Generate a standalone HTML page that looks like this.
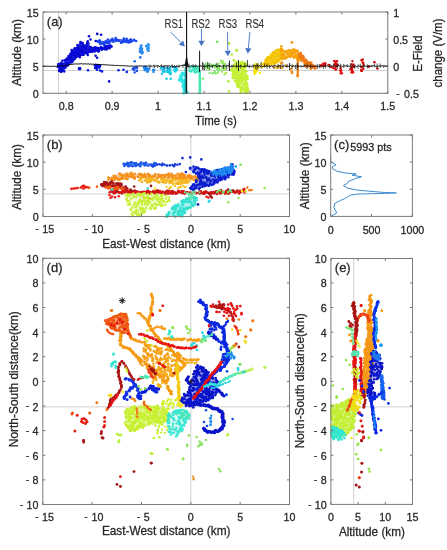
<!DOCTYPE html>
<html><head><meta charset="utf-8"><title>Figure</title>
<style>html,body{margin:0;padding:0;background:#fff;overflow:hidden}svg{display:block}text{stroke:#2a2a2a;stroke-width:0.28px}</style>
</head><body>
<svg width="447" height="550" viewBox="0 0 447 550" font-family="Liberation Sans, Arial, sans-serif">
<rect width="447" height="550" fill="#ffffff"/>
<line x1="58.50" y1="12.00" x2="58.50" y2="93.30" stroke="#d0d0d0" stroke-width="1"/>
<line x1="43.00" y1="70.50" x2="387.80" y2="70.50" stroke="#d0d0d0" stroke-width="1"/>
<line x1="190.90" y1="135.00" x2="190.90" y2="216.50" stroke="#d0d0d0" stroke-width="1"/>
<line x1="43.00" y1="193.90" x2="289.50" y2="193.90" stroke="#d0d0d0" stroke-width="1"/>
<line x1="190.82" y1="258.30" x2="190.82" y2="504.50" stroke="#d0d0d0" stroke-width="1"/>
<line x1="42.80" y1="406.90" x2="289.50" y2="406.90" stroke="#d0d0d0" stroke-width="1"/>
<line x1="353.75" y1="258.50" x2="353.75" y2="504.40" stroke="#d0d0d0" stroke-width="1"/>
<line x1="330.90" y1="406.90" x2="412.50" y2="406.90" stroke="#d0d0d0" stroke-width="1"/>
<polygon points="58.4,71.3 58.4,63.5 60.6,63.3 63.4,62.4 66.8,59.0 69.6,53.4 71.8,50.6 75.7,47.8 78.5,44.5 80.2,42.2 82.4,42.8 84.7,44.5 87.0,43.6 89.0,44.7 91.7,47.4 98.4,48.1 105.1,46.1 110.5,45.4 111.5,47.0 108.5,49.4 105.1,49.4 98.4,50.8 93.7,52.1 88.0,52.9 83.6,54.5 79.6,56.8 76.8,57.9 73.5,59.6 68.5,65.7 65.1,68.0 64.5,71.3" fill="#0a0ad7" fill-opacity="0.92"/>
<g fill="#0a0ad7"><circle cx="86.9" cy="52.8" r="1.25"/><circle cx="68.0" cy="59.1" r="1.25"/><circle cx="87.5" cy="44.0" r="1.25"/><circle cx="82.5" cy="50.9" r="1.25"/><circle cx="71.4" cy="58.9" r="1.25"/><circle cx="97.1" cy="50.6" r="1.25"/><circle cx="110.4" cy="45.6" r="1.25"/><circle cx="61.5" cy="64.6" r="1.25"/><circle cx="73.2" cy="54.3" r="1.25"/><circle cx="109.3" cy="46.6" r="1.25"/><circle cx="70.8" cy="56.3" r="1.25"/><circle cx="89.7" cy="49.8" r="1.25"/><circle cx="79.2" cy="53.8" r="1.25"/><circle cx="59.8" cy="67.6" r="1.25"/><circle cx="71.8" cy="52.3" r="1.25"/><circle cx="77.7" cy="45.8" r="1.25"/><circle cx="76.6" cy="49.9" r="1.25"/><circle cx="59.6" cy="69.9" r="1.25"/><circle cx="86.5" cy="46.5" r="1.25"/><circle cx="72.3" cy="52.9" r="1.25"/><circle cx="67.3" cy="64.7" r="1.25"/><circle cx="75.9" cy="48.7" r="1.25"/><circle cx="70.4" cy="57.3" r="1.25"/><circle cx="67.9" cy="65.2" r="1.25"/><circle cx="66.2" cy="66.3" r="1.25"/><circle cx="102.3" cy="48.3" r="1.25"/><circle cx="71.8" cy="50.7" r="1.25"/><circle cx="71.2" cy="59.3" r="1.25"/><circle cx="72.2" cy="54.4" r="1.25"/><circle cx="77.2" cy="55.5" r="1.25"/><circle cx="81.8" cy="47.5" r="1.25"/><circle cx="58.6" cy="65.5" r="1.25"/><circle cx="75.7" cy="57.3" r="1.25"/><circle cx="66.6" cy="63.0" r="1.25"/><circle cx="79.5" cy="56.4" r="1.25"/><circle cx="85.8" cy="52.1" r="1.25"/><circle cx="61.8" cy="70.9" r="1.25"/><circle cx="60.5" cy="64.9" r="1.25"/><circle cx="101.9" cy="49.7" r="1.25"/><circle cx="62.2" cy="69.5" r="1.25"/><circle cx="62.8" cy="67.1" r="1.25"/><circle cx="61.9" cy="67.3" r="1.25"/><circle cx="82.5" cy="52.1" r="1.25"/><circle cx="86.4" cy="49.1" r="1.25"/><circle cx="75.0" cy="51.1" r="1.25"/><circle cx="98.7" cy="50.6" r="1.25"/><circle cx="85.0" cy="47.4" r="1.25"/><circle cx="68.5" cy="56.0" r="1.25"/><circle cx="79.9" cy="52.3" r="1.25"/><circle cx="62.2" cy="63.8" r="1.25"/><circle cx="62.9" cy="66.7" r="1.25"/><circle cx="74.0" cy="55.6" r="1.25"/><circle cx="74.8" cy="52.6" r="1.25"/><circle cx="69.1" cy="56.9" r="1.25"/><circle cx="74.6" cy="49.0" r="1.25"/><circle cx="79.1" cy="51.7" r="1.25"/><circle cx="110.7" cy="46.5" r="1.25"/><circle cx="60.7" cy="66.5" r="1.25"/><circle cx="64.0" cy="66.5" r="1.25"/><circle cx="97.5" cy="49.5" r="1.25"/><circle cx="97.1" cy="48.2" r="1.25"/><circle cx="84.6" cy="53.3" r="1.25"/><circle cx="94.3" cy="50.7" r="1.25"/><circle cx="83.2" cy="45.6" r="1.25"/><circle cx="105.9" cy="48.0" r="1.25"/><circle cx="82.3" cy="50.0" r="1.25"/><circle cx="69.6" cy="59.1" r="1.25"/><circle cx="109.0" cy="46.1" r="1.25"/><circle cx="82.3" cy="51.0" r="1.25"/><circle cx="58.5" cy="64.0" r="1.25"/><circle cx="78.2" cy="53.6" r="1.25"/><circle cx="77.6" cy="54.7" r="1.25"/><circle cx="63.8" cy="66.5" r="1.25"/><circle cx="85.5" cy="47.7" r="1.25"/><circle cx="107.6" cy="45.9" r="1.25"/><circle cx="83.5" cy="52.2" r="1.25"/><circle cx="93.2" cy="51.0" r="1.25"/><circle cx="84.8" cy="48.6" r="1.25"/><circle cx="82.3" cy="46.3" r="1.25"/><circle cx="78.4" cy="52.0" r="1.25"/><circle cx="109.8" cy="45.9" r="1.25"/><circle cx="104.2" cy="48.5" r="1.25"/><circle cx="79.6" cy="55.2" r="1.25"/><circle cx="60.5" cy="65.0" r="1.25"/><circle cx="92.7" cy="51.0" r="1.25"/><circle cx="79.0" cy="48.7" r="1.25"/><circle cx="74.4" cy="55.6" r="1.25"/><circle cx="80.7" cy="49.7" r="1.25"/><circle cx="76.4" cy="54.4" r="1.25"/><circle cx="94.6" cy="48.0" r="1.25"/><circle cx="85.2" cy="48.2" r="1.25"/><circle cx="101.9" cy="48.9" r="1.25"/><circle cx="84.7" cy="47.7" r="1.25"/><circle cx="70.3" cy="54.3" r="1.25"/><circle cx="78.3" cy="51.9" r="1.25"/><circle cx="73.3" cy="52.4" r="1.25"/><circle cx="109.1" cy="45.8" r="1.25"/><circle cx="109.6" cy="48.2" r="1.25"/><circle cx="76.4" cy="50.1" r="1.25"/><circle cx="75.2" cy="50.2" r="1.25"/><circle cx="58.6" cy="64.2" r="1.25"/><circle cx="70.8" cy="56.0" r="1.25"/><circle cx="78.9" cy="49.5" r="1.25"/><circle cx="107.7" cy="47.5" r="1.25"/><circle cx="90.6" cy="51.7" r="1.25"/><circle cx="75.4" cy="52.7" r="1.25"/><circle cx="68.9" cy="64.1" r="1.25"/><circle cx="70.8" cy="54.3" r="1.25"/><circle cx="89.1" cy="51.7" r="1.25"/><circle cx="85.3" cy="48.9" r="1.25"/><circle cx="71.9" cy="59.6" r="1.25"/><circle cx="93.0" cy="48.1" r="1.25"/><circle cx="67.1" cy="62.4" r="1.25"/><circle cx="80.2" cy="50.4" r="1.25"/><circle cx="75.0" cy="58.7" r="1.25"/><circle cx="77.4" cy="54.3" r="1.25"/><circle cx="77.7" cy="47.9" r="1.25"/><circle cx="97.1" cy="48.1" r="1.25"/><circle cx="59.0" cy="71.1" r="1.25"/><circle cx="58.2" cy="65.5" r="1.25"/><circle cx="57.9" cy="66.9" r="1.25"/><circle cx="59.8" cy="64.0" r="1.25"/><circle cx="61.0" cy="63.0" r="1.25"/><circle cx="64.5" cy="60.3" r="1.25"/><circle cx="65.9" cy="60.0" r="1.25"/><circle cx="68.7" cy="57.0" r="1.25"/><circle cx="66.8" cy="58.6" r="1.25"/><circle cx="71.7" cy="50.0" r="1.25"/><circle cx="75.2" cy="48.7" r="1.25"/><circle cx="74.7" cy="48.3" r="1.25"/><circle cx="77.5" cy="45.1" r="1.25"/><circle cx="80.5" cy="42.0" r="1.25"/><circle cx="80.5" cy="42.4" r="1.25"/><circle cx="82.7" cy="43.0" r="1.25"/><circle cx="87.0" cy="43.1" r="1.25"/><circle cx="88.5" cy="43.5" r="1.25"/><circle cx="90.7" cy="47.1" r="1.25"/><circle cx="95.6" cy="47.5" r="1.25"/><circle cx="94.6" cy="47.6" r="1.25"/><circle cx="96.0" cy="47.8" r="1.25"/><circle cx="98.7" cy="48.0" r="1.25"/><circle cx="100.4" cy="48.1" r="1.25"/><circle cx="101.0" cy="47.1" r="1.25"/><circle cx="105.1" cy="45.9" r="1.25"/><circle cx="105.5" cy="46.1" r="1.25"/><circle cx="111.6" cy="46.4" r="1.25"/><circle cx="106.5" cy="49.4" r="1.25"/><circle cx="104.7" cy="49.3" r="1.25"/><circle cx="98.1" cy="51.3" r="1.25"/><circle cx="98.8" cy="51.3" r="1.25"/><circle cx="98.3" cy="51.0" r="1.25"/><circle cx="94.6" cy="51.5" r="1.25"/><circle cx="89.9" cy="52.0" r="1.25"/><circle cx="92.1" cy="51.8" r="1.25"/><circle cx="83.7" cy="54.8" r="1.25"/><circle cx="87.4" cy="53.8" r="1.25"/><circle cx="82.4" cy="55.0" r="1.25"/><circle cx="81.6" cy="54.7" r="1.25"/><circle cx="79.8" cy="57.3" r="1.25"/><circle cx="73.3" cy="59.9" r="1.25"/><circle cx="73.0" cy="60.5" r="1.25"/><circle cx="72.3" cy="61.9" r="1.25"/><circle cx="71.2" cy="62.5" r="1.25"/><circle cx="65.3" cy="67.8" r="1.25"/><circle cx="64.2" cy="71.4" r="1.25"/><circle cx="60.8" cy="71.7" r="1.25"/><circle cx="61.3" cy="71.7" r="1.25"/></g>
<defs><linearGradient id="gA1" gradientUnits="userSpaceOnUse" x1="98" y1="0" x2="137" y2="0"><stop offset="0" stop-color="#1028e8"/><stop offset="1" stop-color="#2a64f0"/></linearGradient></defs>
<polygon points="98.4,40.7 105.1,41.0 115.0,38.7 125.0,39.2 133.0,39.8 136.8,40.8 133.0,42.0 122.0,42.2 115.0,41.6 108.5,43.0 101.8,44.7 98.4,43.5" fill="url(#gA1)" fill-opacity="0.8"/>
<g fill="#1a44ec"><circle cx="100.3" cy="43.6" r="1.25"/><circle cx="108.1" cy="42.5" r="1.25"/><circle cx="123.9" cy="40.6" r="1.25"/><circle cx="104.1" cy="42.4" r="1.25"/><circle cx="107.1" cy="42.6" r="1.25"/><circle cx="112.1" cy="40.0" r="1.25"/><circle cx="106.2" cy="42.4" r="1.25"/><circle cx="116.6" cy="39.5" r="1.25"/><circle cx="134.4" cy="40.2" r="1.25"/><circle cx="128.4" cy="41.1" r="1.25"/><circle cx="123.2" cy="42.1" r="1.25"/><circle cx="126.6" cy="40.2" r="1.25"/><circle cx="118.8" cy="41.1" r="1.25"/><circle cx="121.8" cy="41.7" r="1.25"/><circle cx="115.8" cy="40.1" r="1.25"/><circle cx="108.6" cy="42.0" r="1.25"/><circle cx="118.5" cy="40.3" r="1.25"/><circle cx="107.5" cy="43.2" r="1.25"/><circle cx="111.0" cy="40.1" r="1.25"/><circle cx="131.3" cy="41.3" r="1.25"/><circle cx="126.2" cy="42.1" r="1.25"/><circle cx="100.0" cy="41.0" r="1.25"/><circle cx="99.6" cy="40.2" r="1.25"/><circle cx="98.0" cy="41.4" r="1.25"/><circle cx="107.9" cy="39.5" r="1.25"/><circle cx="105.8" cy="41.1" r="1.25"/><circle cx="112.4" cy="38.7" r="1.25"/><circle cx="110.7" cy="40.2" r="1.25"/><circle cx="123.8" cy="38.4" r="1.25"/><circle cx="124.3" cy="39.8" r="1.25"/><circle cx="115.6" cy="38.1" r="1.25"/><circle cx="115.9" cy="39.2" r="1.25"/><circle cx="130.6" cy="39.8" r="1.25"/><circle cx="126.7" cy="38.7" r="1.25"/><circle cx="130.6" cy="39.4" r="1.25"/><circle cx="133.8" cy="39.8" r="1.25"/><circle cx="136.1" cy="40.9" r="1.25"/><circle cx="130.2" cy="42.1" r="1.25"/><circle cx="123.8" cy="41.4" r="1.25"/><circle cx="128.4" cy="42.5" r="1.25"/><circle cx="129.5" cy="42.1" r="1.25"/><circle cx="131.2" cy="41.4" r="1.25"/><circle cx="115.7" cy="40.9" r="1.25"/><circle cx="121.0" cy="42.8" r="1.25"/><circle cx="122.0" cy="42.2" r="1.25"/><circle cx="109.3" cy="42.7" r="1.25"/><circle cx="113.3" cy="41.7" r="1.25"/><circle cx="108.5" cy="42.5" r="1.25"/><circle cx="103.8" cy="43.6" r="1.25"/><circle cx="103.6" cy="44.5" r="1.25"/><circle cx="104.3" cy="44.4" r="1.25"/><circle cx="100.4" cy="44.1" r="1.25"/><circle cx="97.7" cy="41.6" r="1.25"/></g>
<g fill="#0a0ad7"><circle cx="89.0" cy="36.3" r="1.3"/><circle cx="97.2" cy="33.9" r="1.3"/><circle cx="101.1" cy="34.7" r="1.3"/><circle cx="95.7" cy="41.0" r="1.3"/><circle cx="87.7" cy="41.4" r="1.3"/><circle cx="95.6" cy="55.8" r="1.3"/><circle cx="87.8" cy="55.0" r="1.3"/><circle cx="97.1" cy="57.8" r="1.3"/><circle cx="62.3" cy="60.8" r="1.3"/><circle cx="109.1" cy="81.4" r="1.3"/><circle cx="90.5" cy="39.5" r="1.3"/></g>
<g fill="#0a0ad7"><circle cx="79.6" cy="68.6" r="1.9"/></g>
<g fill="#0a14dc"><circle cx="95.1" cy="68.1" r="1.3"/><circle cx="97.0" cy="66.0" r="1.3"/><circle cx="100.1" cy="65.4" r="1.3"/><circle cx="96.7" cy="66.6" r="1.3"/><circle cx="99.0" cy="67.5" r="1.3"/><circle cx="98.2" cy="65.9" r="1.3"/><circle cx="95.6" cy="65.1" r="1.3"/><circle cx="99.7" cy="67.1" r="1.3"/><circle cx="98.9" cy="65.2" r="1.3"/><circle cx="96.5" cy="67.6" r="1.3"/><circle cx="97.6" cy="65.0" r="1.3"/><circle cx="96.7" cy="68.0" r="1.3"/><circle cx="94.9" cy="65.3" r="1.3"/><circle cx="95.4" cy="67.3" r="1.3"/></g>
<g fill="#0a1ee0"><circle cx="97.0" cy="69.7" r="1.3"/><circle cx="88.0" cy="70.3" r="1.3"/><circle cx="102.0" cy="71.4" r="1.3"/><circle cx="118.5" cy="70.3" r="1.3"/><circle cx="123.5" cy="69.7" r="1.3"/><circle cx="126.8" cy="71.9" r="1.3"/><circle cx="100.0" cy="70.5" r="1.3"/></g>
<g fill="#1e50f0"><circle cx="137.1" cy="67.8" r="1.2"/><circle cx="133.3" cy="68.3" r="1.2"/><circle cx="134.2" cy="69.8" r="1.2"/><circle cx="133.3" cy="68.7" r="1.2"/><circle cx="136.5" cy="67.5" r="1.2"/><circle cx="134.6" cy="72.4" r="1.2"/><circle cx="136.9" cy="71.0" r="1.2"/><circle cx="134.8" cy="68.0" r="1.2"/><circle cx="136.0" cy="67.5" r="1.2"/><circle cx="133.6" cy="69.1" r="1.2"/><circle cx="132.6" cy="69.1" r="1.2"/><circle cx="136.8" cy="70.8" r="1.2"/></g>
<g fill="#1e64f0"><circle cx="134.7" cy="61.3" r="1.3"/><circle cx="140.3" cy="57.4" r="1.3"/></g>
<g fill="#2a8cf0"><circle cx="141.0" cy="50.8" r="1.2"/><circle cx="140.8" cy="45.9" r="1.2"/><circle cx="141.5" cy="48.5" r="1.2"/><circle cx="142.1" cy="53.6" r="1.2"/><circle cx="140.7" cy="50.2" r="1.2"/><circle cx="142.1" cy="48.7" r="1.2"/><circle cx="139.8" cy="51.7" r="1.2"/><circle cx="142.7" cy="52.2" r="1.2"/><circle cx="141.9" cy="53.0" r="1.2"/><circle cx="141.8" cy="50.9" r="1.2"/><circle cx="140.8" cy="47.6" r="1.2"/><circle cx="141.6" cy="45.5" r="1.2"/><circle cx="140.6" cy="52.3" r="1.2"/><circle cx="141.9" cy="50.8" r="1.2"/><circle cx="139.9" cy="48.7" r="1.2"/><circle cx="140.8" cy="50.7" r="1.2"/></g>
<g fill="#2a96f0"><circle cx="147.4" cy="49.5" r="1.2"/><circle cx="148.4" cy="50.4" r="1.2"/><circle cx="147.4" cy="47.9" r="1.2"/><circle cx="148.0" cy="45.0" r="1.2"/><circle cx="147.9" cy="44.5" r="1.2"/><circle cx="148.1" cy="48.4" r="1.2"/><circle cx="148.7" cy="48.1" r="1.2"/><circle cx="148.4" cy="50.9" r="1.2"/><circle cx="147.9" cy="47.2" r="1.2"/><circle cx="148.5" cy="47.1" r="1.2"/><circle cx="148.9" cy="44.7" r="1.2"/><circle cx="146.0" cy="46.0" r="1.2"/></g>
<g fill="#1e82f0"><circle cx="145.3" cy="66.8" r="1.2"/><circle cx="145.4" cy="69.2" r="1.2"/><circle cx="147.3" cy="68.8" r="1.2"/><circle cx="144.4" cy="68.0" r="1.2"/><circle cx="146.2" cy="68.0" r="1.2"/><circle cx="148.1" cy="69.1" r="1.2"/><circle cx="144.0" cy="67.5" r="1.2"/><circle cx="147.9" cy="71.6" r="1.2"/><circle cx="146.9" cy="69.5" r="1.2"/><circle cx="146.4" cy="68.1" r="1.2"/><circle cx="149.2" cy="68.8" r="1.2"/><circle cx="146.9" cy="71.6" r="1.2"/><circle cx="148.2" cy="69.5" r="1.2"/><circle cx="144.6" cy="70.0" r="1.2"/></g>
<g fill="#1e8cf0"><circle cx="153.5" cy="72.1" r="1.2"/><circle cx="153.3" cy="70.2" r="1.2"/><circle cx="153.3" cy="70.4" r="1.2"/><circle cx="154.2" cy="69.8" r="1.2"/><circle cx="153.3" cy="69.9" r="1.2"/></g>
<g fill="#1ebee6"><circle cx="162.5" cy="69.7" r="1.2"/><circle cx="163.2" cy="71.6" r="1.2"/><circle cx="162.0" cy="73.7" r="1.2"/><circle cx="163.8" cy="67.4" r="1.2"/><circle cx="164.1" cy="71.4" r="1.2"/><circle cx="164.6" cy="71.5" r="1.2"/><circle cx="161.5" cy="67.1" r="1.2"/><circle cx="161.0" cy="68.2" r="1.2"/><circle cx="163.8" cy="69.1" r="1.2"/><circle cx="163.9" cy="67.6" r="1.2"/></g>
<g fill="#14cce6"><circle cx="170.5" cy="72.9" r="1.2"/><circle cx="170.0" cy="73.3" r="1.2"/><circle cx="170.5" cy="74.3" r="1.2"/><circle cx="170.3" cy="69.6" r="1.2"/><circle cx="169.6" cy="72.2" r="1.2"/><circle cx="169.9" cy="71.5" r="1.2"/><circle cx="170.5" cy="72.4" r="1.2"/><circle cx="167.8" cy="69.9" r="1.2"/><circle cx="167.2" cy="71.9" r="1.2"/><circle cx="166.9" cy="71.7" r="1.2"/><circle cx="167.2" cy="71.9" r="1.2"/><circle cx="168.8" cy="72.3" r="1.2"/></g>
<g fill="#14d2e6"><circle cx="176.8" cy="69.7" r="1.2"/><circle cx="175.8" cy="70.4" r="1.2"/><circle cx="176.8" cy="69.3" r="1.2"/><circle cx="175.3" cy="71.5" r="1.2"/><circle cx="174.1" cy="70.3" r="1.2"/><circle cx="176.1" cy="68.1" r="1.2"/></g>
<g fill="#10b4dc"><circle cx="169.8" cy="68.5" r="1.0"/><circle cx="174.9" cy="67.5" r="1.0"/><circle cx="175.7" cy="68.0" r="1.0"/><circle cx="167.8" cy="69.2" r="1.0"/><circle cx="170.0" cy="67.5" r="1.0"/><circle cx="173.8" cy="67.6" r="1.0"/><circle cx="167.6" cy="68.1" r="1.0"/><circle cx="172.3" cy="67.1" r="1.0"/><circle cx="167.0" cy="67.8" r="1.0"/><circle cx="168.9" cy="69.0" r="1.0"/><circle cx="164.7" cy="69.0" r="1.0"/><circle cx="166.5" cy="68.0" r="1.0"/><circle cx="164.3" cy="68.0" r="1.0"/><circle cx="175.6" cy="68.5" r="1.0"/></g>
<g fill="#14d2e6"><circle cx="166.6" cy="78.8" r="1.3"/><circle cx="170.7" cy="78.8" r="1.3"/></g>
<polygon points="181.9,72.5 183.6,72.5 184.1,75.2 181.9,77.0 182.8,79.2 185.0,82.4 185.9,86.9 186.8,93.1 183.2,93.1 183.6,88.6 181.9,84.2 179.6,80.6 178.3,77.9 180.1,75.7" fill="#28e6e6" fill-opacity="0.85"/>
<g fill="#28e6e6"><circle cx="181.0" cy="78.7" r="1.25"/><circle cx="183.3" cy="85.6" r="1.25"/><circle cx="184.4" cy="90.7" r="1.25"/><circle cx="182.9" cy="73.5" r="1.25"/><circle cx="183.5" cy="86.1" r="1.25"/><circle cx="185.0" cy="91.2" r="1.25"/><circle cx="183.5" cy="85.2" r="1.25"/><circle cx="183.6" cy="86.8" r="1.25"/><circle cx="183.4" cy="86.5" r="1.25"/><circle cx="185.0" cy="84.1" r="1.25"/><circle cx="180.5" cy="78.7" r="1.25"/><circle cx="181.9" cy="79.1" r="1.25"/><circle cx="183.1" cy="73.3" r="1.25"/><circle cx="182.1" cy="72.8" r="1.25"/><circle cx="186.3" cy="92.7" r="1.25"/><circle cx="182.3" cy="81.0" r="1.25"/><circle cx="184.9" cy="87.2" r="1.25"/><circle cx="185.6" cy="87.5" r="1.25"/><circle cx="184.3" cy="82.0" r="1.25"/><circle cx="183.8" cy="89.3" r="1.25"/><circle cx="183.3" cy="73.1" r="1.25"/><circle cx="184.3" cy="75.5" r="1.25"/><circle cx="181.7" cy="77.3" r="1.25"/><circle cx="184.0" cy="80.0" r="1.25"/><circle cx="185.5" cy="86.2" r="1.25"/><circle cx="185.4" cy="85.1" r="1.25"/><circle cx="187.3" cy="92.2" r="1.25"/><circle cx="186.1" cy="89.7" r="1.25"/><circle cx="183.6" cy="93.6" r="1.25"/><circle cx="183.5" cy="92.4" r="1.25"/><circle cx="183.7" cy="89.1" r="1.25"/><circle cx="183.5" cy="86.5" r="1.25"/><circle cx="182.6" cy="86.2" r="1.25"/><circle cx="179.7" cy="80.5" r="1.25"/><circle cx="179.1" cy="80.0" r="1.25"/><circle cx="180.4" cy="75.4" r="1.25"/><circle cx="182.1" cy="73.6" r="1.25"/></g>
<polyline points="185.8,68.0 185.8,93.0" fill="none" stroke="#1e9c9c" stroke-width="2.4" stroke-linecap="round" stroke-linejoin="round"/>
<g fill="#3ce6c0"><circle cx="194.8" cy="68.0" r="1.2"/><circle cx="198.1" cy="71.6" r="1.2"/><circle cx="196.1" cy="72.3" r="1.2"/><circle cx="192.2" cy="66.7" r="1.2"/><circle cx="194.6" cy="71.5" r="1.2"/><circle cx="190.5" cy="71.2" r="1.2"/><circle cx="195.2" cy="70.7" r="1.2"/><circle cx="193.6" cy="67.5" r="1.2"/><circle cx="191.2" cy="71.2" r="1.2"/><circle cx="197.4" cy="69.2" r="1.2"/><circle cx="197.2" cy="67.7" r="1.2"/><circle cx="194.9" cy="72.2" r="1.2"/><circle cx="198.5" cy="69.6" r="1.2"/><circle cx="193.7" cy="70.1" r="1.2"/><circle cx="190.4" cy="67.4" r="1.2"/><circle cx="190.3" cy="70.9" r="1.2"/><circle cx="192.4" cy="69.9" r="1.2"/><circle cx="192.9" cy="69.6" r="1.2"/><circle cx="189.4" cy="70.4" r="1.2"/><circle cx="197.3" cy="67.2" r="1.2"/><circle cx="195.1" cy="68.4" r="1.2"/><circle cx="194.2" cy="66.2" r="1.2"/><circle cx="198.2" cy="69.4" r="1.2"/><circle cx="194.8" cy="67.9" r="1.2"/></g>
<polyline points="199.8,72.0 199.8,93.0" fill="none" stroke="#46e6b4" stroke-width="2.6" stroke-linecap="round" stroke-linejoin="round"/>
<g fill="#7ae664"><circle cx="218.3" cy="67.7" r="1.15"/><circle cx="207.3" cy="65.0" r="1.15"/><circle cx="214.1" cy="72.6" r="1.15"/><circle cx="212.2" cy="73.4" r="1.15"/><circle cx="214.9" cy="67.4" r="1.15"/><circle cx="208.4" cy="69.2" r="1.15"/><circle cx="215.7" cy="73.5" r="1.15"/><circle cx="216.2" cy="67.3" r="1.15"/><circle cx="212.0" cy="64.8" r="1.15"/><circle cx="208.4" cy="66.9" r="1.15"/><circle cx="218.4" cy="70.8" r="1.15"/><circle cx="216.4" cy="66.3" r="1.15"/><circle cx="214.7" cy="71.3" r="1.15"/><circle cx="205.5" cy="66.6" r="1.15"/><circle cx="208.4" cy="64.4" r="1.15"/><circle cx="212.6" cy="64.9" r="1.15"/><circle cx="208.0" cy="64.6" r="1.15"/><circle cx="217.1" cy="65.1" r="1.15"/><circle cx="206.2" cy="67.9" r="1.15"/><circle cx="219.5" cy="69.9" r="1.15"/><circle cx="212.1" cy="66.7" r="1.15"/><circle cx="219.1" cy="68.3" r="1.15"/><circle cx="215.4" cy="64.6" r="1.15"/><circle cx="217.1" cy="69.1" r="1.15"/><circle cx="208.6" cy="67.5" r="1.15"/><circle cx="206.5" cy="66.0" r="1.15"/><circle cx="219.5" cy="66.7" r="1.15"/><circle cx="206.7" cy="68.4" r="1.15"/><circle cx="209.5" cy="72.9" r="1.15"/><circle cx="216.2" cy="65.3" r="1.15"/><circle cx="212.6" cy="66.1" r="1.15"/><circle cx="208.4" cy="65.2" r="1.15"/><circle cx="205.4" cy="66.2" r="1.15"/><circle cx="217.3" cy="66.2" r="1.15"/></g>
<g fill="#78e664"><circle cx="203.0" cy="78.6" r="1.2"/><circle cx="206.0" cy="64.0" r="1.2"/></g>
<g fill="#8ce650"><circle cx="224.1" cy="66.0" r="1.15"/><circle cx="224.3" cy="68.9" r="1.15"/><circle cx="217.9" cy="67.5" r="1.15"/><circle cx="225.1" cy="64.0" r="1.15"/><circle cx="221.7" cy="62.7" r="1.15"/><circle cx="217.8" cy="72.8" r="1.15"/><circle cx="223.1" cy="63.6" r="1.15"/><circle cx="222.1" cy="68.4" r="1.15"/><circle cx="218.7" cy="63.8" r="1.15"/><circle cx="222.1" cy="71.8" r="1.15"/><circle cx="224.1" cy="69.8" r="1.15"/><circle cx="223.3" cy="67.0" r="1.15"/><circle cx="223.2" cy="61.4" r="1.15"/><circle cx="224.1" cy="65.9" r="1.15"/><circle cx="224.4" cy="74.3" r="1.15"/><circle cx="220.9" cy="60.7" r="1.15"/><circle cx="225.1" cy="68.1" r="1.15"/><circle cx="224.7" cy="64.8" r="1.15"/></g>
<polygon points="231.8,70.2 235.1,62.4 240.7,61.8 245.2,63.5 246.3,71.3 247.4,87.0 248.6,92.6 240.7,92.6 237.4,84.7 232.9,76.9" fill="#c3f032" fill-opacity="0.7"/>
<g fill="#c3f032"><circle cx="238.0" cy="66.8" r="1.25"/><circle cx="238.0" cy="80.1" r="1.25"/><circle cx="239.3" cy="77.7" r="1.25"/><circle cx="245.5" cy="88.5" r="1.25"/><circle cx="237.2" cy="83.7" r="1.25"/><circle cx="238.2" cy="84.9" r="1.25"/><circle cx="240.4" cy="78.1" r="1.25"/><circle cx="240.8" cy="62.4" r="1.25"/><circle cx="234.9" cy="65.0" r="1.25"/><circle cx="243.5" cy="67.8" r="1.25"/><circle cx="241.5" cy="77.9" r="1.25"/><circle cx="243.6" cy="65.0" r="1.25"/><circle cx="246.4" cy="83.9" r="1.25"/><circle cx="240.1" cy="77.2" r="1.25"/><circle cx="236.5" cy="65.6" r="1.25"/><circle cx="238.6" cy="66.0" r="1.25"/><circle cx="241.7" cy="88.3" r="1.25"/><circle cx="244.3" cy="66.9" r="1.25"/><circle cx="245.7" cy="90.7" r="1.25"/><circle cx="238.3" cy="74.8" r="1.25"/><circle cx="245.9" cy="78.0" r="1.25"/><circle cx="244.9" cy="72.2" r="1.25"/><circle cx="235.8" cy="72.1" r="1.25"/><circle cx="245.3" cy="89.9" r="1.25"/><circle cx="245.5" cy="87.9" r="1.25"/><circle cx="247.9" cy="90.6" r="1.25"/><circle cx="236.0" cy="74.8" r="1.25"/><circle cx="242.4" cy="73.0" r="1.25"/><circle cx="240.7" cy="63.9" r="1.25"/><circle cx="239.1" cy="77.3" r="1.25"/><circle cx="245.4" cy="89.0" r="1.25"/><circle cx="242.6" cy="70.0" r="1.25"/><circle cx="243.2" cy="70.2" r="1.25"/><circle cx="240.9" cy="90.3" r="1.25"/><circle cx="242.2" cy="69.5" r="1.25"/><circle cx="240.5" cy="75.2" r="1.25"/><circle cx="236.9" cy="81.7" r="1.25"/><circle cx="236.3" cy="76.2" r="1.25"/><circle cx="240.8" cy="66.4" r="1.25"/><circle cx="233.9" cy="65.8" r="1.25"/><circle cx="236.7" cy="74.3" r="1.25"/><circle cx="236.6" cy="69.3" r="1.25"/><circle cx="245.9" cy="80.6" r="1.25"/><circle cx="241.4" cy="81.8" r="1.25"/><circle cx="239.5" cy="78.7" r="1.25"/><circle cx="242.1" cy="76.2" r="1.25"/><circle cx="237.0" cy="69.3" r="1.25"/><circle cx="235.5" cy="77.6" r="1.25"/><circle cx="238.2" cy="79.8" r="1.25"/><circle cx="241.2" cy="76.9" r="1.25"/><circle cx="246.4" cy="75.4" r="1.25"/><circle cx="232.8" cy="73.7" r="1.25"/><circle cx="239.2" cy="84.5" r="1.25"/><circle cx="233.6" cy="68.7" r="1.25"/><circle cx="234.4" cy="72.2" r="1.25"/><circle cx="237.7" cy="82.6" r="1.25"/><circle cx="242.2" cy="88.0" r="1.25"/><circle cx="245.6" cy="77.7" r="1.25"/><circle cx="244.2" cy="84.7" r="1.25"/><circle cx="244.6" cy="76.4" r="1.25"/><circle cx="245.0" cy="83.6" r="1.25"/><circle cx="244.7" cy="79.8" r="1.25"/><circle cx="241.4" cy="74.7" r="1.25"/><circle cx="245.0" cy="88.7" r="1.25"/><circle cx="242.0" cy="73.5" r="1.25"/><circle cx="239.4" cy="75.9" r="1.25"/><circle cx="243.9" cy="70.8" r="1.25"/><circle cx="238.4" cy="78.9" r="1.25"/><circle cx="238.3" cy="71.7" r="1.25"/><circle cx="245.0" cy="88.0" r="1.25"/><circle cx="240.2" cy="75.5" r="1.25"/><circle cx="234.9" cy="71.2" r="1.25"/><circle cx="241.6" cy="64.5" r="1.25"/><circle cx="246.0" cy="87.6" r="1.25"/><circle cx="241.3" cy="77.1" r="1.25"/><circle cx="247.3" cy="85.6" r="1.25"/><circle cx="240.8" cy="92.5" r="1.25"/><circle cx="240.5" cy="77.7" r="1.25"/><circle cx="243.3" cy="73.8" r="1.25"/><circle cx="237.8" cy="80.1" r="1.25"/><circle cx="243.2" cy="78.0" r="1.25"/><circle cx="233.5" cy="73.3" r="1.25"/><circle cx="238.5" cy="79.1" r="1.25"/><circle cx="241.4" cy="88.9" r="1.25"/><circle cx="239.2" cy="81.0" r="1.25"/><circle cx="240.7" cy="86.9" r="1.25"/><circle cx="234.7" cy="71.6" r="1.25"/><circle cx="240.4" cy="65.2" r="1.25"/><circle cx="246.8" cy="83.0" r="1.25"/><circle cx="245.6" cy="92.3" r="1.25"/><circle cx="234.4" cy="70.7" r="1.25"/><circle cx="240.4" cy="77.4" r="1.25"/><circle cx="235.0" cy="67.4" r="1.25"/><circle cx="242.4" cy="80.4" r="1.25"/><circle cx="242.5" cy="63.1" r="1.25"/><circle cx="238.7" cy="86.1" r="1.25"/><circle cx="237.0" cy="83.1" r="1.25"/><circle cx="245.9" cy="79.9" r="1.25"/><circle cx="243.0" cy="67.9" r="1.25"/><circle cx="240.2" cy="78.8" r="1.25"/><circle cx="236.3" cy="81.7" r="1.25"/><circle cx="240.7" cy="92.5" r="1.25"/><circle cx="241.5" cy="74.5" r="1.25"/><circle cx="233.8" cy="66.6" r="1.25"/><circle cx="244.6" cy="65.1" r="1.25"/><circle cx="231.6" cy="69.5" r="1.25"/><circle cx="234.7" cy="64.3" r="1.25"/><circle cx="231.2" cy="70.1" r="1.25"/><circle cx="237.3" cy="62.0" r="1.25"/><circle cx="235.7" cy="61.7" r="1.25"/><circle cx="244.9" cy="63.1" r="1.25"/><circle cx="242.5" cy="61.9" r="1.25"/><circle cx="246.3" cy="71.2" r="1.25"/><circle cx="245.9" cy="66.5" r="1.25"/><circle cx="245.9" cy="64.4" r="1.25"/><circle cx="247.3" cy="76.7" r="1.25"/><circle cx="246.8" cy="76.8" r="1.25"/><circle cx="247.6" cy="78.7" r="1.25"/><circle cx="247.1" cy="77.0" r="1.25"/><circle cx="247.2" cy="76.1" r="1.25"/><circle cx="246.8" cy="83.2" r="1.25"/><circle cx="246.2" cy="77.7" r="1.25"/><circle cx="247.8" cy="88.0" r="1.25"/><circle cx="247.9" cy="89.8" r="1.25"/><circle cx="247.5" cy="93.1" r="1.25"/><circle cx="245.4" cy="92.1" r="1.25"/><circle cx="245.9" cy="91.9" r="1.25"/><circle cx="238.3" cy="86.8" r="1.25"/><circle cx="237.7" cy="86.7" r="1.25"/><circle cx="237.3" cy="85.9" r="1.25"/><circle cx="234.1" cy="77.6" r="1.25"/><circle cx="236.2" cy="81.8" r="1.25"/><circle cx="232.6" cy="77.9" r="1.25"/><circle cx="234.7" cy="80.7" r="1.25"/><circle cx="233.1" cy="75.6" r="1.25"/><circle cx="232.1" cy="70.7" r="1.25"/><circle cx="232.8" cy="74.8" r="1.25"/></g>
<g fill="#6ee650"><circle cx="217.2" cy="41.7" r="1.3"/></g>
<g fill="#b0eb32"><circle cx="229.0" cy="43.4" r="1.3"/><circle cx="236.8" cy="50.6" r="1.3"/><circle cx="231.8" cy="54.5" r="1.3"/><circle cx="228.4" cy="81.4" r="1.3"/><circle cx="229.0" cy="91.5" r="1.3"/><circle cx="233.7" cy="60.1" r="1.3"/><circle cx="236.4" cy="50.0" r="1.3"/><circle cx="226.0" cy="73.0" r="1.3"/></g>
<g fill="#f5e600"><circle cx="257.1" cy="70.0" r="1.2"/><circle cx="255.4" cy="72.8" r="1.2"/><circle cx="256.2" cy="71.4" r="1.2"/><circle cx="257.5" cy="67.2" r="1.2"/><circle cx="256.2" cy="64.5" r="1.2"/><circle cx="254.7" cy="73.7" r="1.2"/><circle cx="255.7" cy="71.5" r="1.2"/><circle cx="254.3" cy="70.2" r="1.2"/><circle cx="256.0" cy="69.5" r="1.2"/><circle cx="255.6" cy="64.3" r="1.2"/><circle cx="255.7" cy="66.2" r="1.2"/><circle cx="254.4" cy="72.1" r="1.2"/><circle cx="255.5" cy="68.3" r="1.2"/><circle cx="259.9" cy="72.8" r="1.2"/><circle cx="254.4" cy="66.8" r="1.2"/><circle cx="258.1" cy="67.7" r="1.2"/></g>
<g fill="#f5dc00"><circle cx="259.1" cy="67.0" r="1.1"/><circle cx="262.0" cy="64.5" r="1.1"/><circle cx="263.5" cy="65.1" r="1.1"/><circle cx="261.3" cy="64.1" r="1.1"/><circle cx="262.3" cy="67.3" r="1.1"/><circle cx="256.6" cy="64.2" r="1.1"/><circle cx="258.0" cy="65.3" r="1.1"/><circle cx="255.4" cy="64.9" r="1.1"/></g>
<defs><linearGradient id="gA2" gradientUnits="userSpaceOnUse" x1="262" y1="0" x2="317" y2="0"><stop offset="0" stop-color="#f5d200"/><stop offset="0.35" stop-color="#f5b400"/><stop offset="0.65" stop-color="#f59614"/><stop offset="1" stop-color="#f06414"/></linearGradient></defs>
<polygon points="262.8,65.2 266.2,59.6 270.7,54.6 274.6,50.7 278.5,49.5 279.6,48.4 281.0,48.8 284.1,51.2 288.6,50.7 293.0,49.5 297.5,50.7 299.5,52.3 302.3,54.5 304.5,59.0 309.0,62.4 313.5,64.0 316.8,66.8 312.4,69.1 306.8,66.8 302.3,62.4 300.0,60.1 296.7,59.0 294.5,57.5 290.0,57.2 286.3,57.6 281.8,59.0 277.4,61.8 272.9,64.1 268.4,65.2 262.8,66.0" fill="url(#gA2)" fill-opacity="0.7"/>
<g fill="#f5c300"><circle cx="274.4" cy="52.1" r="1.25"/><circle cx="278.1" cy="58.7" r="1.25"/><circle cx="275.8" cy="53.3" r="1.25"/><circle cx="270.7" cy="60.6" r="1.25"/><circle cx="278.3" cy="59.3" r="1.25"/><circle cx="264.8" cy="62.5" r="1.25"/><circle cx="266.6" cy="64.5" r="1.25"/><circle cx="276.4" cy="50.5" r="1.25"/><circle cx="275.4" cy="55.7" r="1.25"/><circle cx="280.0" cy="56.2" r="1.25"/><circle cx="274.2" cy="56.7" r="1.25"/><circle cx="270.6" cy="57.7" r="1.25"/><circle cx="279.7" cy="51.2" r="1.25"/><circle cx="275.6" cy="62.7" r="1.25"/><circle cx="267.6" cy="58.3" r="1.25"/><circle cx="272.7" cy="53.2" r="1.25"/><circle cx="275.7" cy="60.4" r="1.25"/><circle cx="272.2" cy="56.6" r="1.25"/><circle cx="279.8" cy="55.0" r="1.25"/><circle cx="268.2" cy="64.0" r="1.25"/><circle cx="268.9" cy="62.9" r="1.25"/><circle cx="272.8" cy="61.9" r="1.25"/><circle cx="265.9" cy="60.3" r="1.25"/><circle cx="273.7" cy="56.8" r="1.25"/><circle cx="266.4" cy="60.9" r="1.25"/><circle cx="268.7" cy="57.0" r="1.25"/><circle cx="280.6" cy="58.6" r="1.25"/><circle cx="279.5" cy="60.0" r="1.25"/><circle cx="274.7" cy="53.3" r="1.25"/><circle cx="278.1" cy="54.0" r="1.25"/><circle cx="266.2" cy="59.8" r="1.25"/><circle cx="265.9" cy="62.3" r="1.25"/><circle cx="277.8" cy="54.4" r="1.25"/><circle cx="269.5" cy="58.4" r="1.25"/><circle cx="269.5" cy="63.1" r="1.25"/><circle cx="273.1" cy="59.7" r="1.25"/><circle cx="277.7" cy="61.0" r="1.25"/><circle cx="271.8" cy="57.5" r="1.25"/><circle cx="275.3" cy="51.8" r="1.25"/><circle cx="277.1" cy="56.2" r="1.25"/><circle cx="268.0" cy="60.2" r="1.25"/><circle cx="272.2" cy="56.2" r="1.25"/><circle cx="274.9" cy="63.0" r="1.25"/><circle cx="279.3" cy="51.8" r="1.25"/><circle cx="273.1" cy="54.9" r="1.25"/><circle cx="280.3" cy="59.5" r="1.25"/><circle cx="277.6" cy="50.0" r="1.25"/><circle cx="275.1" cy="59.4" r="1.25"/><circle cx="268.2" cy="58.7" r="1.25"/><circle cx="266.0" cy="60.1" r="1.25"/><circle cx="263.6" cy="64.1" r="1.25"/><circle cx="265.8" cy="59.7" r="1.25"/><circle cx="267.5" cy="57.6" r="1.25"/><circle cx="268.0" cy="57.6" r="1.25"/><circle cx="272.9" cy="52.4" r="1.25"/><circle cx="270.6" cy="54.8" r="1.25"/><circle cx="276.1" cy="50.6" r="1.25"/><circle cx="278.5" cy="49.4" r="1.25"/><circle cx="281.0" cy="51.6" r="1.25"/><circle cx="281.1" cy="50.6" r="1.25"/><circle cx="281.1" cy="53.5" r="1.25"/><circle cx="280.3" cy="53.0" r="1.25"/><circle cx="278.0" cy="61.8" r="1.25"/><circle cx="277.7" cy="61.9" r="1.25"/><circle cx="273.5" cy="64.0" r="1.25"/><circle cx="275.1" cy="63.4" r="1.25"/><circle cx="270.8" cy="64.1" r="1.25"/><circle cx="268.7" cy="64.5" r="1.25"/><circle cx="265.5" cy="65.6" r="1.25"/><circle cx="266.9" cy="65.7" r="1.25"/></g>
<g fill="#f5a30a"><circle cx="297.1" cy="50.6" r="1.25"/><circle cx="294.8" cy="52.5" r="1.25"/><circle cx="295.1" cy="56.1" r="1.25"/><circle cx="287.9" cy="56.7" r="1.25"/><circle cx="298.5" cy="56.5" r="1.25"/><circle cx="281.8" cy="55.3" r="1.25"/><circle cx="282.8" cy="54.7" r="1.25"/><circle cx="298.1" cy="56.0" r="1.25"/><circle cx="291.8" cy="50.0" r="1.25"/><circle cx="281.4" cy="50.0" r="1.25"/><circle cx="295.8" cy="50.8" r="1.25"/><circle cx="291.3" cy="51.9" r="1.25"/><circle cx="293.7" cy="52.9" r="1.25"/><circle cx="283.7" cy="58.2" r="1.25"/><circle cx="291.0" cy="56.2" r="1.25"/><circle cx="283.8" cy="54.2" r="1.25"/><circle cx="297.2" cy="57.4" r="1.25"/><circle cx="281.7" cy="50.8" r="1.25"/><circle cx="296.1" cy="56.1" r="1.25"/><circle cx="288.3" cy="53.9" r="1.25"/><circle cx="283.9" cy="57.8" r="1.25"/><circle cx="287.1" cy="51.1" r="1.25"/><circle cx="297.5" cy="55.1" r="1.25"/><circle cx="281.8" cy="50.6" r="1.25"/><circle cx="287.7" cy="53.8" r="1.25"/><circle cx="291.7" cy="53.0" r="1.25"/><circle cx="291.7" cy="52.4" r="1.25"/><circle cx="283.7" cy="56.0" r="1.25"/><circle cx="286.0" cy="51.7" r="1.25"/><circle cx="290.3" cy="51.6" r="1.25"/><circle cx="291.5" cy="54.5" r="1.25"/><circle cx="298.7" cy="59.4" r="1.25"/><circle cx="281.6" cy="54.8" r="1.25"/><circle cx="295.3" cy="55.6" r="1.25"/><circle cx="292.7" cy="52.7" r="1.25"/><circle cx="286.2" cy="57.3" r="1.25"/><circle cx="297.1" cy="58.8" r="1.25"/><circle cx="293.6" cy="52.1" r="1.25"/><circle cx="295.1" cy="56.7" r="1.25"/><circle cx="290.4" cy="55.6" r="1.25"/><circle cx="282.2" cy="49.5" r="1.25"/><circle cx="284.1" cy="50.9" r="1.25"/><circle cx="288.5" cy="50.5" r="1.25"/><circle cx="289.2" cy="50.2" r="1.25"/><circle cx="288.4" cy="51.1" r="1.25"/><circle cx="295.0" cy="50.2" r="1.25"/><circle cx="293.8" cy="49.2" r="1.25"/><circle cx="297.8" cy="51.5" r="1.25"/><circle cx="299.9" cy="56.0" r="1.25"/><circle cx="299.2" cy="58.3" r="1.25"/><circle cx="299.5" cy="54.4" r="1.25"/><circle cx="298.6" cy="59.2" r="1.25"/><circle cx="294.1" cy="57.7" r="1.25"/><circle cx="290.1" cy="56.8" r="1.25"/><circle cx="293.9" cy="57.1" r="1.25"/><circle cx="286.9" cy="57.3" r="1.25"/><circle cx="285.6" cy="58.5" r="1.25"/><circle cx="282.9" cy="58.9" r="1.25"/><circle cx="281.2" cy="48.5" r="1.25"/><circle cx="281.8" cy="50.5" r="1.25"/><circle cx="281.2" cy="57.7" r="1.25"/><circle cx="281.3" cy="50.7" r="1.25"/></g>
<g fill="#f07814"><circle cx="303.2" cy="57.8" r="1.25"/><circle cx="306.5" cy="63.7" r="1.25"/><circle cx="308.1" cy="62.3" r="1.25"/><circle cx="303.9" cy="60.1" r="1.25"/><circle cx="301.1" cy="54.9" r="1.25"/><circle cx="306.8" cy="61.3" r="1.25"/><circle cx="305.2" cy="64.8" r="1.25"/><circle cx="312.7" cy="65.3" r="1.25"/><circle cx="304.3" cy="61.1" r="1.25"/><circle cx="310.8" cy="65.3" r="1.25"/><circle cx="308.1" cy="63.0" r="1.25"/><circle cx="314.4" cy="66.9" r="1.25"/><circle cx="305.2" cy="60.5" r="1.25"/><circle cx="307.3" cy="62.0" r="1.25"/><circle cx="313.0" cy="66.8" r="1.25"/><circle cx="299.9" cy="54.2" r="1.25"/><circle cx="301.1" cy="58.0" r="1.25"/><circle cx="300.1" cy="56.2" r="1.25"/><circle cx="303.5" cy="59.5" r="1.25"/><circle cx="301.4" cy="58.2" r="1.25"/><circle cx="302.6" cy="56.7" r="1.25"/><circle cx="309.0" cy="63.9" r="1.25"/><circle cx="313.1" cy="67.6" r="1.25"/><circle cx="305.1" cy="63.2" r="1.25"/><circle cx="312.4" cy="66.6" r="1.25"/><circle cx="308.3" cy="62.3" r="1.25"/><circle cx="310.4" cy="64.8" r="1.25"/><circle cx="300.9" cy="53.0" r="1.25"/><circle cx="303.6" cy="57.2" r="1.25"/><circle cx="303.2" cy="56.0" r="1.25"/><circle cx="305.7" cy="59.4" r="1.25"/><circle cx="308.5" cy="62.4" r="1.25"/><circle cx="311.3" cy="62.8" r="1.25"/><circle cx="310.3" cy="62.7" r="1.25"/><circle cx="315.3" cy="66.0" r="1.25"/><circle cx="315.2" cy="67.9" r="1.25"/><circle cx="315.0" cy="68.4" r="1.25"/><circle cx="308.0" cy="66.3" r="1.25"/><circle cx="310.8" cy="68.7" r="1.25"/><circle cx="305.7" cy="65.9" r="1.25"/><circle cx="306.1" cy="66.8" r="1.25"/><circle cx="301.0" cy="60.5" r="1.25"/><circle cx="300.6" cy="57.3" r="1.25"/><circle cx="299.7" cy="57.1" r="1.25"/><circle cx="299.1" cy="54.5" r="1.25"/></g>
<g fill="#f5aa0a"><circle cx="281.3" cy="46.2" r="1.3"/></g>
<g fill="#f59614"><circle cx="291.9" cy="42.3" r="1.4"/></g>
<g fill="#f08c14"><circle cx="291.8" cy="71.5" r="1.3"/><circle cx="297.4" cy="75.6" r="1.3"/><circle cx="291.0" cy="69.0" r="1.3"/><circle cx="292.0" cy="73.0" r="1.3"/><circle cx="282.0" cy="62.5" r="1.3"/><circle cx="281.0" cy="63.5" r="1.3"/></g>
<polyline points="297.8,60.0 297.8,76.5" fill="none" stroke="#f08214" stroke-width="2.2" stroke-linecap="round" stroke-linejoin="round"/>
<g fill="#f0a014"><circle cx="280.8" cy="67.1" r="1.0"/><circle cx="277.7" cy="66.5" r="1.0"/><circle cx="280.2" cy="66.5" r="1.0"/><circle cx="285.7" cy="65.2" r="1.0"/><circle cx="276.3" cy="67.9" r="1.0"/><circle cx="278.6" cy="66.3" r="1.0"/><circle cx="277.8" cy="68.3" r="1.0"/><circle cx="274.2" cy="67.5" r="1.0"/><circle cx="292.6" cy="65.8" r="1.0"/><circle cx="282.2" cy="68.2" r="1.0"/><circle cx="286.8" cy="66.5" r="1.0"/><circle cx="273.1" cy="66.8" r="1.0"/><circle cx="280.8" cy="67.9" r="1.0"/><circle cx="279.1" cy="66.6" r="1.0"/></g>
<g fill="#e61414"><circle cx="324.9" cy="65.1" r="1.2"/><circle cx="323.1" cy="63.6" r="1.2"/><circle cx="324.5" cy="65.5" r="1.2"/><circle cx="325.3" cy="63.5" r="1.2"/><circle cx="325.0" cy="63.4" r="1.2"/><circle cx="321.4" cy="64.9" r="1.2"/><circle cx="323.3" cy="64.1" r="1.2"/><circle cx="324.0" cy="65.4" r="1.2"/><circle cx="324.6" cy="63.9" r="1.2"/><circle cx="323.8" cy="65.2" r="1.2"/></g>
<g fill="#e61414"><circle cx="328.3" cy="64.8" r="1.1"/><circle cx="337.8" cy="64.5" r="1.1"/><circle cx="329.8" cy="65.1" r="1.1"/><circle cx="336.5" cy="66.4" r="1.1"/><circle cx="334.8" cy="64.2" r="1.1"/><circle cx="320.8" cy="66.4" r="1.1"/><circle cx="331.1" cy="67.2" r="1.1"/><circle cx="335.4" cy="61.9" r="1.1"/></g>
<g fill="#e61414"><circle cx="333.0" cy="68.0" r="1.2"/><circle cx="334.5" cy="61.1" r="1.2"/><circle cx="334.9" cy="67.6" r="1.2"/><circle cx="334.2" cy="61.0" r="1.2"/><circle cx="334.9" cy="64.7" r="1.2"/><circle cx="335.3" cy="69.2" r="1.2"/></g>
<g fill="#d20a0a"><circle cx="335.7" cy="64.3" r="1.2"/><circle cx="337.1" cy="61.1" r="1.2"/><circle cx="336.1" cy="64.1" r="1.2"/><circle cx="336.1" cy="69.6" r="1.2"/><circle cx="337.2" cy="66.1" r="1.2"/><circle cx="336.7" cy="61.5" r="1.2"/></g>
<g fill="#e61414"><circle cx="340.7" cy="73.2" r="1.2"/><circle cx="341.9" cy="73.2" r="1.2"/><circle cx="340.6" cy="67.9" r="1.2"/><circle cx="340.1" cy="70.6" r="1.2"/><circle cx="340.9" cy="70.0" r="1.2"/><circle cx="341.2" cy="71.0" r="1.2"/></g>
<g fill="#dc0a0a"><circle cx="351.6" cy="72.3" r="1.2"/><circle cx="352.4" cy="61.1" r="1.2"/><circle cx="351.4" cy="68.3" r="1.2"/><circle cx="351.8" cy="68.8" r="1.2"/><circle cx="351.4" cy="64.4" r="1.2"/><circle cx="353.5" cy="64.7" r="1.2"/><circle cx="353.1" cy="72.3" r="1.2"/><circle cx="352.6" cy="67.1" r="1.2"/><circle cx="354.1" cy="67.0" r="1.2"/><circle cx="351.9" cy="69.9" r="1.2"/><circle cx="350.3" cy="69.2" r="1.2"/><circle cx="352.5" cy="72.3" r="1.2"/><circle cx="352.2" cy="70.4" r="1.2"/><circle cx="353.0" cy="64.7" r="1.2"/></g>
<g fill="#d20a0a"><circle cx="361.5" cy="70.9" r="1.2"/><circle cx="361.5" cy="60.3" r="1.2"/><circle cx="361.2" cy="70.1" r="1.2"/><circle cx="363.6" cy="64.8" r="1.2"/><circle cx="362.7" cy="62.5" r="1.2"/><circle cx="363.4" cy="68.7" r="1.2"/><circle cx="362.8" cy="59.4" r="1.2"/><circle cx="363.2" cy="63.0" r="1.2"/><circle cx="361.6" cy="67.2" r="1.2"/><circle cx="361.8" cy="66.9" r="1.2"/><circle cx="361.8" cy="70.9" r="1.2"/><circle cx="361.3" cy="70.3" r="1.2"/></g>
<g fill="#c80a0a"><circle cx="368.8" cy="66.6" r="1.3"/><circle cx="374.4" cy="62.3" r="1.3"/><circle cx="377.4" cy="68.5" r="1.3"/></g>
<defs><linearGradient id="gB1" gradientUnits="userSpaceOnUse" x1="124" y1="0" x2="181" y2="0"><stop offset="0" stop-color="#2a82f0"/><stop offset="0.4" stop-color="#1e5aea"/><stop offset="1" stop-color="#1438e0"/></linearGradient></defs>
<polygon points="124.2,163.6 130.0,162.8 140.0,163.0 150.0,163.3 155.0,163.6 155.0,165.8 150.0,165.9 140.0,165.6 130.0,165.9 124.2,165.8" fill="url(#gB1)" fill-opacity="0.7"/>
<g fill="#1e5ae8"><circle cx="154.4" cy="164.0" r="1.25"/><circle cx="125.2" cy="164.0" r="1.25"/><circle cx="143.9" cy="163.5" r="1.25"/><circle cx="141.0" cy="163.1" r="1.25"/><circle cx="138.5" cy="165.1" r="1.25"/><circle cx="137.4" cy="164.9" r="1.25"/><circle cx="127.7" cy="165.4" r="1.25"/><circle cx="128.0" cy="165.7" r="1.25"/><circle cx="154.9" cy="165.7" r="1.25"/><circle cx="140.4" cy="163.7" r="1.25"/><circle cx="134.9" cy="165.1" r="1.25"/><circle cx="127.1" cy="164.3" r="1.25"/><circle cx="150.8" cy="164.7" r="1.25"/><circle cx="140.9" cy="163.1" r="1.25"/><circle cx="128.5" cy="163.6" r="1.25"/><circle cx="151.7" cy="165.4" r="1.25"/><circle cx="131.2" cy="165.7" r="1.25"/><circle cx="125.2" cy="164.7" r="1.25"/><circle cx="129.6" cy="163.5" r="1.25"/><circle cx="127.3" cy="162.8" r="1.25"/><circle cx="134.1" cy="163.3" r="1.25"/><circle cx="132.2" cy="162.5" r="1.25"/><circle cx="130.8" cy="162.2" r="1.25"/><circle cx="136.0" cy="163.1" r="1.25"/><circle cx="143.9" cy="163.2" r="1.25"/><circle cx="141.2" cy="162.4" r="1.25"/><circle cx="145.5" cy="163.0" r="1.25"/><circle cx="146.1" cy="162.7" r="1.25"/><circle cx="154.4" cy="164.1" r="1.25"/><circle cx="154.3" cy="163.0" r="1.25"/><circle cx="155.6" cy="163.2" r="1.25"/><circle cx="152.6" cy="165.2" r="1.25"/><circle cx="152.1" cy="165.9" r="1.25"/><circle cx="144.7" cy="165.3" r="1.25"/><circle cx="145.5" cy="165.2" r="1.25"/><circle cx="148.2" cy="165.8" r="1.25"/><circle cx="140.3" cy="166.3" r="1.25"/><circle cx="135.6" cy="165.9" r="1.25"/><circle cx="132.7" cy="166.2" r="1.25"/><circle cx="138.1" cy="164.9" r="1.25"/><circle cx="136.1" cy="165.4" r="1.25"/><circle cx="124.2" cy="165.9" r="1.25"/><circle cx="128.8" cy="166.3" r="1.25"/><circle cx="123.5" cy="163.8" r="1.25"/></g>
<g fill="#1438dc"><circle cx="157.0" cy="164.6" r="1.3"/><circle cx="159.5" cy="164.2" r="1.3"/><circle cx="161.8" cy="165.2" r="1.3"/><circle cx="164.5" cy="164.8" r="1.3"/><circle cx="167.0" cy="165.6" r="1.3"/><circle cx="169.8" cy="165.4" r="1.3"/><circle cx="172.4" cy="165.0" r="1.3"/><circle cx="175.0" cy="164.4" r="1.3"/><circle cx="177.4" cy="164.8" r="1.3"/><circle cx="179.8" cy="164.1" r="1.3"/><circle cx="162.5" cy="163.8" r="1.3"/><circle cx="174.0" cy="166.2" r="1.3"/><circle cx="153.0" cy="166.5" r="1.3"/></g>
<g fill="#1428d2"><circle cx="182.5" cy="158.1" r="1.3"/><circle cx="190.2" cy="157.4" r="1.3"/><circle cx="201.3" cy="159.4" r="1.3"/><circle cx="185.9" cy="172.1" r="1.3"/><circle cx="231.2" cy="164.5" r="1.3"/></g>
<g fill="#1ea0f0"><circle cx="235.8" cy="166.4" r="1.3"/></g>
<g fill="#78e650"><circle cx="240.6" cy="164.8" r="1.3"/><circle cx="218.8" cy="178.3" r="1.3"/></g>
<g fill="#32d2e6"><circle cx="208.6" cy="179.0" r="1.3"/></g>
<defs><linearGradient id="gB2" gradientUnits="userSpaceOnUse" x1="105" y1="0" x2="200" y2="0"><stop offset="0" stop-color="#f57814"/><stop offset="0.3" stop-color="#f58c14"/><stop offset="1" stop-color="#f59b1e"/></linearGradient></defs>
<polygon points="108.0,178.5 113.0,176.5 118.0,174.5 122.8,173.2 133.6,173.6 144.3,174.6 153.7,174.3 160.0,174.8 168.4,174.4 181.8,174.0 189.9,175.0 199.3,178.2 198.0,180.0 189.9,179.2 179.2,178.6 168.4,178.2 160.0,178.0 150.0,177.6 140.3,177.6 133.6,177.8 125.0,178.6 118.0,179.6 110.0,180.5" fill="url(#gB2)" fill-opacity="0.5"/>
<g fill="#f5911c"><circle cx="111.8" cy="177.7" r="1.25"/><circle cx="145.6" cy="176.2" r="1.25"/><circle cx="175.0" cy="178.2" r="1.25"/><circle cx="121.8" cy="175.7" r="1.25"/><circle cx="120.8" cy="174.6" r="1.25"/><circle cx="128.1" cy="175.6" r="1.25"/><circle cx="180.3" cy="176.7" r="1.25"/><circle cx="190.9" cy="178.7" r="1.25"/><circle cx="166.1" cy="174.7" r="1.25"/><circle cx="173.5" cy="175.7" r="1.25"/><circle cx="120.3" cy="179.2" r="1.25"/><circle cx="181.2" cy="177.5" r="1.25"/><circle cx="179.9" cy="175.0" r="1.25"/><circle cx="184.5" cy="174.9" r="1.25"/><circle cx="126.1" cy="176.5" r="1.25"/><circle cx="129.6" cy="176.8" r="1.25"/><circle cx="190.9" cy="178.2" r="1.25"/><circle cx="172.9" cy="176.1" r="1.25"/><circle cx="183.4" cy="176.2" r="1.25"/><circle cx="116.0" cy="178.0" r="1.25"/><circle cx="184.4" cy="175.7" r="1.25"/><circle cx="118.1" cy="179.1" r="1.25"/><circle cx="149.8" cy="175.6" r="1.25"/><circle cx="127.5" cy="175.8" r="1.25"/><circle cx="185.1" cy="177.7" r="1.25"/><circle cx="134.7" cy="173.8" r="1.25"/><circle cx="181.7" cy="174.1" r="1.25"/><circle cx="183.1" cy="174.5" r="1.25"/><circle cx="141.1" cy="174.8" r="1.25"/><circle cx="189.2" cy="177.7" r="1.25"/><circle cx="189.6" cy="176.1" r="1.25"/><circle cx="122.8" cy="177.0" r="1.25"/><circle cx="194.3" cy="176.5" r="1.25"/><circle cx="181.9" cy="175.0" r="1.25"/><circle cx="154.9" cy="175.9" r="1.25"/><circle cx="165.0" cy="176.4" r="1.25"/><circle cx="168.4" cy="177.8" r="1.25"/><circle cx="142.3" cy="177.0" r="1.25"/><circle cx="153.5" cy="175.9" r="1.25"/><circle cx="184.2" cy="178.2" r="1.25"/><circle cx="158.9" cy="176.5" r="1.25"/><circle cx="161.6" cy="177.4" r="1.25"/><circle cx="176.2" cy="177.9" r="1.25"/><circle cx="134.6" cy="177.2" r="1.25"/><circle cx="169.8" cy="176.0" r="1.25"/><circle cx="195.9" cy="178.4" r="1.25"/><circle cx="171.1" cy="175.2" r="1.25"/><circle cx="122.8" cy="177.4" r="1.25"/><circle cx="139.7" cy="174.2" r="1.25"/><circle cx="122.8" cy="178.6" r="1.25"/><circle cx="123.6" cy="175.5" r="1.25"/><circle cx="126.0" cy="175.5" r="1.25"/><circle cx="131.8" cy="176.1" r="1.25"/><circle cx="132.4" cy="174.7" r="1.25"/><circle cx="191.0" cy="176.5" r="1.25"/><circle cx="184.4" cy="177.9" r="1.25"/><circle cx="179.1" cy="175.5" r="1.25"/><circle cx="121.9" cy="178.7" r="1.25"/><circle cx="150.9" cy="177.3" r="1.25"/><circle cx="133.1" cy="175.8" r="1.25"/><circle cx="191.8" cy="177.1" r="1.25"/><circle cx="111.8" cy="179.2" r="1.25"/><circle cx="159.7" cy="175.8" r="1.25"/><circle cx="130.2" cy="173.7" r="1.25"/><circle cx="169.9" cy="176.2" r="1.25"/><circle cx="181.7" cy="174.0" r="1.25"/><circle cx="196.3" cy="177.8" r="1.25"/><circle cx="175.8" cy="175.7" r="1.25"/><circle cx="139.9" cy="174.6" r="1.25"/><circle cx="187.6" cy="177.1" r="1.25"/><circle cx="145.7" cy="176.9" r="1.25"/><circle cx="185.8" cy="178.1" r="1.25"/><circle cx="160.8" cy="176.1" r="1.25"/><circle cx="160.4" cy="175.2" r="1.25"/><circle cx="190.1" cy="178.6" r="1.25"/><circle cx="183.0" cy="177.9" r="1.25"/><circle cx="172.3" cy="178.3" r="1.25"/><circle cx="163.9" cy="175.2" r="1.25"/><circle cx="114.1" cy="177.6" r="1.25"/><circle cx="183.3" cy="175.2" r="1.25"/><circle cx="127.5" cy="174.8" r="1.25"/><circle cx="116.6" cy="178.1" r="1.25"/><circle cx="197.0" cy="179.1" r="1.25"/><circle cx="114.6" cy="179.3" r="1.25"/><circle cx="108.8" cy="178.1" r="1.25"/><circle cx="108.3" cy="177.5" r="1.25"/><circle cx="115.3" cy="176.1" r="1.25"/><circle cx="113.7" cy="175.8" r="1.25"/><circle cx="119.3" cy="174.0" r="1.25"/><circle cx="119.7" cy="173.6" r="1.25"/><circle cx="130.9" cy="174.1" r="1.25"/><circle cx="131.6" cy="172.8" r="1.25"/><circle cx="130.4" cy="173.5" r="1.25"/><circle cx="126.7" cy="173.6" r="1.25"/><circle cx="141.5" cy="174.2" r="1.25"/><circle cx="139.2" cy="173.7" r="1.25"/><circle cx="143.7" cy="175.0" r="1.25"/><circle cx="143.6" cy="175.3" r="1.25"/><circle cx="144.9" cy="174.0" r="1.25"/><circle cx="148.9" cy="174.8" r="1.25"/><circle cx="148.3" cy="174.0" r="1.25"/><circle cx="147.7" cy="174.0" r="1.25"/><circle cx="158.4" cy="174.6" r="1.25"/><circle cx="155.3" cy="173.9" r="1.25"/><circle cx="162.3" cy="175.0" r="1.25"/><circle cx="168.6" cy="175.1" r="1.25"/><circle cx="168.1" cy="174.8" r="1.25"/><circle cx="168.8" cy="173.6" r="1.25"/><circle cx="180.3" cy="174.3" r="1.25"/><circle cx="171.7" cy="173.8" r="1.25"/><circle cx="177.7" cy="173.8" r="1.25"/><circle cx="168.5" cy="174.2" r="1.25"/><circle cx="180.9" cy="174.0" r="1.25"/><circle cx="182.0" cy="173.5" r="1.25"/><circle cx="188.1" cy="175.6" r="1.25"/><circle cx="189.7" cy="174.9" r="1.25"/><circle cx="197.0" cy="177.0" r="1.25"/><circle cx="195.2" cy="176.3" r="1.25"/><circle cx="191.5" cy="176.5" r="1.25"/><circle cx="197.3" cy="178.0" r="1.25"/><circle cx="199.1" cy="178.8" r="1.25"/><circle cx="192.0" cy="178.8" r="1.25"/><circle cx="197.4" cy="180.1" r="1.25"/><circle cx="194.1" cy="180.2" r="1.25"/><circle cx="181.4" cy="178.0" r="1.25"/><circle cx="180.4" cy="178.0" r="1.25"/><circle cx="186.6" cy="179.6" r="1.25"/><circle cx="184.9" cy="178.4" r="1.25"/><circle cx="177.2" cy="178.3" r="1.25"/><circle cx="178.2" cy="178.0" r="1.25"/><circle cx="177.0" cy="178.7" r="1.25"/><circle cx="172.7" cy="178.2" r="1.25"/><circle cx="168.2" cy="177.5" r="1.25"/><circle cx="164.3" cy="178.4" r="1.25"/><circle cx="162.0" cy="178.3" r="1.25"/><circle cx="153.0" cy="177.2" r="1.25"/><circle cx="151.1" cy="176.9" r="1.25"/><circle cx="158.4" cy="177.5" r="1.25"/><circle cx="156.5" cy="178.4" r="1.25"/><circle cx="144.2" cy="176.9" r="1.25"/><circle cx="149.9" cy="178.1" r="1.25"/><circle cx="148.9" cy="177.2" r="1.25"/><circle cx="140.5" cy="177.9" r="1.25"/><circle cx="134.3" cy="178.5" r="1.25"/><circle cx="138.0" cy="176.9" r="1.25"/><circle cx="134.6" cy="178.5" r="1.25"/><circle cx="127.0" cy="178.9" r="1.25"/><circle cx="132.2" cy="177.3" r="1.25"/><circle cx="127.5" cy="179.1" r="1.25"/><circle cx="125.5" cy="178.7" r="1.25"/><circle cx="119.3" cy="179.6" r="1.25"/><circle cx="121.3" cy="178.5" r="1.25"/><circle cx="117.6" cy="179.3" r="1.25"/><circle cx="114.0" cy="180.3" r="1.25"/><circle cx="118.3" cy="180.1" r="1.25"/><circle cx="108.5" cy="179.8" r="1.25"/></g>
<polygon points="140.0,178.8 150.0,178.9 160.0,179.4 170.0,179.6 182.0,179.8 190.0,180.4 188.0,182.6 180.0,183.2 170.0,183.6 160.0,182.6 150.0,182.0 140.0,181.4" fill="#f5b41e" fill-opacity="0.3"/>
<g fill="#f5b41e"><circle cx="150.4" cy="180.9" r="1.25"/><circle cx="167.3" cy="180.5" r="1.25"/><circle cx="182.5" cy="182.9" r="1.25"/><circle cx="145.1" cy="180.6" r="1.25"/><circle cx="147.4" cy="181.7" r="1.25"/><circle cx="140.3" cy="179.2" r="1.25"/><circle cx="169.9" cy="181.3" r="1.25"/><circle cx="162.8" cy="180.8" r="1.25"/><circle cx="170.6" cy="181.9" r="1.25"/><circle cx="185.8" cy="182.3" r="1.25"/><circle cx="179.8" cy="183.2" r="1.25"/><circle cx="181.9" cy="182.2" r="1.25"/><circle cx="182.5" cy="180.9" r="1.25"/><circle cx="187.1" cy="180.9" r="1.25"/><circle cx="175.3" cy="180.0" r="1.25"/><circle cx="155.0" cy="180.5" r="1.25"/><circle cx="156.2" cy="179.3" r="1.25"/><circle cx="172.7" cy="183.3" r="1.25"/><circle cx="178.1" cy="182.8" r="1.25"/><circle cx="153.7" cy="180.0" r="1.25"/><circle cx="186.0" cy="180.4" r="1.25"/><circle cx="178.5" cy="182.5" r="1.25"/><circle cx="184.5" cy="182.6" r="1.25"/><circle cx="181.3" cy="180.3" r="1.25"/><circle cx="171.3" cy="180.6" r="1.25"/><circle cx="148.1" cy="181.3" r="1.25"/><circle cx="172.5" cy="181.4" r="1.25"/><circle cx="186.9" cy="180.8" r="1.25"/><circle cx="185.7" cy="182.1" r="1.25"/><circle cx="150.6" cy="180.2" r="1.25"/><circle cx="161.9" cy="182.1" r="1.25"/><circle cx="147.3" cy="179.3" r="1.25"/><circle cx="142.1" cy="178.1" r="1.25"/><circle cx="146.4" cy="178.5" r="1.25"/><circle cx="149.9" cy="179.0" r="1.25"/><circle cx="156.7" cy="179.5" r="1.25"/><circle cx="152.3" cy="178.4" r="1.25"/><circle cx="149.9" cy="178.3" r="1.25"/><circle cx="151.1" cy="179.7" r="1.25"/><circle cx="166.5" cy="180.0" r="1.25"/><circle cx="161.1" cy="179.1" r="1.25"/><circle cx="164.4" cy="179.4" r="1.25"/><circle cx="166.6" cy="180.2" r="1.25"/><circle cx="174.6" cy="178.9" r="1.25"/><circle cx="179.5" cy="180.3" r="1.25"/><circle cx="179.9" cy="179.4" r="1.25"/><circle cx="169.6" cy="180.2" r="1.25"/><circle cx="172.2" cy="179.8" r="1.25"/><circle cx="186.8" cy="179.6" r="1.25"/><circle cx="183.5" cy="179.7" r="1.25"/><circle cx="187.3" cy="179.7" r="1.25"/><circle cx="189.1" cy="181.1" r="1.25"/><circle cx="187.7" cy="182.5" r="1.25"/><circle cx="181.6" cy="183.5" r="1.25"/><circle cx="185.8" cy="182.8" r="1.25"/><circle cx="178.5" cy="183.7" r="1.25"/><circle cx="177.0" cy="183.7" r="1.25"/><circle cx="177.3" cy="182.8" r="1.25"/><circle cx="175.9" cy="183.6" r="1.25"/><circle cx="165.9" cy="182.4" r="1.25"/><circle cx="163.9" cy="182.5" r="1.25"/><circle cx="169.6" cy="183.0" r="1.25"/><circle cx="165.7" cy="182.5" r="1.25"/><circle cx="158.8" cy="182.0" r="1.25"/><circle cx="157.6" cy="181.9" r="1.25"/><circle cx="159.1" cy="182.5" r="1.25"/><circle cx="150.7" cy="181.4" r="1.25"/><circle cx="148.2" cy="182.0" r="1.25"/><circle cx="142.0" cy="182.1" r="1.25"/><circle cx="149.6" cy="182.0" r="1.25"/><circle cx="147.1" cy="182.4" r="1.25"/><circle cx="139.3" cy="180.5" r="1.25"/></g>
<g fill="#f5c81e"><circle cx="184.5" cy="186.8" r="1.15"/><circle cx="180.6" cy="184.4" r="1.15"/><circle cx="175.1" cy="185.9" r="1.15"/><circle cx="170.1" cy="188.0" r="1.15"/><circle cx="173.2" cy="184.7" r="1.15"/><circle cx="185.7" cy="186.9" r="1.15"/><circle cx="179.1" cy="187.1" r="1.15"/><circle cx="166.5" cy="186.8" r="1.15"/><circle cx="180.8" cy="187.2" r="1.15"/><circle cx="170.7" cy="187.0" r="1.15"/><circle cx="178.1" cy="187.9" r="1.15"/><circle cx="168.9" cy="188.8" r="1.15"/><circle cx="183.1" cy="186.2" r="1.15"/><circle cx="170.5" cy="187.6" r="1.15"/></g>
<polygon points="100.7,183.5 106.7,182.2 113.4,182.0 120.1,184.0 128.2,187.8 127.0,189.6 120.1,187.6 110.0,185.8 101.0,185.6" fill="#a81414" fill-opacity="0.7"/>
<g fill="#a81414"><circle cx="106.7" cy="182.3" r="1.25"/><circle cx="112.8" cy="183.1" r="1.25"/><circle cx="107.1" cy="185.6" r="1.25"/><circle cx="117.8" cy="183.6" r="1.25"/><circle cx="109.5" cy="185.1" r="1.25"/><circle cx="101.3" cy="184.8" r="1.25"/><circle cx="107.8" cy="185.5" r="1.25"/><circle cx="104.5" cy="183.8" r="1.25"/><circle cx="104.8" cy="183.0" r="1.25"/><circle cx="115.1" cy="186.4" r="1.25"/><circle cx="107.1" cy="183.3" r="1.25"/><circle cx="116.8" cy="185.4" r="1.25"/><circle cx="108.7" cy="184.2" r="1.25"/><circle cx="127.3" cy="188.6" r="1.25"/><circle cx="112.3" cy="186.0" r="1.25"/><circle cx="124.0" cy="188.1" r="1.25"/><circle cx="118.7" cy="185.9" r="1.25"/><circle cx="103.9" cy="183.9" r="1.25"/><circle cx="118.8" cy="186.5" r="1.25"/><circle cx="116.4" cy="183.4" r="1.25"/><circle cx="119.7" cy="183.9" r="1.25"/><circle cx="107.2" cy="184.8" r="1.25"/><circle cx="104.1" cy="182.1" r="1.25"/><circle cx="105.3" cy="182.5" r="1.25"/><circle cx="111.7" cy="181.3" r="1.25"/><circle cx="110.2" cy="182.4" r="1.25"/><circle cx="110.5" cy="182.8" r="1.25"/><circle cx="118.2" cy="183.5" r="1.25"/><circle cx="119.3" cy="183.8" r="1.25"/><circle cx="120.5" cy="183.5" r="1.25"/><circle cx="125.8" cy="187.1" r="1.25"/><circle cx="125.7" cy="186.5" r="1.25"/><circle cx="121.5" cy="184.1" r="1.25"/><circle cx="121.1" cy="184.4" r="1.25"/><circle cx="126.6" cy="190.2" r="1.25"/><circle cx="122.8" cy="188.8" r="1.25"/><circle cx="123.5" cy="188.7" r="1.25"/><circle cx="120.2" cy="187.0" r="1.25"/><circle cx="117.1" cy="187.4" r="1.25"/><circle cx="111.9" cy="186.3" r="1.25"/><circle cx="113.7" cy="185.8" r="1.25"/><circle cx="102.8" cy="185.3" r="1.25"/><circle cx="102.8" cy="186.2" r="1.25"/><circle cx="102.3" cy="185.1" r="1.25"/><circle cx="109.9" cy="186.2" r="1.25"/></g>
<polygon points="105.4,186.8 115.0,186.8 124.0,188.6 124.0,189.8 115.0,189.4 105.4,188.8" fill="#f05a14" fill-opacity="0.4"/>
<g fill="#f05a14"><circle cx="110.5" cy="187.0" r="1.25"/><circle cx="105.5" cy="187.3" r="1.25"/><circle cx="109.7" cy="187.6" r="1.25"/><circle cx="105.8" cy="187.1" r="1.25"/><circle cx="122.8" cy="189.7" r="1.25"/><circle cx="108.2" cy="187.8" r="1.25"/><circle cx="115.1" cy="187.8" r="1.25"/><circle cx="109.4" cy="186.4" r="1.25"/><circle cx="105.3" cy="186.3" r="1.25"/><circle cx="106.5" cy="187.1" r="1.25"/><circle cx="108.4" cy="187.2" r="1.25"/><circle cx="118.1" cy="186.9" r="1.25"/><circle cx="123.5" cy="187.8" r="1.25"/><circle cx="116.7" cy="186.9" r="1.25"/><circle cx="121.0" cy="188.6" r="1.25"/><circle cx="116.1" cy="189.6" r="1.25"/><circle cx="122.6" cy="190.2" r="1.25"/><circle cx="116.4" cy="188.8" r="1.25"/><circle cx="118.1" cy="189.0" r="1.25"/><circle cx="113.3" cy="188.7" r="1.25"/><circle cx="108.5" cy="188.6" r="1.25"/><circle cx="111.0" cy="189.5" r="1.25"/><circle cx="115.1" cy="188.9" r="1.25"/></g>
<g fill="#e61e14"><circle cx="71.5" cy="188.8" r="1.35"/><circle cx="73.5" cy="188.5" r="1.35"/><circle cx="75.5" cy="188.3" r="1.35"/><circle cx="77.6" cy="188.0" r="1.35"/><circle cx="80.8" cy="187.5" r="1.35"/><circle cx="82.6" cy="186.2" r="1.35"/><circle cx="84.0" cy="185.8" r="1.35"/><circle cx="85.2" cy="187.5" r="1.35"/><circle cx="83.4" cy="188.6" r="1.35"/><circle cx="86.6" cy="187.0" r="1.35"/><circle cx="88.4" cy="187.6" r="1.35"/></g>
<g fill="#f06414"><circle cx="89.4" cy="187.7" r="1.3"/><circle cx="97.0" cy="186.6" r="1.3"/></g>
<g fill="#aa1414"><circle cx="101.5" cy="184.4" r="1.4"/><circle cx="103.5" cy="183.8" r="1.4"/><circle cx="104.8" cy="185.0" r="1.4"/></g>
<polygon points="110.0,191.6 122.8,191.0 140.0,191.2 160.0,191.0 180.0,191.6 200.0,191.9 215.0,192.0 225.0,191.2 238.4,190.4 245.7,189.6 246.0,191.6 238.0,192.8 225.0,193.0 215.0,193.6 200.0,193.4 180.0,193.2 160.0,193.0 140.0,193.2 122.8,193.1 110.0,193.0" fill="#c01010" fill-opacity="0.75"/>
<g fill="#d21414"><circle cx="149.5" cy="192.2" r="1.25"/><circle cx="204.0" cy="192.1" r="1.25"/><circle cx="152.3" cy="192.3" r="1.25"/><circle cx="140.8" cy="192.7" r="1.25"/><circle cx="222.5" cy="192.5" r="1.25"/><circle cx="116.7" cy="191.7" r="1.25"/><circle cx="229.3" cy="191.4" r="1.25"/><circle cx="178.9" cy="191.7" r="1.25"/><circle cx="159.3" cy="192.5" r="1.25"/><circle cx="182.0" cy="192.7" r="1.25"/><circle cx="162.6" cy="191.5" r="1.25"/><circle cx="144.4" cy="192.3" r="1.25"/><circle cx="174.9" cy="192.4" r="1.25"/><circle cx="237.0" cy="192.1" r="1.25"/><circle cx="124.3" cy="191.4" r="1.25"/><circle cx="173.4" cy="192.1" r="1.25"/><circle cx="212.1" cy="192.7" r="1.25"/><circle cx="149.2" cy="192.7" r="1.25"/><circle cx="182.3" cy="192.9" r="1.25"/><circle cx="210.7" cy="193.2" r="1.25"/><circle cx="233.0" cy="191.5" r="1.25"/><circle cx="240.1" cy="192.0" r="1.25"/><circle cx="149.3" cy="191.5" r="1.25"/><circle cx="207.4" cy="192.5" r="1.25"/><circle cx="130.2" cy="193.0" r="1.25"/><circle cx="135.5" cy="191.3" r="1.25"/><circle cx="221.7" cy="193.1" r="1.25"/><circle cx="213.8" cy="192.0" r="1.25"/><circle cx="154.5" cy="193.0" r="1.25"/><circle cx="159.8" cy="191.1" r="1.25"/><circle cx="158.0" cy="191.1" r="1.25"/><circle cx="233.7" cy="191.2" r="1.25"/><circle cx="196.5" cy="193.1" r="1.25"/><circle cx="235.1" cy="192.8" r="1.25"/><circle cx="212.7" cy="192.9" r="1.25"/><circle cx="144.4" cy="192.2" r="1.25"/><circle cx="161.8" cy="193.0" r="1.25"/><circle cx="128.2" cy="191.8" r="1.25"/><circle cx="155.8" cy="192.9" r="1.25"/><circle cx="157.0" cy="193.0" r="1.25"/><circle cx="211.2" cy="192.3" r="1.25"/><circle cx="228.3" cy="191.8" r="1.25"/><circle cx="216.5" cy="192.7" r="1.25"/><circle cx="113.5" cy="192.8" r="1.25"/><circle cx="119.2" cy="192.6" r="1.25"/><circle cx="137.0" cy="191.4" r="1.25"/><circle cx="164.7" cy="192.8" r="1.25"/><circle cx="239.8" cy="190.8" r="1.25"/><circle cx="196.0" cy="193.2" r="1.25"/><circle cx="228.9" cy="191.9" r="1.25"/><circle cx="124.4" cy="191.9" r="1.25"/><circle cx="222.8" cy="191.7" r="1.25"/><circle cx="229.7" cy="192.3" r="1.25"/><circle cx="122.6" cy="191.7" r="1.25"/><circle cx="221.6" cy="192.8" r="1.25"/><circle cx="211.3" cy="192.8" r="1.25"/><circle cx="139.8" cy="193.1" r="1.25"/><circle cx="245.0" cy="191.3" r="1.25"/><circle cx="161.8" cy="192.4" r="1.25"/><circle cx="186.3" cy="192.8" r="1.25"/><circle cx="185.0" cy="192.6" r="1.25"/><circle cx="228.1" cy="191.0" r="1.25"/><circle cx="113.2" cy="191.6" r="1.25"/><circle cx="239.9" cy="191.6" r="1.25"/><circle cx="236.8" cy="191.8" r="1.25"/><circle cx="129.5" cy="192.1" r="1.25"/><circle cx="147.5" cy="191.3" r="1.25"/><circle cx="156.3" cy="192.5" r="1.25"/><circle cx="144.8" cy="191.7" r="1.25"/><circle cx="133.9" cy="192.0" r="1.25"/><circle cx="189.6" cy="192.5" r="1.25"/><circle cx="211.9" cy="192.4" r="1.25"/><circle cx="119.5" cy="192.8" r="1.25"/><circle cx="172.6" cy="192.2" r="1.25"/><circle cx="122.5" cy="191.4" r="1.25"/><circle cx="112.7" cy="190.9" r="1.25"/><circle cx="115.4" cy="191.0" r="1.25"/><circle cx="111.6" cy="190.8" r="1.25"/><circle cx="112.2" cy="191.5" r="1.25"/><circle cx="125.9" cy="190.9" r="1.25"/><circle cx="139.5" cy="191.9" r="1.25"/><circle cx="130.4" cy="191.2" r="1.25"/><circle cx="124.8" cy="190.3" r="1.25"/><circle cx="135.6" cy="191.0" r="1.25"/><circle cx="128.8" cy="190.8" r="1.25"/><circle cx="134.5" cy="190.6" r="1.25"/><circle cx="157.4" cy="190.2" r="1.25"/><circle cx="157.4" cy="190.8" r="1.25"/><circle cx="153.3" cy="190.9" r="1.25"/><circle cx="148.3" cy="191.2" r="1.25"/><circle cx="153.6" cy="191.8" r="1.25"/><circle cx="142.7" cy="191.7" r="1.25"/><circle cx="156.0" cy="191.3" r="1.25"/><circle cx="147.5" cy="191.2" r="1.25"/><circle cx="147.5" cy="190.5" r="1.25"/><circle cx="178.4" cy="190.8" r="1.25"/><circle cx="166.4" cy="191.2" r="1.25"/><circle cx="167.9" cy="191.0" r="1.25"/><circle cx="171.3" cy="191.5" r="1.25"/><circle cx="169.3" cy="191.1" r="1.25"/><circle cx="172.6" cy="191.0" r="1.25"/><circle cx="167.2" cy="191.0" r="1.25"/><circle cx="178.3" cy="191.2" r="1.25"/><circle cx="167.2" cy="190.7" r="1.25"/><circle cx="193.0" cy="191.3" r="1.25"/><circle cx="181.7" cy="191.1" r="1.25"/><circle cx="183.9" cy="191.3" r="1.25"/><circle cx="195.0" cy="192.5" r="1.25"/><circle cx="199.0" cy="192.6" r="1.25"/><circle cx="182.5" cy="191.5" r="1.25"/><circle cx="184.3" cy="192.2" r="1.25"/><circle cx="187.1" cy="192.3" r="1.25"/><circle cx="195.2" cy="192.6" r="1.25"/><circle cx="199.9" cy="191.3" r="1.25"/><circle cx="200.7" cy="192.1" r="1.25"/><circle cx="201.1" cy="191.4" r="1.25"/><circle cx="209.4" cy="192.7" r="1.25"/><circle cx="206.2" cy="191.8" r="1.25"/><circle cx="205.5" cy="191.5" r="1.25"/><circle cx="225.5" cy="191.5" r="1.25"/><circle cx="216.2" cy="191.3" r="1.25"/><circle cx="218.9" cy="191.0" r="1.25"/><circle cx="220.6" cy="190.8" r="1.25"/><circle cx="231.4" cy="191.0" r="1.25"/><circle cx="231.7" cy="191.0" r="1.25"/><circle cx="229.3" cy="191.6" r="1.25"/><circle cx="237.2" cy="190.6" r="1.25"/><circle cx="226.4" cy="190.9" r="1.25"/><circle cx="233.5" cy="191.1" r="1.25"/><circle cx="244.2" cy="189.0" r="1.25"/><circle cx="244.1" cy="190.0" r="1.25"/><circle cx="242.9" cy="189.8" r="1.25"/><circle cx="239.0" cy="193.4" r="1.25"/><circle cx="240.8" cy="192.1" r="1.25"/><circle cx="244.5" cy="192.4" r="1.25"/><circle cx="228.3" cy="193.7" r="1.25"/><circle cx="228.8" cy="193.3" r="1.25"/><circle cx="234.8" cy="192.3" r="1.25"/><circle cx="226.8" cy="192.6" r="1.25"/><circle cx="225.3" cy="193.7" r="1.25"/><circle cx="216.9" cy="193.9" r="1.25"/><circle cx="219.9" cy="193.5" r="1.25"/><circle cx="221.4" cy="192.6" r="1.25"/><circle cx="216.6" cy="193.1" r="1.25"/><circle cx="213.9" cy="193.5" r="1.25"/><circle cx="203.7" cy="193.8" r="1.25"/><circle cx="204.6" cy="193.5" r="1.25"/><circle cx="203.7" cy="193.7" r="1.25"/><circle cx="210.6" cy="194.2" r="1.25"/><circle cx="201.7" cy="193.3" r="1.25"/><circle cx="189.1" cy="193.7" r="1.25"/><circle cx="191.5" cy="193.2" r="1.25"/><circle cx="181.0" cy="192.6" r="1.25"/><circle cx="184.4" cy="193.5" r="1.25"/><circle cx="199.7" cy="193.5" r="1.25"/><circle cx="184.6" cy="193.5" r="1.25"/><circle cx="192.1" cy="193.8" r="1.25"/><circle cx="199.3" cy="192.7" r="1.25"/><circle cx="183.6" cy="192.5" r="1.25"/><circle cx="170.7" cy="193.5" r="1.25"/><circle cx="165.2" cy="193.7" r="1.25"/><circle cx="175.7" cy="193.7" r="1.25"/><circle cx="177.1" cy="193.2" r="1.25"/><circle cx="172.7" cy="193.8" r="1.25"/><circle cx="171.0" cy="192.7" r="1.25"/><circle cx="161.3" cy="193.7" r="1.25"/><circle cx="168.5" cy="193.5" r="1.25"/><circle cx="167.4" cy="193.6" r="1.25"/><circle cx="150.5" cy="193.8" r="1.25"/><circle cx="144.2" cy="193.6" r="1.25"/><circle cx="155.3" cy="193.6" r="1.25"/><circle cx="141.4" cy="192.6" r="1.25"/><circle cx="146.4" cy="193.0" r="1.25"/><circle cx="156.1" cy="193.0" r="1.25"/><circle cx="149.8" cy="192.9" r="1.25"/><circle cx="149.3" cy="193.3" r="1.25"/><circle cx="157.4" cy="192.8" r="1.25"/><circle cx="124.3" cy="192.5" r="1.25"/><circle cx="130.7" cy="193.0" r="1.25"/><circle cx="130.3" cy="192.4" r="1.25"/><circle cx="135.9" cy="192.8" r="1.25"/><circle cx="129.3" cy="193.9" r="1.25"/><circle cx="128.0" cy="193.9" r="1.25"/><circle cx="129.2" cy="193.7" r="1.25"/><circle cx="114.0" cy="193.2" r="1.25"/><circle cx="119.7" cy="192.7" r="1.25"/><circle cx="109.7" cy="192.2" r="1.25"/><circle cx="115.2" cy="193.1" r="1.25"/><circle cx="121.8" cy="193.4" r="1.25"/></g>
<g fill="#a01414"><circle cx="134.2" cy="186.5" r="1.3"/><circle cx="151.0" cy="185.9" r="1.3"/><circle cx="117.4" cy="191.2" r="1.3"/><circle cx="130.5" cy="189.5" r="1.3"/><circle cx="132.0" cy="191.0" r="1.3"/><circle cx="221.0" cy="190.0" r="1.3"/><circle cx="228.0" cy="189.5" r="1.3"/><circle cx="233.0" cy="190.5" r="1.3"/><circle cx="216.0" cy="192.6" r="1.3"/><circle cx="209.0" cy="193.8" r="1.3"/><circle cx="210.5" cy="196.0" r="1.3"/><circle cx="211.8" cy="197.6" r="1.3"/></g>
<g fill="#f07814"><circle cx="247.2" cy="187.5" r="1.3"/><circle cx="251.5" cy="190.0" r="1.3"/><circle cx="249.5" cy="190.2" r="1.3"/></g>
<g fill="#e61e1e"><circle cx="109.4" cy="195.0" r="1.3"/><circle cx="112.0" cy="196.5" r="1.3"/><circle cx="115.0" cy="197.3" r="1.3"/><circle cx="118.8" cy="196.2" r="1.3"/><circle cx="110.5" cy="197.8" r="1.3"/><circle cx="206.5" cy="196.8" r="1.3"/><circle cx="208.4" cy="197.6" r="1.3"/></g>
<polyline points="143.5,197.2 150.5,198.8" fill="none" stroke="#f05a14" stroke-width="2.2" stroke-linecap="round" stroke-linejoin="round"/>
<g fill="#f0e628"><circle cx="155.0" cy="188.6" r="1.3"/><circle cx="245.7" cy="191.4" r="1.3"/><circle cx="242.0" cy="191.0" r="1.3"/></g>
<g fill="#32e6d2"><circle cx="112.0" cy="189.6" r="1.3"/><circle cx="147.7" cy="188.3" r="1.3"/><circle cx="230.0" cy="190.5" r="1.3"/></g>
<g fill="#78e6a0"><circle cx="194.9" cy="193.5" r="1.1"/><circle cx="184.8" cy="192.3" r="1.1"/><circle cx="193.1" cy="191.3" r="1.1"/><circle cx="190.7" cy="193.5" r="1.1"/><circle cx="193.4" cy="193.3" r="1.1"/><circle cx="186.9" cy="193.3" r="1.1"/><circle cx="188.3" cy="193.4" r="1.1"/><circle cx="192.2" cy="192.1" r="1.1"/><circle cx="199.5" cy="192.3" r="1.1"/><circle cx="195.2" cy="191.5" r="1.1"/></g>
<g fill="#78e664"><circle cx="216.7" cy="192.3" r="1.0"/><circle cx="220.5" cy="190.6" r="1.0"/><circle cx="222.7" cy="192.1" r="1.0"/><circle cx="229.7" cy="190.7" r="1.0"/><circle cx="231.4" cy="191.7" r="1.0"/><circle cx="222.6" cy="192.7" r="1.0"/><circle cx="220.1" cy="190.6" r="1.0"/><circle cx="217.8" cy="190.6" r="1.0"/><circle cx="228.1" cy="192.4" r="1.0"/><circle cx="217.8" cy="191.6" r="1.0"/><circle cx="227.8" cy="191.8" r="1.0"/><circle cx="223.9" cy="191.7" r="1.0"/></g>
<g fill="#a0e650"><circle cx="264.6" cy="188.1" r="1.3"/><circle cx="238.4" cy="198.0" r="1.3"/><circle cx="228.3" cy="202.3" r="1.3"/></g>
<g fill="#32d2e6"><circle cx="209.4" cy="200.9" r="1.3"/><circle cx="208.7" cy="201.7" r="1.3"/></g>
<g fill="#1428c8"><circle cx="198.0" cy="204.4" r="1.4"/></g>
<polygon points="125.5,194.4 140.3,193.8 150.0,194.2 160.0,194.6 166.0,195.5 169.8,197.0 169.0,203.0 160.0,206.0 153.7,208.7 145.6,208.7 144.3,215.4 131.5,215.4 130.9,208.7 126.8,199.3" fill="#c8f03c" fill-opacity="0.2"/>
<g fill="#c8f03c"><circle cx="126.2" cy="195.1" r="1.25"/><circle cx="144.2" cy="198.9" r="1.25"/><circle cx="159.0" cy="199.0" r="1.25"/><circle cx="162.0" cy="199.0" r="1.25"/><circle cx="129.6" cy="204.1" r="1.25"/><circle cx="142.7" cy="201.0" r="1.25"/><circle cx="159.4" cy="198.6" r="1.25"/><circle cx="145.6" cy="204.7" r="1.25"/><circle cx="133.5" cy="195.3" r="1.25"/><circle cx="129.1" cy="201.0" r="1.25"/><circle cx="144.3" cy="200.5" r="1.25"/><circle cx="136.3" cy="197.1" r="1.25"/><circle cx="139.0" cy="200.8" r="1.25"/><circle cx="144.5" cy="197.4" r="1.25"/><circle cx="127.5" cy="196.4" r="1.25"/><circle cx="132.4" cy="207.3" r="1.25"/><circle cx="140.4" cy="196.0" r="1.25"/><circle cx="148.1" cy="197.4" r="1.25"/><circle cx="155.2" cy="203.2" r="1.25"/><circle cx="154.8" cy="195.8" r="1.25"/><circle cx="135.4" cy="202.4" r="1.25"/><circle cx="134.3" cy="195.7" r="1.25"/><circle cx="140.3" cy="199.6" r="1.25"/><circle cx="155.2" cy="198.6" r="1.25"/><circle cx="143.3" cy="208.7" r="1.25"/><circle cx="144.6" cy="197.2" r="1.25"/><circle cx="129.9" cy="204.6" r="1.25"/><circle cx="147.1" cy="198.0" r="1.25"/><circle cx="155.2" cy="204.5" r="1.25"/><circle cx="161.3" cy="200.1" r="1.25"/><circle cx="146.5" cy="196.9" r="1.25"/><circle cx="146.9" cy="196.5" r="1.25"/><circle cx="161.0" cy="196.2" r="1.25"/><circle cx="139.8" cy="195.0" r="1.25"/><circle cx="140.9" cy="208.8" r="1.25"/><circle cx="141.7" cy="209.2" r="1.25"/><circle cx="137.8" cy="214.9" r="1.25"/><circle cx="132.4" cy="212.6" r="1.25"/><circle cx="157.3" cy="196.3" r="1.25"/><circle cx="142.4" cy="208.3" r="1.25"/><circle cx="125.7" cy="194.7" r="1.25"/><circle cx="141.2" cy="212.7" r="1.25"/><circle cx="134.2" cy="205.0" r="1.25"/><circle cx="146.9" cy="201.1" r="1.25"/><circle cx="142.1" cy="204.8" r="1.25"/><circle cx="151.6" cy="198.6" r="1.25"/><circle cx="137.8" cy="204.7" r="1.25"/><circle cx="147.8" cy="202.8" r="1.25"/><circle cx="154.9" cy="197.8" r="1.25"/><circle cx="149.1" cy="199.8" r="1.25"/><circle cx="160.1" cy="205.0" r="1.25"/><circle cx="136.5" cy="213.8" r="1.25"/><circle cx="148.1" cy="201.9" r="1.25"/><circle cx="138.4" cy="202.5" r="1.25"/><circle cx="134.9" cy="203.6" r="1.25"/><circle cx="141.4" cy="200.4" r="1.25"/><circle cx="141.4" cy="210.1" r="1.25"/><circle cx="158.0" cy="198.3" r="1.25"/><circle cx="135.9" cy="210.7" r="1.25"/><circle cx="137.6" cy="195.1" r="1.25"/><circle cx="141.5" cy="194.5" r="1.25"/><circle cx="161.1" cy="198.8" r="1.25"/><circle cx="140.4" cy="196.1" r="1.25"/><circle cx="147.1" cy="201.8" r="1.25"/><circle cx="137.5" cy="204.3" r="1.25"/><circle cx="145.0" cy="202.9" r="1.25"/><circle cx="139.4" cy="214.8" r="1.25"/><circle cx="133.6" cy="197.2" r="1.25"/><circle cx="137.9" cy="213.7" r="1.25"/><circle cx="163.3" cy="201.0" r="1.25"/><circle cx="144.4" cy="198.0" r="1.25"/><circle cx="159.7" cy="201.9" r="1.25"/><circle cx="145.0" cy="202.4" r="1.25"/><circle cx="151.9" cy="199.3" r="1.25"/><circle cx="142.3" cy="194.0" r="1.25"/><circle cx="142.0" cy="210.2" r="1.25"/><circle cx="140.2" cy="208.5" r="1.25"/><circle cx="153.2" cy="197.9" r="1.25"/><circle cx="152.6" cy="200.1" r="1.25"/><circle cx="134.4" cy="212.3" r="1.25"/><circle cx="165.8" cy="198.8" r="1.25"/><circle cx="151.5" cy="206.2" r="1.25"/><circle cx="139.8" cy="194.6" r="1.25"/><circle cx="139.9" cy="207.7" r="1.25"/><circle cx="152.2" cy="204.8" r="1.25"/><circle cx="130.9" cy="198.4" r="1.25"/><circle cx="139.3" cy="202.8" r="1.25"/><circle cx="141.6" cy="213.3" r="1.25"/><circle cx="136.1" cy="212.3" r="1.25"/><circle cx="136.3" cy="206.5" r="1.25"/><circle cx="142.2" cy="194.6" r="1.25"/><circle cx="137.4" cy="210.6" r="1.25"/><circle cx="135.6" cy="207.3" r="1.25"/><circle cx="149.8" cy="202.2" r="1.25"/><circle cx="160.9" cy="196.1" r="1.25"/><circle cx="137.0" cy="210.1" r="1.25"/><circle cx="129.5" cy="203.8" r="1.25"/><circle cx="129.6" cy="195.8" r="1.25"/><circle cx="141.8" cy="203.1" r="1.25"/><circle cx="148.0" cy="200.0" r="1.25"/><circle cx="156.6" cy="204.9" r="1.25"/><circle cx="169.0" cy="197.5" r="1.25"/><circle cx="148.1" cy="204.5" r="1.25"/><circle cx="142.0" cy="212.4" r="1.25"/><circle cx="134.8" cy="212.8" r="1.25"/><circle cx="141.3" cy="201.0" r="1.25"/><circle cx="152.7" cy="206.0" r="1.25"/><circle cx="129.0" cy="195.0" r="1.25"/><circle cx="130.3" cy="194.4" r="1.25"/><circle cx="133.1" cy="193.8" r="1.25"/><circle cx="137.7" cy="193.8" r="1.25"/><circle cx="139.4" cy="193.7" r="1.25"/><circle cx="128.2" cy="194.6" r="1.25"/><circle cx="144.5" cy="193.6" r="1.25"/><circle cx="147.9" cy="194.6" r="1.25"/><circle cx="144.3" cy="193.2" r="1.25"/><circle cx="143.2" cy="194.2" r="1.25"/><circle cx="156.8" cy="194.4" r="1.25"/><circle cx="151.5" cy="194.5" r="1.25"/><circle cx="156.6" cy="194.7" r="1.25"/><circle cx="151.5" cy="193.7" r="1.25"/><circle cx="162.8" cy="195.1" r="1.25"/><circle cx="160.8" cy="194.9" r="1.25"/><circle cx="166.2" cy="196.0" r="1.25"/><circle cx="169.5" cy="200.7" r="1.25"/><circle cx="168.9" cy="200.3" r="1.25"/><circle cx="161.6" cy="205.9" r="1.25"/><circle cx="165.6" cy="204.8" r="1.25"/><circle cx="161.8" cy="204.8" r="1.25"/><circle cx="162.7" cy="205.5" r="1.25"/><circle cx="154.2" cy="208.3" r="1.25"/><circle cx="154.2" cy="208.8" r="1.25"/><circle cx="155.9" cy="208.0" r="1.25"/><circle cx="150.7" cy="209.0" r="1.25"/><circle cx="150.0" cy="208.2" r="1.25"/><circle cx="146.2" cy="207.9" r="1.25"/><circle cx="144.5" cy="210.3" r="1.25"/><circle cx="144.2" cy="212.3" r="1.25"/><circle cx="144.9" cy="211.3" r="1.25"/><circle cx="133.3" cy="216.2" r="1.25"/><circle cx="139.1" cy="215.0" r="1.25"/><circle cx="132.9" cy="215.8" r="1.25"/><circle cx="140.7" cy="216.1" r="1.25"/><circle cx="137.4" cy="216.0" r="1.25"/><circle cx="131.7" cy="214.4" r="1.25"/><circle cx="131.0" cy="209.6" r="1.25"/><circle cx="130.6" cy="209.4" r="1.25"/><circle cx="127.1" cy="201.2" r="1.25"/><circle cx="128.8" cy="204.5" r="1.25"/><circle cx="126.8" cy="199.7" r="1.25"/><circle cx="128.1" cy="204.4" r="1.25"/><circle cx="126.4" cy="195.4" r="1.25"/><circle cx="126.3" cy="198.6" r="1.25"/></g>
<g fill="#c8f03c"><circle cx="163.9" cy="201.1" r="1.2"/><circle cx="162.3" cy="198.5" r="1.2"/><circle cx="167.0" cy="201.7" r="1.2"/><circle cx="162.1" cy="204.9" r="1.2"/><circle cx="158.4" cy="204.2" r="1.2"/><circle cx="160.2" cy="205.1" r="1.2"/><circle cx="157.1" cy="199.8" r="1.2"/><circle cx="163.6" cy="201.8" r="1.2"/><circle cx="160.5" cy="202.8" r="1.2"/><circle cx="158.6" cy="201.4" r="1.2"/></g>
<polygon points="166.0,216.0 172.0,208.0 180.0,202.0 188.0,197.5 196.0,196.5 198.0,200.0 194.0,205.0 188.0,210.0 182.0,216.0" fill="#32e0d2" fill-opacity="0.4"/>
<g fill="#32e0d2"><circle cx="174.1" cy="212.7" r="1.25"/><circle cx="183.7" cy="208.2" r="1.25"/><circle cx="186.0" cy="198.9" r="1.25"/><circle cx="190.9" cy="202.2" r="1.25"/><circle cx="180.0" cy="209.6" r="1.25"/><circle cx="196.5" cy="200.2" r="1.25"/><circle cx="173.1" cy="213.4" r="1.25"/><circle cx="183.2" cy="205.1" r="1.25"/><circle cx="182.1" cy="212.8" r="1.25"/><circle cx="190.6" cy="207.6" r="1.25"/><circle cx="183.2" cy="200.7" r="1.25"/><circle cx="191.0" cy="202.5" r="1.25"/><circle cx="189.3" cy="201.0" r="1.25"/><circle cx="184.3" cy="209.1" r="1.25"/><circle cx="177.9" cy="205.9" r="1.25"/><circle cx="188.1" cy="199.5" r="1.25"/><circle cx="183.6" cy="210.8" r="1.25"/><circle cx="169.2" cy="212.9" r="1.25"/><circle cx="193.9" cy="197.5" r="1.25"/><circle cx="181.7" cy="201.4" r="1.25"/><circle cx="175.6" cy="205.5" r="1.25"/><circle cx="177.9" cy="211.9" r="1.25"/><circle cx="189.1" cy="198.7" r="1.25"/><circle cx="179.2" cy="214.7" r="1.25"/><circle cx="168.3" cy="215.0" r="1.25"/><circle cx="182.4" cy="205.1" r="1.25"/><circle cx="180.0" cy="211.5" r="1.25"/><circle cx="192.6" cy="205.8" r="1.25"/><circle cx="187.1" cy="207.4" r="1.25"/><circle cx="180.8" cy="207.7" r="1.25"/><circle cx="173.8" cy="207.4" r="1.25"/><circle cx="193.7" cy="198.1" r="1.25"/><circle cx="177.8" cy="213.7" r="1.25"/><circle cx="186.1" cy="208.8" r="1.25"/><circle cx="193.0" cy="205.7" r="1.25"/><circle cx="172.5" cy="209.0" r="1.25"/><circle cx="187.0" cy="209.3" r="1.25"/><circle cx="176.4" cy="208.1" r="1.25"/><circle cx="187.5" cy="202.1" r="1.25"/><circle cx="191.3" cy="202.5" r="1.25"/><circle cx="183.5" cy="212.3" r="1.25"/><circle cx="168.2" cy="214.8" r="1.25"/><circle cx="178.6" cy="206.3" r="1.25"/><circle cx="182.7" cy="202.4" r="1.25"/><circle cx="178.6" cy="211.2" r="1.25"/><circle cx="194.0" cy="200.5" r="1.25"/><circle cx="180.1" cy="211.4" r="1.25"/><circle cx="182.6" cy="204.8" r="1.25"/><circle cx="173.6" cy="207.4" r="1.25"/><circle cx="180.2" cy="214.4" r="1.25"/><circle cx="175.7" cy="207.9" r="1.25"/><circle cx="188.7" cy="197.7" r="1.25"/><circle cx="195.6" cy="198.6" r="1.25"/><circle cx="175.6" cy="210.5" r="1.25"/><circle cx="192.3" cy="204.6" r="1.25"/><circle cx="192.9" cy="197.4" r="1.25"/><circle cx="189.8" cy="198.4" r="1.25"/><circle cx="188.2" cy="208.0" r="1.25"/><circle cx="189.1" cy="201.9" r="1.25"/><circle cx="184.7" cy="202.3" r="1.25"/><circle cx="174.8" cy="209.0" r="1.25"/><circle cx="181.9" cy="201.0" r="1.25"/><circle cx="182.1" cy="210.5" r="1.25"/><circle cx="178.0" cy="204.5" r="1.25"/><circle cx="194.6" cy="201.8" r="1.25"/><circle cx="174.2" cy="212.4" r="1.25"/><circle cx="185.6" cy="200.5" r="1.25"/><circle cx="172.2" cy="208.5" r="1.25"/><circle cx="168.7" cy="212.1" r="1.25"/><circle cx="166.7" cy="214.8" r="1.25"/><circle cx="167.1" cy="214.8" r="1.25"/><circle cx="173.0" cy="206.8" r="1.25"/><circle cx="176.0" cy="205.4" r="1.25"/><circle cx="171.9" cy="208.5" r="1.25"/><circle cx="175.0" cy="205.5" r="1.25"/><circle cx="186.0" cy="199.1" r="1.25"/><circle cx="183.3" cy="200.2" r="1.25"/><circle cx="182.2" cy="201.9" r="1.25"/><circle cx="187.0" cy="198.4" r="1.25"/><circle cx="194.3" cy="197.0" r="1.25"/><circle cx="194.4" cy="197.3" r="1.25"/><circle cx="194.7" cy="197.1" r="1.25"/><circle cx="196.7" cy="198.0" r="1.25"/><circle cx="195.4" cy="204.5" r="1.25"/><circle cx="194.8" cy="202.8" r="1.25"/><circle cx="190.1" cy="207.6" r="1.25"/><circle cx="192.8" cy="205.9" r="1.25"/><circle cx="193.2" cy="205.8" r="1.25"/><circle cx="182.6" cy="214.7" r="1.25"/><circle cx="184.9" cy="212.3" r="1.25"/><circle cx="184.9" cy="212.9" r="1.25"/><circle cx="175.2" cy="216.7" r="1.25"/><circle cx="177.9" cy="215.2" r="1.25"/><circle cx="180.7" cy="216.1" r="1.25"/><circle cx="173.5" cy="215.7" r="1.25"/><circle cx="166.3" cy="216.8" r="1.25"/><circle cx="167.2" cy="216.6" r="1.25"/><circle cx="182.0" cy="216.5" r="1.25"/></g>
<g fill="#5ae6a8"><circle cx="191.6" cy="196.7" r="1.15"/><circle cx="192.5" cy="194.8" r="1.15"/><circle cx="190.3" cy="195.3" r="1.15"/><circle cx="189.2" cy="195.0" r="1.15"/><circle cx="191.7" cy="196.9" r="1.15"/><circle cx="192.2" cy="197.1" r="1.15"/><circle cx="190.8" cy="198.6" r="1.15"/><circle cx="192.5" cy="196.8" r="1.15"/><circle cx="188.6" cy="198.6" r="1.15"/><circle cx="189.0" cy="194.5" r="1.15"/></g>
<polygon points="189.2,167.4 195.3,166.1 199.3,168.8 206.0,170.1 213.7,171.8 222.4,169.6 228.3,166.7 231.9,164.5 234.8,173.3 226.8,177.6 219.5,180.5 213.7,184.9 205.0,186.3 202.0,187.6 193.9,190.3 189.9,188.9 193.9,183.6 199.3,178.2 195.3,172.8 189.9,170.1" fill="#0a1ecd" fill-opacity="0.45"/>
<g fill="#0a1ecd"><circle cx="204.4" cy="182.7" r="1.25"/><circle cx="224.7" cy="176.0" r="1.25"/><circle cx="210.3" cy="184.1" r="1.25"/><circle cx="200.5" cy="182.1" r="1.25"/><circle cx="229.9" cy="167.8" r="1.25"/><circle cx="211.1" cy="175.1" r="1.25"/><circle cx="203.1" cy="177.2" r="1.25"/><circle cx="207.2" cy="181.2" r="1.25"/><circle cx="212.2" cy="172.8" r="1.25"/><circle cx="198.4" cy="173.2" r="1.25"/><circle cx="215.9" cy="179.5" r="1.25"/><circle cx="201.1" cy="180.5" r="1.25"/><circle cx="206.3" cy="177.2" r="1.25"/><circle cx="191.3" cy="187.2" r="1.25"/><circle cx="219.5" cy="171.6" r="1.25"/><circle cx="230.0" cy="170.9" r="1.25"/><circle cx="215.5" cy="174.3" r="1.25"/><circle cx="202.7" cy="184.1" r="1.25"/><circle cx="217.3" cy="173.1" r="1.25"/><circle cx="214.4" cy="183.3" r="1.25"/><circle cx="211.0" cy="180.9" r="1.25"/><circle cx="213.5" cy="182.7" r="1.25"/><circle cx="225.7" cy="170.6" r="1.25"/><circle cx="206.6" cy="170.3" r="1.25"/><circle cx="221.3" cy="178.1" r="1.25"/><circle cx="216.8" cy="172.9" r="1.25"/><circle cx="200.5" cy="177.8" r="1.25"/><circle cx="206.8" cy="173.4" r="1.25"/><circle cx="225.8" cy="169.0" r="1.25"/><circle cx="231.9" cy="165.0" r="1.25"/><circle cx="201.5" cy="177.2" r="1.25"/><circle cx="231.9" cy="168.7" r="1.25"/><circle cx="227.5" cy="174.7" r="1.25"/><circle cx="196.3" cy="168.0" r="1.25"/><circle cx="203.0" cy="182.6" r="1.25"/><circle cx="225.7" cy="177.6" r="1.25"/><circle cx="195.7" cy="185.7" r="1.25"/><circle cx="226.6" cy="170.1" r="1.25"/><circle cx="193.7" cy="184.3" r="1.25"/><circle cx="204.1" cy="186.0" r="1.25"/><circle cx="231.2" cy="172.6" r="1.25"/><circle cx="201.8" cy="171.0" r="1.25"/><circle cx="200.2" cy="182.5" r="1.25"/><circle cx="202.1" cy="184.4" r="1.25"/><circle cx="196.5" cy="167.2" r="1.25"/><circle cx="200.5" cy="181.6" r="1.25"/><circle cx="229.0" cy="175.1" r="1.25"/><circle cx="204.7" cy="170.7" r="1.25"/><circle cx="225.0" cy="178.2" r="1.25"/><circle cx="206.8" cy="172.1" r="1.25"/><circle cx="202.1" cy="183.6" r="1.25"/><circle cx="199.0" cy="172.9" r="1.25"/><circle cx="202.1" cy="186.8" r="1.25"/><circle cx="218.3" cy="176.9" r="1.25"/><circle cx="200.9" cy="171.2" r="1.25"/><circle cx="211.1" cy="174.4" r="1.25"/><circle cx="203.2" cy="177.8" r="1.25"/><circle cx="202.3" cy="176.0" r="1.25"/><circle cx="195.5" cy="188.3" r="1.25"/><circle cx="226.6" cy="174.2" r="1.25"/><circle cx="227.0" cy="170.0" r="1.25"/><circle cx="223.5" cy="176.6" r="1.25"/><circle cx="193.3" cy="189.7" r="1.25"/><circle cx="199.3" cy="174.2" r="1.25"/><circle cx="208.1" cy="179.4" r="1.25"/><circle cx="218.1" cy="173.9" r="1.25"/><circle cx="212.9" cy="179.5" r="1.25"/><circle cx="208.1" cy="173.6" r="1.25"/><circle cx="213.9" cy="175.5" r="1.25"/><circle cx="200.6" cy="172.6" r="1.25"/><circle cx="211.7" cy="176.0" r="1.25"/><circle cx="196.5" cy="173.4" r="1.25"/><circle cx="200.0" cy="184.6" r="1.25"/><circle cx="209.3" cy="178.4" r="1.25"/><circle cx="220.6" cy="174.3" r="1.25"/><circle cx="214.4" cy="181.4" r="1.25"/><circle cx="201.9" cy="176.0" r="1.25"/><circle cx="199.8" cy="169.3" r="1.25"/><circle cx="197.5" cy="185.5" r="1.25"/><circle cx="209.9" cy="183.0" r="1.25"/><circle cx="205.0" cy="185.3" r="1.25"/><circle cx="216.4" cy="181.4" r="1.25"/><circle cx="207.1" cy="179.0" r="1.25"/><circle cx="219.9" cy="178.2" r="1.25"/><circle cx="204.5" cy="170.5" r="1.25"/><circle cx="202.9" cy="170.5" r="1.25"/><circle cx="221.3" cy="172.2" r="1.25"/><circle cx="222.2" cy="173.5" r="1.25"/><circle cx="206.9" cy="184.4" r="1.25"/><circle cx="203.6" cy="169.9" r="1.25"/><circle cx="223.7" cy="177.1" r="1.25"/><circle cx="199.1" cy="176.7" r="1.25"/><circle cx="218.2" cy="175.9" r="1.25"/><circle cx="198.2" cy="172.5" r="1.25"/><circle cx="205.1" cy="183.3" r="1.25"/><circle cx="193.6" cy="171.0" r="1.25"/><circle cx="202.1" cy="183.8" r="1.25"/><circle cx="220.9" cy="179.0" r="1.25"/><circle cx="204.3" cy="172.8" r="1.25"/><circle cx="198.2" cy="175.6" r="1.25"/><circle cx="227.3" cy="172.5" r="1.25"/><circle cx="201.6" cy="170.0" r="1.25"/><circle cx="194.7" cy="169.1" r="1.25"/><circle cx="200.6" cy="179.4" r="1.25"/><circle cx="209.5" cy="172.4" r="1.25"/><circle cx="213.2" cy="184.5" r="1.25"/><circle cx="222.2" cy="173.4" r="1.25"/><circle cx="214.8" cy="176.8" r="1.25"/><circle cx="193.7" cy="188.4" r="1.25"/><circle cx="221.1" cy="170.6" r="1.25"/><circle cx="205.2" cy="177.4" r="1.25"/><circle cx="217.8" cy="175.5" r="1.25"/><circle cx="197.2" cy="185.0" r="1.25"/><circle cx="228.5" cy="167.8" r="1.25"/><circle cx="199.1" cy="184.2" r="1.25"/><circle cx="204.6" cy="174.8" r="1.25"/><circle cx="232.9" cy="173.4" r="1.25"/><circle cx="232.1" cy="167.5" r="1.25"/><circle cx="193.8" cy="189.2" r="1.25"/><circle cx="193.9" cy="184.7" r="1.25"/><circle cx="222.2" cy="172.7" r="1.25"/><circle cx="220.4" cy="175.1" r="1.25"/><circle cx="231.8" cy="174.4" r="1.25"/><circle cx="225.8" cy="176.7" r="1.25"/><circle cx="226.2" cy="172.3" r="1.25"/><circle cx="209.2" cy="179.9" r="1.25"/><circle cx="226.4" cy="171.6" r="1.25"/><circle cx="190.5" cy="188.3" r="1.25"/><circle cx="222.9" cy="169.9" r="1.25"/><circle cx="195.9" cy="187.7" r="1.25"/><circle cx="219.5" cy="179.5" r="1.25"/><circle cx="220.9" cy="177.2" r="1.25"/><circle cx="195.2" cy="187.1" r="1.25"/><circle cx="208.3" cy="171.4" r="1.25"/><circle cx="200.1" cy="176.4" r="1.25"/><circle cx="218.7" cy="179.2" r="1.25"/><circle cx="204.2" cy="172.6" r="1.25"/><circle cx="190.8" cy="188.3" r="1.25"/><circle cx="223.8" cy="172.3" r="1.25"/><circle cx="222.4" cy="169.8" r="1.25"/><circle cx="214.5" cy="179.9" r="1.25"/><circle cx="224.6" cy="168.8" r="1.25"/><circle cx="204.9" cy="185.8" r="1.25"/><circle cx="194.6" cy="169.9" r="1.25"/><circle cx="190.2" cy="167.7" r="1.25"/><circle cx="193.6" cy="166.6" r="1.25"/><circle cx="198.2" cy="167.9" r="1.25"/><circle cx="198.1" cy="167.9" r="1.25"/><circle cx="204.5" cy="169.2" r="1.25"/><circle cx="202.0" cy="169.2" r="1.25"/><circle cx="202.8" cy="169.4" r="1.25"/><circle cx="209.1" cy="171.6" r="1.25"/><circle cx="205.9" cy="170.6" r="1.25"/><circle cx="209.0" cy="170.9" r="1.25"/><circle cx="216.5" cy="170.2" r="1.25"/><circle cx="222.0" cy="169.5" r="1.25"/><circle cx="217.5" cy="170.1" r="1.25"/><circle cx="222.0" cy="169.4" r="1.25"/><circle cx="224.2" cy="169.3" r="1.25"/><circle cx="225.0" cy="167.8" r="1.25"/><circle cx="231.8" cy="165.5" r="1.25"/><circle cx="232.4" cy="166.3" r="1.25"/><circle cx="233.9" cy="170.2" r="1.25"/><circle cx="232.4" cy="164.3" r="1.25"/><circle cx="234.5" cy="171.6" r="1.25"/><circle cx="228.4" cy="177.3" r="1.25"/><circle cx="234.1" cy="173.6" r="1.25"/><circle cx="233.5" cy="174.7" r="1.25"/><circle cx="233.4" cy="173.6" r="1.25"/><circle cx="222.3" cy="179.2" r="1.25"/><circle cx="220.4" cy="180.3" r="1.25"/><circle cx="225.1" cy="179.3" r="1.25"/><circle cx="217.8" cy="181.3" r="1.25"/><circle cx="217.3" cy="182.5" r="1.25"/><circle cx="216.8" cy="181.4" r="1.25"/><circle cx="208.3" cy="185.4" r="1.25"/><circle cx="209.0" cy="185.8" r="1.25"/><circle cx="211.6" cy="184.9" r="1.25"/><circle cx="206.3" cy="185.6" r="1.25"/><circle cx="204.3" cy="186.3" r="1.25"/><circle cx="199.9" cy="187.7" r="1.25"/><circle cx="199.1" cy="188.9" r="1.25"/><circle cx="198.7" cy="188.5" r="1.25"/><circle cx="191.4" cy="189.1" r="1.25"/><circle cx="193.2" cy="184.8" r="1.25"/><circle cx="192.3" cy="185.9" r="1.25"/><circle cx="190.4" cy="188.1" r="1.25"/><circle cx="196.2" cy="181.6" r="1.25"/><circle cx="196.3" cy="180.2" r="1.25"/><circle cx="196.0" cy="181.9" r="1.25"/><circle cx="199.6" cy="178.1" r="1.25"/><circle cx="198.6" cy="177.4" r="1.25"/><circle cx="196.1" cy="173.5" r="1.25"/><circle cx="193.6" cy="171.8" r="1.25"/><circle cx="193.9" cy="172.3" r="1.25"/><circle cx="190.0" cy="168.5" r="1.25"/></g>
<polygon points="212.0,171.5 222.0,169.5 228.3,166.7 231.9,164.5 234.0,170.0 228.0,173.5 220.0,175.2 212.0,174.5" fill="#1e8cf0" fill-opacity="0.5"/>
<g fill="#1e8cf0"><circle cx="223.6" cy="173.3" r="1.25"/><circle cx="224.9" cy="169.1" r="1.25"/><circle cx="228.6" cy="168.2" r="1.25"/><circle cx="217.6" cy="173.6" r="1.25"/><circle cx="214.6" cy="171.5" r="1.25"/><circle cx="219.8" cy="174.0" r="1.25"/><circle cx="216.4" cy="173.1" r="1.25"/><circle cx="227.0" cy="167.5" r="1.25"/><circle cx="225.5" cy="168.2" r="1.25"/><circle cx="232.5" cy="167.2" r="1.25"/><circle cx="215.6" cy="171.2" r="1.25"/><circle cx="226.5" cy="170.0" r="1.25"/><circle cx="216.0" cy="173.9" r="1.25"/><circle cx="222.5" cy="170.4" r="1.25"/><circle cx="225.2" cy="172.9" r="1.25"/><circle cx="230.7" cy="171.9" r="1.25"/><circle cx="214.4" cy="171.8" r="1.25"/><circle cx="229.5" cy="168.9" r="1.25"/><circle cx="215.4" cy="171.6" r="1.25"/><circle cx="224.1" cy="170.4" r="1.25"/><circle cx="220.9" cy="173.1" r="1.25"/><circle cx="223.8" cy="172.9" r="1.25"/><circle cx="231.3" cy="167.9" r="1.25"/><circle cx="221.0" cy="170.3" r="1.25"/><circle cx="214.2" cy="172.1" r="1.25"/><circle cx="231.4" cy="167.9" r="1.25"/><circle cx="215.2" cy="172.6" r="1.25"/><circle cx="227.3" cy="168.5" r="1.25"/><circle cx="230.3" cy="169.4" r="1.25"/><circle cx="229.9" cy="168.1" r="1.25"/><circle cx="219.8" cy="171.9" r="1.25"/><circle cx="220.9" cy="173.7" r="1.25"/><circle cx="228.7" cy="170.4" r="1.25"/><circle cx="215.3" cy="171.4" r="1.25"/><circle cx="219.7" cy="169.2" r="1.25"/><circle cx="214.7" cy="170.4" r="1.25"/><circle cx="220.1" cy="170.0" r="1.25"/><circle cx="225.3" cy="168.1" r="1.25"/><circle cx="223.2" cy="168.6" r="1.25"/><circle cx="223.2" cy="169.3" r="1.25"/><circle cx="231.5" cy="165.6" r="1.25"/><circle cx="231.2" cy="164.4" r="1.25"/><circle cx="233.0" cy="168.8" r="1.25"/><circle cx="228.8" cy="172.7" r="1.25"/><circle cx="229.0" cy="173.0" r="1.25"/><circle cx="230.8" cy="172.4" r="1.25"/><circle cx="222.0" cy="174.5" r="1.25"/><circle cx="222.1" cy="175.2" r="1.25"/><circle cx="225.7" cy="174.4" r="1.25"/><circle cx="216.5" cy="175.4" r="1.25"/><circle cx="216.5" cy="174.0" r="1.25"/><circle cx="213.2" cy="174.6" r="1.25"/><circle cx="211.4" cy="171.7" r="1.25"/></g>
<polyline points="330.7,157.4 330.7,161.8 336.1,164.8 332.4,166.8 332.7,168.8 336.7,171.2 346.1,173.1 356.2,173.9 352.2,175.2 361.6,176.8 355.5,178.5 348.1,181.5 347.5,183.3 343.4,185.6 348.1,188.3 357.9,190.2 384.7,192.5 396.4,192.9 384.7,193.4 357.9,194.0 350.7,195.0 345.4,198.3 340.8,200.3 334.7,203.4 334.0,207.7 336.7,213.0 334.0,214.4 331.4,216.2" fill="none" stroke="#3c8cd2" stroke-width="1.0" stroke-linecap="round" stroke-linejoin="round"/>
<g fill="#f5a014"><circle cx="147.9" cy="348.0" r="1.25"/><circle cx="165.8" cy="358.4" r="1.25"/><circle cx="153.4" cy="363.8" r="1.25"/><circle cx="176.5" cy="368.6" r="1.25"/><circle cx="160.8" cy="357.9" r="1.25"/><circle cx="167.1" cy="359.5" r="1.25"/><circle cx="146.0" cy="350.0" r="1.25"/><circle cx="156.8" cy="350.1" r="1.25"/><circle cx="159.9" cy="386.8" r="1.25"/><circle cx="151.9" cy="354.2" r="1.25"/><circle cx="143.9" cy="356.4" r="1.25"/><circle cx="155.0" cy="373.5" r="1.25"/><circle cx="165.4" cy="370.2" r="1.25"/><circle cx="155.0" cy="376.1" r="1.25"/><circle cx="170.6" cy="375.2" r="1.25"/><circle cx="161.8" cy="364.5" r="1.25"/><circle cx="154.4" cy="346.4" r="1.25"/><circle cx="161.6" cy="371.0" r="1.25"/><circle cx="175.6" cy="365.6" r="1.25"/><circle cx="150.0" cy="356.3" r="1.25"/><circle cx="157.1" cy="359.6" r="1.25"/><circle cx="166.9" cy="349.5" r="1.25"/><circle cx="176.8" cy="359.1" r="1.25"/><circle cx="179.3" cy="358.8" r="1.25"/><circle cx="155.2" cy="352.2" r="1.25"/><circle cx="164.7" cy="376.0" r="1.25"/><circle cx="147.2" cy="360.6" r="1.25"/><circle cx="182.9" cy="367.5" r="1.25"/><circle cx="153.6" cy="368.6" r="1.25"/><circle cx="157.4" cy="369.4" r="1.25"/><circle cx="178.1" cy="355.7" r="1.25"/><circle cx="159.7" cy="385.0" r="1.25"/><circle cx="153.2" cy="360.4" r="1.25"/><circle cx="166.3" cy="354.8" r="1.25"/><circle cx="171.3" cy="372.6" r="1.25"/><circle cx="156.9" cy="350.8" r="1.25"/><circle cx="175.0" cy="364.3" r="1.25"/><circle cx="180.1" cy="367.4" r="1.25"/><circle cx="154.0" cy="366.8" r="1.25"/><circle cx="159.4" cy="368.6" r="1.25"/><circle cx="177.0" cy="353.2" r="1.25"/><circle cx="164.5" cy="369.2" r="1.25"/><circle cx="160.6" cy="352.6" r="1.25"/><circle cx="159.5" cy="370.0" r="1.25"/><circle cx="148.3" cy="355.6" r="1.25"/><circle cx="167.0" cy="360.3" r="1.25"/><circle cx="152.5" cy="369.8" r="1.25"/><circle cx="147.3" cy="354.2" r="1.25"/><circle cx="160.6" cy="386.8" r="1.25"/><circle cx="156.0" cy="358.2" r="1.25"/><circle cx="162.0" cy="351.6" r="1.25"/><circle cx="159.1" cy="374.6" r="1.25"/><circle cx="156.0" cy="378.7" r="1.25"/><circle cx="150.4" cy="349.0" r="1.25"/><circle cx="168.1" cy="364.0" r="1.25"/><circle cx="172.8" cy="373.3" r="1.25"/><circle cx="157.8" cy="350.2" r="1.25"/><circle cx="167.5" cy="377.1" r="1.25"/><circle cx="161.9" cy="364.9" r="1.25"/><circle cx="170.4" cy="370.7" r="1.25"/><circle cx="159.9" cy="352.6" r="1.25"/><circle cx="161.5" cy="368.2" r="1.25"/><circle cx="165.3" cy="358.7" r="1.25"/><circle cx="151.9" cy="371.6" r="1.25"/><circle cx="172.5" cy="355.3" r="1.25"/><circle cx="158.7" cy="384.8" r="1.25"/><circle cx="160.5" cy="372.5" r="1.25"/><circle cx="177.7" cy="353.4" r="1.25"/><circle cx="145.6" cy="357.8" r="1.25"/><circle cx="162.1" cy="376.5" r="1.25"/><circle cx="145.9" cy="346.3" r="1.25"/><circle cx="164.0" cy="371.7" r="1.25"/><circle cx="159.5" cy="385.7" r="1.25"/><circle cx="157.3" cy="371.2" r="1.25"/><circle cx="164.7" cy="355.9" r="1.25"/><circle cx="153.0" cy="358.4" r="1.25"/><circle cx="178.3" cy="366.1" r="1.25"/><circle cx="144.5" cy="357.5" r="1.25"/><circle cx="167.4" cy="379.2" r="1.25"/><circle cx="158.6" cy="367.1" r="1.25"/><circle cx="159.8" cy="363.4" r="1.25"/><circle cx="171.0" cy="350.7" r="1.25"/><circle cx="169.9" cy="371.6" r="1.25"/><circle cx="155.5" cy="356.1" r="1.25"/><circle cx="179.8" cy="367.4" r="1.25"/><circle cx="157.0" cy="347.6" r="1.25"/><circle cx="159.7" cy="349.5" r="1.25"/><circle cx="147.8" cy="345.3" r="1.25"/><circle cx="176.2" cy="366.7" r="1.25"/><circle cx="147.8" cy="358.6" r="1.25"/><circle cx="159.6" cy="377.6" r="1.25"/><circle cx="175.1" cy="369.5" r="1.25"/><circle cx="152.1" cy="358.6" r="1.25"/><circle cx="162.8" cy="374.7" r="1.25"/><circle cx="163.8" cy="377.5" r="1.25"/><circle cx="156.5" cy="362.4" r="1.25"/><circle cx="172.8" cy="374.7" r="1.25"/><circle cx="178.5" cy="357.9" r="1.25"/><circle cx="165.9" cy="362.1" r="1.25"/><circle cx="146.9" cy="358.0" r="1.25"/><circle cx="147.9" cy="346.8" r="1.25"/><circle cx="171.7" cy="375.9" r="1.25"/><circle cx="167.6" cy="353.5" r="1.25"/><circle cx="167.8" cy="354.4" r="1.25"/><circle cx="165.6" cy="361.6" r="1.25"/><circle cx="153.8" cy="351.0" r="1.25"/><circle cx="177.6" cy="371.7" r="1.25"/><circle cx="153.6" cy="366.4" r="1.25"/><circle cx="145.4" cy="357.6" r="1.25"/><circle cx="164.6" cy="365.3" r="1.25"/><circle cx="179.4" cy="369.4" r="1.25"/><circle cx="168.5" cy="369.7" r="1.25"/><circle cx="174.4" cy="360.3" r="1.25"/><circle cx="147.5" cy="354.2" r="1.25"/><circle cx="169.3" cy="350.3" r="1.25"/><circle cx="143.2" cy="355.8" r="1.25"/><circle cx="158.3" cy="353.5" r="1.25"/><circle cx="152.8" cy="358.5" r="1.25"/><circle cx="159.6" cy="360.1" r="1.25"/><circle cx="161.3" cy="353.5" r="1.25"/><circle cx="147.9" cy="366.1" r="1.25"/><circle cx="165.5" cy="349.7" r="1.25"/><circle cx="155.8" cy="371.1" r="1.25"/><circle cx="169.9" cy="371.5" r="1.25"/><circle cx="167.8" cy="360.8" r="1.25"/><circle cx="145.8" cy="345.4" r="1.25"/><circle cx="173.8" cy="352.0" r="1.25"/><circle cx="156.9" cy="353.3" r="1.25"/><circle cx="176.3" cy="361.0" r="1.25"/><circle cx="180.4" cy="355.8" r="1.25"/><circle cx="166.0" cy="373.5" r="1.25"/><circle cx="152.3" cy="361.0" r="1.25"/><circle cx="150.4" cy="350.5" r="1.25"/><circle cx="154.1" cy="372.0" r="1.25"/><circle cx="168.5" cy="367.1" r="1.25"/><circle cx="151.4" cy="367.5" r="1.25"/><circle cx="149.8" cy="355.0" r="1.25"/><circle cx="148.9" cy="348.0" r="1.25"/><circle cx="151.8" cy="370.0" r="1.25"/><circle cx="173.9" cy="355.0" r="1.25"/><circle cx="166.6" cy="367.3" r="1.25"/><circle cx="158.8" cy="362.8" r="1.25"/><circle cx="164.6" cy="380.6" r="1.25"/><circle cx="164.5" cy="375.3" r="1.25"/><circle cx="151.7" cy="369.0" r="1.25"/><circle cx="160.6" cy="354.6" r="1.25"/><circle cx="174.3" cy="354.1" r="1.25"/><circle cx="171.4" cy="365.6" r="1.25"/><circle cx="160.1" cy="374.9" r="1.25"/><circle cx="153.6" cy="373.3" r="1.25"/><circle cx="160.9" cy="360.0" r="1.25"/><circle cx="164.3" cy="357.9" r="1.25"/><circle cx="147.2" cy="365.4" r="1.25"/><circle cx="145.8" cy="352.0" r="1.25"/><circle cx="160.8" cy="359.6" r="1.25"/><circle cx="163.0" cy="367.3" r="1.25"/><circle cx="158.5" cy="350.4" r="1.25"/><circle cx="157.1" cy="358.3" r="1.25"/><circle cx="172.7" cy="365.8" r="1.25"/><circle cx="148.3" cy="353.5" r="1.25"/><circle cx="157.8" cy="361.8" r="1.25"/><circle cx="160.6" cy="369.3" r="1.25"/><circle cx="166.8" cy="380.1" r="1.25"/><circle cx="181.3" cy="367.5" r="1.25"/><circle cx="172.8" cy="360.7" r="1.25"/><circle cx="168.7" cy="356.8" r="1.25"/><circle cx="179.7" cy="360.4" r="1.25"/><circle cx="151.9" cy="356.3" r="1.25"/><circle cx="147.6" cy="353.7" r="1.25"/><circle cx="149.8" cy="345.2" r="1.25"/><circle cx="150.8" cy="345.8" r="1.25"/><circle cx="146.2" cy="344.6" r="1.25"/><circle cx="158.5" cy="348.2" r="1.25"/><circle cx="155.4" cy="346.1" r="1.25"/><circle cx="155.3" cy="346.2" r="1.25"/><circle cx="168.9" cy="350.3" r="1.25"/><circle cx="161.5" cy="348.3" r="1.25"/><circle cx="160.7" cy="348.9" r="1.25"/><circle cx="167.2" cy="349.6" r="1.25"/><circle cx="177.6" cy="352.7" r="1.25"/><circle cx="171.0" cy="349.6" r="1.25"/><circle cx="171.3" cy="350.7" r="1.25"/><circle cx="180.8" cy="355.9" r="1.25"/><circle cx="179.1" cy="353.8" r="1.25"/><circle cx="180.1" cy="355.2" r="1.25"/><circle cx="183.8" cy="366.5" r="1.25"/><circle cx="182.9" cy="361.5" r="1.25"/><circle cx="183.6" cy="364.9" r="1.25"/><circle cx="183.7" cy="363.7" r="1.25"/><circle cx="179.2" cy="370.6" r="1.25"/><circle cx="179.8" cy="370.6" r="1.25"/><circle cx="181.8" cy="368.9" r="1.25"/><circle cx="178.1" cy="372.1" r="1.25"/><circle cx="173.3" cy="376.1" r="1.25"/><circle cx="168.5" cy="378.5" r="1.25"/><circle cx="174.6" cy="374.3" r="1.25"/><circle cx="168.0" cy="380.2" r="1.25"/><circle cx="167.8" cy="380.3" r="1.25"/><circle cx="167.3" cy="380.6" r="1.25"/><circle cx="165.9" cy="382.7" r="1.25"/><circle cx="166.4" cy="380.2" r="1.25"/><circle cx="158.9" cy="385.7" r="1.25"/><circle cx="155.7" cy="377.7" r="1.25"/><circle cx="156.5" cy="379.9" r="1.25"/><circle cx="155.2" cy="377.4" r="1.25"/><circle cx="153.3" cy="376.9" r="1.25"/><circle cx="152.5" cy="373.5" r="1.25"/><circle cx="155.7" cy="377.6" r="1.25"/><circle cx="149.5" cy="369.5" r="1.25"/><circle cx="147.5" cy="366.5" r="1.25"/><circle cx="146.8" cy="367.9" r="1.25"/><circle cx="144.6" cy="358.9" r="1.25"/><circle cx="145.2" cy="364.1" r="1.25"/><circle cx="145.1" cy="363.8" r="1.25"/><circle cx="143.7" cy="356.8" r="1.25"/><circle cx="144.8" cy="344.7" r="1.25"/><circle cx="144.5" cy="349.0" r="1.25"/><circle cx="143.9" cy="351.3" r="1.25"/><circle cx="143.6" cy="348.6" r="1.25"/></g>
<g fill="#f5aa14"><circle cx="164.4" cy="367.5" r="1.15"/><circle cx="168.2" cy="364.3" r="1.15"/><circle cx="170.0" cy="374.4" r="1.15"/><circle cx="167.3" cy="370.6" r="1.15"/><circle cx="163.8" cy="363.1" r="1.15"/><circle cx="168.2" cy="368.7" r="1.15"/><circle cx="162.5" cy="373.3" r="1.15"/><circle cx="168.0" cy="365.1" r="1.15"/><circle cx="163.1" cy="374.7" r="1.15"/><circle cx="163.0" cy="359.4" r="1.15"/><circle cx="170.6" cy="358.5" r="1.15"/><circle cx="175.1" cy="371.6" r="1.15"/><circle cx="164.7" cy="366.8" r="1.15"/><circle cx="171.7" cy="361.2" r="1.15"/><circle cx="165.3" cy="373.7" r="1.15"/><circle cx="171.6" cy="369.7" r="1.15"/><circle cx="160.1" cy="362.3" r="1.15"/><circle cx="170.8" cy="369.5" r="1.15"/><circle cx="176.5" cy="369.1" r="1.15"/><circle cx="176.4" cy="367.4" r="1.15"/><circle cx="168.4" cy="363.6" r="1.15"/><circle cx="167.3" cy="376.7" r="1.15"/><circle cx="167.8" cy="358.0" r="1.15"/><circle cx="165.1" cy="362.0" r="1.15"/><circle cx="170.5" cy="368.2" r="1.15"/><circle cx="167.5" cy="376.5" r="1.15"/><circle cx="173.2" cy="359.7" r="1.15"/><circle cx="169.9" cy="371.0" r="1.15"/><circle cx="168.0" cy="358.7" r="1.15"/><circle cx="167.0" cy="374.7" r="1.15"/></g>
<g fill="#f5b414"><circle cx="159.2" cy="373.6" r="1.15"/><circle cx="158.5" cy="375.3" r="1.15"/><circle cx="160.5" cy="385.9" r="1.15"/><circle cx="162.4" cy="382.0" r="1.15"/><circle cx="157.6" cy="384.3" r="1.15"/><circle cx="156.1" cy="375.0" r="1.15"/><circle cx="162.4" cy="382.9" r="1.15"/><circle cx="158.7" cy="386.4" r="1.15"/><circle cx="159.4" cy="385.3" r="1.15"/><circle cx="153.3" cy="381.1" r="1.15"/><circle cx="154.2" cy="377.6" r="1.15"/><circle cx="153.8" cy="379.5" r="1.15"/><circle cx="152.6" cy="382.2" r="1.15"/><circle cx="159.8" cy="385.7" r="1.15"/><circle cx="162.4" cy="380.6" r="1.15"/><circle cx="163.2" cy="379.9" r="1.15"/><circle cx="153.0" cy="382.9" r="1.15"/><circle cx="158.5" cy="385.6" r="1.15"/></g>
<g fill="#f5c814"><circle cx="176.6" cy="363.1" r="1.60"/><circle cx="176.9" cy="364.0" r="1.60"/><circle cx="177.4" cy="365.1" r="1.60"/><circle cx="177.1" cy="366.9" r="1.60"/><circle cx="176.8" cy="368.7" r="1.60"/><circle cx="177.8" cy="369.2" r="1.60"/><circle cx="177.4" cy="371.3" r="1.60"/><circle cx="176.8" cy="372.9" r="1.60"/><circle cx="177.6" cy="374.0" r="1.60"/><circle cx="177.2" cy="375.3" r="1.60"/><circle cx="177.4" cy="376.6" r="1.60"/><circle cx="177.9" cy="378.0" r="1.60"/><circle cx="177.7" cy="379.0" r="1.60"/><circle cx="177.7" cy="379.1" r="1.60"/><circle cx="178.8" cy="382.1" r="1.60"/><circle cx="178.7" cy="382.2" r="1.60"/><circle cx="178.5" cy="384.5" r="1.60"/><circle cx="178.0" cy="386.1" r="1.60"/><circle cx="178.8" cy="387.2" r="1.60"/><circle cx="178.3" cy="387.5" r="1.60"/><circle cx="179.1" cy="389.2" r="1.60"/><circle cx="178.7" cy="391.1" r="1.60"/><circle cx="178.4" cy="391.8" r="1.60"/><circle cx="178.7" cy="392.7" r="1.60"/><circle cx="179.0" cy="393.9" r="1.60"/><circle cx="179.5" cy="396.7" r="1.60"/><circle cx="178.9" cy="396.1" r="1.60"/><circle cx="178.3" cy="398.1" r="1.60"/><circle cx="179.5" cy="399.6" r="1.60"/><circle cx="179.1" cy="400.4" r="1.60"/></g>
<polygon points="125.6,410.6 131.9,407.5 141.3,404.4 149.1,407.5 157.0,406.0 166.3,409.1 169.5,418.5 161.6,423.2 153.8,421.6 144.4,426.3 138.2,429.4 130.3,431.0 125.6,424.7" fill="#c8f032" fill-opacity="0.5"/>
<g fill="#c8f032"><circle cx="137.7" cy="429.2" r="1.25"/><circle cx="127.9" cy="426.9" r="1.25"/><circle cx="142.7" cy="415.7" r="1.25"/><circle cx="152.3" cy="418.4" r="1.25"/><circle cx="159.8" cy="421.6" r="1.25"/><circle cx="128.9" cy="428.3" r="1.25"/><circle cx="141.6" cy="417.0" r="1.25"/><circle cx="132.5" cy="424.6" r="1.25"/><circle cx="157.1" cy="419.0" r="1.25"/><circle cx="133.4" cy="413.4" r="1.25"/><circle cx="139.9" cy="427.2" r="1.25"/><circle cx="159.9" cy="412.1" r="1.25"/><circle cx="128.3" cy="413.1" r="1.25"/><circle cx="141.3" cy="414.7" r="1.25"/><circle cx="163.1" cy="418.6" r="1.25"/><circle cx="153.3" cy="416.1" r="1.25"/><circle cx="137.8" cy="418.4" r="1.25"/><circle cx="146.6" cy="408.2" r="1.25"/><circle cx="132.0" cy="417.9" r="1.25"/><circle cx="160.7" cy="415.9" r="1.25"/><circle cx="131.6" cy="427.9" r="1.25"/><circle cx="127.6" cy="421.7" r="1.25"/><circle cx="132.0" cy="411.3" r="1.25"/><circle cx="144.1" cy="424.5" r="1.25"/><circle cx="144.7" cy="415.5" r="1.25"/><circle cx="143.3" cy="418.3" r="1.25"/><circle cx="134.0" cy="407.9" r="1.25"/><circle cx="149.7" cy="413.7" r="1.25"/><circle cx="155.3" cy="414.1" r="1.25"/><circle cx="166.3" cy="412.4" r="1.25"/><circle cx="144.6" cy="412.8" r="1.25"/><circle cx="149.0" cy="411.9" r="1.25"/><circle cx="155.0" cy="415.3" r="1.25"/><circle cx="156.7" cy="412.2" r="1.25"/><circle cx="145.6" cy="419.2" r="1.25"/><circle cx="157.1" cy="421.8" r="1.25"/><circle cx="144.4" cy="406.7" r="1.25"/><circle cx="130.5" cy="408.3" r="1.25"/><circle cx="133.7" cy="409.3" r="1.25"/><circle cx="154.7" cy="413.5" r="1.25"/><circle cx="165.5" cy="410.6" r="1.25"/><circle cx="136.4" cy="409.3" r="1.25"/><circle cx="131.9" cy="422.5" r="1.25"/><circle cx="151.0" cy="411.1" r="1.25"/><circle cx="161.2" cy="422.4" r="1.25"/><circle cx="144.4" cy="420.6" r="1.25"/><circle cx="154.4" cy="416.1" r="1.25"/><circle cx="129.6" cy="414.1" r="1.25"/><circle cx="167.1" cy="414.3" r="1.25"/><circle cx="153.6" cy="406.8" r="1.25"/><circle cx="142.0" cy="414.3" r="1.25"/><circle cx="148.1" cy="411.1" r="1.25"/><circle cx="134.8" cy="407.8" r="1.25"/><circle cx="155.8" cy="417.9" r="1.25"/><circle cx="131.3" cy="430.4" r="1.25"/><circle cx="164.0" cy="420.8" r="1.25"/><circle cx="152.8" cy="416.0" r="1.25"/><circle cx="144.2" cy="408.3" r="1.25"/><circle cx="149.7" cy="411.7" r="1.25"/><circle cx="131.0" cy="427.6" r="1.25"/><circle cx="138.5" cy="419.7" r="1.25"/><circle cx="137.8" cy="426.5" r="1.25"/><circle cx="134.8" cy="421.6" r="1.25"/><circle cx="150.0" cy="413.1" r="1.25"/><circle cx="129.1" cy="417.3" r="1.25"/><circle cx="134.5" cy="409.3" r="1.25"/><circle cx="139.0" cy="425.7" r="1.25"/><circle cx="135.8" cy="421.3" r="1.25"/><circle cx="156.7" cy="417.6" r="1.25"/><circle cx="130.5" cy="417.0" r="1.25"/><circle cx="166.9" cy="414.8" r="1.25"/><circle cx="150.1" cy="415.6" r="1.25"/><circle cx="164.4" cy="419.8" r="1.25"/><circle cx="140.8" cy="412.0" r="1.25"/><circle cx="133.8" cy="429.2" r="1.25"/><circle cx="162.5" cy="414.5" r="1.25"/><circle cx="152.1" cy="419.1" r="1.25"/><circle cx="157.9" cy="408.7" r="1.25"/><circle cx="154.3" cy="420.7" r="1.25"/><circle cx="167.7" cy="417.4" r="1.25"/><circle cx="162.3" cy="417.1" r="1.25"/><circle cx="135.1" cy="415.2" r="1.25"/><circle cx="128.9" cy="419.9" r="1.25"/><circle cx="135.2" cy="423.1" r="1.25"/><circle cx="133.2" cy="422.7" r="1.25"/><circle cx="167.3" cy="412.3" r="1.25"/><circle cx="155.6" cy="415.0" r="1.25"/><circle cx="159.1" cy="420.4" r="1.25"/><circle cx="137.1" cy="428.5" r="1.25"/><circle cx="140.4" cy="426.3" r="1.25"/><circle cx="160.8" cy="416.5" r="1.25"/><circle cx="142.9" cy="425.6" r="1.25"/><circle cx="154.3" cy="418.8" r="1.25"/><circle cx="126.2" cy="416.8" r="1.25"/><circle cx="129.9" cy="426.8" r="1.25"/><circle cx="129.5" cy="427.9" r="1.25"/><circle cx="135.5" cy="408.0" r="1.25"/><circle cx="158.7" cy="422.4" r="1.25"/><circle cx="143.6" cy="420.3" r="1.25"/><circle cx="147.9" cy="418.8" r="1.25"/><circle cx="145.9" cy="415.4" r="1.25"/><circle cx="155.9" cy="407.4" r="1.25"/><circle cx="159.0" cy="418.8" r="1.25"/><circle cx="141.1" cy="407.0" r="1.25"/><circle cx="129.7" cy="418.7" r="1.25"/><circle cx="133.6" cy="424.3" r="1.25"/><circle cx="161.0" cy="417.2" r="1.25"/><circle cx="163.3" cy="409.4" r="1.25"/><circle cx="140.3" cy="418.1" r="1.25"/><circle cx="157.5" cy="416.3" r="1.25"/><circle cx="138.9" cy="427.5" r="1.25"/><circle cx="142.8" cy="415.6" r="1.25"/><circle cx="135.4" cy="417.2" r="1.25"/><circle cx="156.6" cy="414.0" r="1.25"/><circle cx="154.7" cy="417.5" r="1.25"/><circle cx="138.2" cy="418.9" r="1.25"/><circle cx="128.4" cy="409.9" r="1.25"/><circle cx="132.3" cy="427.0" r="1.25"/><circle cx="137.5" cy="418.0" r="1.25"/><circle cx="133.3" cy="412.5" r="1.25"/><circle cx="165.3" cy="416.2" r="1.25"/><circle cx="135.8" cy="420.3" r="1.25"/><circle cx="130.6" cy="418.2" r="1.25"/><circle cx="154.0" cy="406.8" r="1.25"/><circle cx="149.7" cy="412.6" r="1.25"/><circle cx="158.3" cy="420.8" r="1.25"/><circle cx="165.5" cy="420.6" r="1.25"/><circle cx="133.6" cy="409.3" r="1.25"/><circle cx="128.3" cy="415.5" r="1.25"/><circle cx="138.0" cy="416.8" r="1.25"/><circle cx="163.9" cy="419.3" r="1.25"/><circle cx="137.8" cy="420.9" r="1.25"/><circle cx="142.1" cy="417.0" r="1.25"/><circle cx="148.9" cy="422.1" r="1.25"/><circle cx="133.0" cy="426.7" r="1.25"/><circle cx="132.7" cy="412.7" r="1.25"/><circle cx="159.1" cy="408.7" r="1.25"/><circle cx="131.0" cy="413.9" r="1.25"/><circle cx="129.3" cy="416.9" r="1.25"/><circle cx="140.8" cy="424.0" r="1.25"/><circle cx="162.6" cy="409.0" r="1.25"/><circle cx="150.4" cy="418.4" r="1.25"/><circle cx="133.1" cy="412.9" r="1.25"/><circle cx="135.3" cy="409.6" r="1.25"/><circle cx="152.6" cy="413.0" r="1.25"/><circle cx="159.3" cy="419.6" r="1.25"/><circle cx="162.8" cy="417.9" r="1.25"/><circle cx="153.4" cy="410.7" r="1.25"/><circle cx="156.2" cy="415.2" r="1.25"/><circle cx="157.3" cy="419.9" r="1.25"/><circle cx="131.8" cy="412.4" r="1.25"/><circle cx="153.3" cy="418.9" r="1.25"/><circle cx="157.0" cy="413.2" r="1.25"/><circle cx="146.5" cy="417.1" r="1.25"/><circle cx="148.0" cy="411.3" r="1.25"/><circle cx="151.5" cy="411.3" r="1.25"/><circle cx="134.7" cy="410.6" r="1.25"/><circle cx="164.9" cy="414.1" r="1.25"/><circle cx="137.4" cy="419.1" r="1.25"/><circle cx="153.3" cy="407.4" r="1.25"/><circle cx="148.4" cy="417.6" r="1.25"/><circle cx="155.0" cy="412.1" r="1.25"/><circle cx="128.8" cy="426.2" r="1.25"/><circle cx="164.4" cy="412.5" r="1.25"/><circle cx="162.3" cy="411.0" r="1.25"/><circle cx="160.8" cy="422.7" r="1.25"/><circle cx="157.9" cy="422.2" r="1.25"/><circle cx="143.2" cy="417.7" r="1.25"/><circle cx="147.9" cy="410.1" r="1.25"/><circle cx="137.1" cy="426.9" r="1.25"/><circle cx="155.8" cy="418.0" r="1.25"/><circle cx="150.8" cy="422.1" r="1.25"/><circle cx="125.9" cy="416.2" r="1.25"/><circle cx="146.1" cy="406.5" r="1.25"/><circle cx="136.8" cy="426.3" r="1.25"/><circle cx="127.0" cy="425.6" r="1.25"/><circle cx="136.9" cy="429.2" r="1.25"/><circle cx="141.9" cy="416.4" r="1.25"/><circle cx="167.3" cy="418.9" r="1.25"/><circle cx="155.5" cy="407.3" r="1.25"/><circle cx="125.8" cy="411.4" r="1.25"/><circle cx="130.2" cy="426.3" r="1.25"/><circle cx="155.4" cy="409.5" r="1.25"/><circle cx="156.8" cy="412.9" r="1.25"/><circle cx="151.1" cy="422.8" r="1.25"/><circle cx="140.5" cy="407.8" r="1.25"/><circle cx="139.9" cy="424.1" r="1.25"/><circle cx="150.3" cy="408.0" r="1.25"/><circle cx="136.2" cy="417.0" r="1.25"/><circle cx="145.3" cy="408.0" r="1.25"/><circle cx="139.4" cy="418.8" r="1.25"/><circle cx="139.2" cy="415.6" r="1.25"/><circle cx="139.5" cy="421.7" r="1.25"/><circle cx="157.3" cy="417.9" r="1.25"/><circle cx="159.7" cy="422.3" r="1.25"/><circle cx="128.3" cy="417.1" r="1.25"/><circle cx="137.4" cy="420.6" r="1.25"/><circle cx="143.0" cy="416.5" r="1.25"/><circle cx="149.2" cy="420.0" r="1.25"/><circle cx="164.7" cy="411.9" r="1.25"/><circle cx="137.7" cy="409.3" r="1.25"/><circle cx="130.5" cy="427.0" r="1.25"/><circle cx="128.5" cy="411.0" r="1.25"/><circle cx="136.7" cy="417.0" r="1.25"/><circle cx="155.5" cy="408.5" r="1.25"/><circle cx="131.0" cy="413.2" r="1.25"/><circle cx="130.1" cy="425.7" r="1.25"/><circle cx="154.2" cy="412.4" r="1.25"/><circle cx="135.3" cy="428.7" r="1.25"/><circle cx="129.7" cy="421.6" r="1.25"/><circle cx="132.0" cy="422.1" r="1.25"/><circle cx="155.1" cy="410.6" r="1.25"/><circle cx="146.5" cy="410.0" r="1.25"/><circle cx="163.8" cy="421.2" r="1.25"/><circle cx="155.9" cy="420.9" r="1.25"/><circle cx="128.3" cy="428.0" r="1.25"/><circle cx="159.8" cy="418.1" r="1.25"/><circle cx="151.5" cy="417.5" r="1.25"/><circle cx="158.8" cy="418.6" r="1.25"/><circle cx="137.8" cy="418.1" r="1.25"/><circle cx="157.2" cy="410.0" r="1.25"/><circle cx="147.9" cy="419.9" r="1.25"/><circle cx="151.0" cy="416.6" r="1.25"/><circle cx="148.0" cy="422.7" r="1.25"/><circle cx="164.3" cy="418.1" r="1.25"/><circle cx="160.0" cy="422.5" r="1.25"/><circle cx="130.8" cy="411.3" r="1.25"/><circle cx="139.4" cy="413.8" r="1.25"/><circle cx="147.2" cy="412.2" r="1.25"/><circle cx="141.9" cy="423.0" r="1.25"/><circle cx="160.9" cy="412.9" r="1.25"/><circle cx="131.9" cy="425.9" r="1.25"/><circle cx="143.8" cy="413.7" r="1.25"/><circle cx="128.9" cy="409.8" r="1.25"/><circle cx="131.8" cy="407.2" r="1.25"/><circle cx="127.1" cy="409.0" r="1.25"/><circle cx="134.6" cy="406.4" r="1.25"/><circle cx="133.4" cy="406.9" r="1.25"/><circle cx="134.5" cy="406.5" r="1.25"/><circle cx="132.7" cy="407.8" r="1.25"/><circle cx="147.8" cy="406.7" r="1.25"/><circle cx="146.2" cy="407.3" r="1.25"/><circle cx="146.5" cy="405.7" r="1.25"/><circle cx="151.2" cy="407.8" r="1.25"/><circle cx="150.4" cy="406.6" r="1.25"/><circle cx="157.2" cy="406.5" r="1.25"/><circle cx="163.5" cy="407.9" r="1.25"/><circle cx="157.4" cy="405.5" r="1.25"/><circle cx="158.2" cy="407.3" r="1.25"/><circle cx="164.0" cy="409.2" r="1.25"/><circle cx="166.2" cy="410.4" r="1.25"/><circle cx="168.2" cy="417.1" r="1.25"/><circle cx="168.5" cy="414.0" r="1.25"/><circle cx="165.8" cy="409.9" r="1.25"/><circle cx="165.9" cy="420.4" r="1.25"/><circle cx="166.8" cy="420.4" r="1.25"/><circle cx="163.4" cy="422.2" r="1.25"/><circle cx="169.1" cy="418.3" r="1.25"/><circle cx="156.0" cy="422.3" r="1.25"/><circle cx="159.3" cy="423.1" r="1.25"/><circle cx="155.4" cy="422.6" r="1.25"/><circle cx="145.1" cy="425.8" r="1.25"/><circle cx="148.4" cy="424.9" r="1.25"/><circle cx="149.4" cy="424.0" r="1.25"/><circle cx="153.6" cy="421.6" r="1.25"/><circle cx="142.2" cy="426.9" r="1.25"/><circle cx="142.9" cy="427.9" r="1.25"/><circle cx="142.1" cy="427.1" r="1.25"/><circle cx="134.5" cy="430.7" r="1.25"/><circle cx="134.6" cy="430.8" r="1.25"/><circle cx="133.6" cy="430.1" r="1.25"/><circle cx="129.9" cy="430.1" r="1.25"/><circle cx="126.4" cy="425.8" r="1.25"/><circle cx="128.0" cy="426.8" r="1.25"/><circle cx="125.7" cy="410.8" r="1.25"/><circle cx="124.9" cy="422.4" r="1.25"/><circle cx="125.9" cy="414.1" r="1.25"/><circle cx="126.0" cy="418.1" r="1.25"/><circle cx="124.9" cy="412.3" r="1.25"/><circle cx="125.8" cy="424.6" r="1.25"/></g>
<g fill="#d2f028"><circle cx="162.3" cy="403.2" r="1.2"/><circle cx="173.0" cy="407.7" r="1.2"/><circle cx="162.4" cy="404.1" r="1.2"/><circle cx="175.3" cy="400.2" r="1.2"/><circle cx="167.2" cy="401.1" r="1.2"/><circle cx="163.6" cy="401.2" r="1.2"/><circle cx="168.5" cy="406.1" r="1.2"/><circle cx="177.9" cy="404.6" r="1.2"/><circle cx="178.2" cy="403.3" r="1.2"/><circle cx="168.5" cy="399.2" r="1.2"/><circle cx="163.4" cy="407.1" r="1.2"/><circle cx="163.1" cy="402.0" r="1.2"/><circle cx="170.5" cy="404.3" r="1.2"/><circle cx="173.2" cy="403.0" r="1.2"/><circle cx="162.7" cy="403.8" r="1.2"/><circle cx="162.3" cy="404.5" r="1.2"/><circle cx="163.0" cy="404.4" r="1.2"/><circle cx="167.4" cy="408.8" r="1.2"/><circle cx="173.7" cy="405.0" r="1.2"/><circle cx="165.6" cy="403.4" r="1.2"/><circle cx="170.5" cy="402.8" r="1.2"/><circle cx="171.2" cy="399.9" r="1.2"/><circle cx="168.6" cy="408.9" r="1.2"/><circle cx="168.2" cy="404.1" r="1.2"/></g>
<g fill="#f0e628"><circle cx="182.5" cy="405.1" r="1.2"/><circle cx="182.4" cy="400.8" r="1.2"/><circle cx="182.1" cy="399.0" r="1.2"/><circle cx="181.2" cy="397.2" r="1.2"/><circle cx="176.9" cy="398.8" r="1.2"/><circle cx="178.5" cy="404.4" r="1.2"/><circle cx="184.5" cy="403.1" r="1.2"/><circle cx="179.5" cy="405.6" r="1.2"/><circle cx="181.5" cy="404.8" r="1.2"/><circle cx="180.2" cy="403.1" r="1.2"/><circle cx="181.9" cy="398.8" r="1.2"/><circle cx="180.7" cy="406.7" r="1.2"/><circle cx="177.5" cy="405.2" r="1.2"/><circle cx="184.6" cy="403.7" r="1.2"/></g>
<g fill="#c8f032"><circle cx="158.9" cy="425.9" r="1.15"/><circle cx="159.4" cy="421.7" r="1.15"/><circle cx="152.3" cy="423.9" r="1.15"/><circle cx="157.5" cy="432.3" r="1.15"/><circle cx="161.1" cy="432.6" r="1.15"/><circle cx="167.1" cy="430.0" r="1.15"/><circle cx="159.1" cy="423.4" r="1.15"/><circle cx="161.2" cy="424.4" r="1.15"/><circle cx="162.5" cy="424.7" r="1.15"/><circle cx="158.6" cy="427.6" r="1.15"/><circle cx="157.4" cy="433.4" r="1.15"/><circle cx="168.2" cy="427.4" r="1.15"/><circle cx="161.1" cy="422.8" r="1.15"/><circle cx="165.2" cy="426.8" r="1.15"/><circle cx="164.7" cy="432.9" r="1.15"/><circle cx="162.2" cy="429.7" r="1.15"/><circle cx="160.9" cy="421.8" r="1.15"/><circle cx="159.3" cy="420.9" r="1.15"/></g>
<polygon points="168.0,414.0 178.0,410.0 186.0,410.0 190.0,415.0 186.0,422.0 182.0,430.0 176.0,436.0 170.0,434.0 168.0,426.0" fill="#3ce6d2" fill-opacity="0.2"/>
<g fill="#3ce6d2"><circle cx="176.4" cy="413.5" r="1.25"/><circle cx="177.6" cy="411.6" r="1.25"/><circle cx="181.4" cy="415.9" r="1.25"/><circle cx="172.8" cy="426.6" r="1.25"/><circle cx="183.7" cy="425.1" r="1.25"/><circle cx="178.7" cy="421.0" r="1.25"/><circle cx="168.2" cy="419.1" r="1.25"/><circle cx="179.5" cy="418.7" r="1.25"/><circle cx="185.5" cy="422.8" r="1.25"/><circle cx="179.0" cy="431.9" r="1.25"/><circle cx="170.6" cy="415.8" r="1.25"/><circle cx="168.3" cy="422.8" r="1.25"/><circle cx="178.9" cy="412.7" r="1.25"/><circle cx="184.6" cy="423.5" r="1.25"/><circle cx="171.7" cy="432.8" r="1.25"/><circle cx="168.9" cy="415.0" r="1.25"/><circle cx="171.1" cy="416.9" r="1.25"/><circle cx="185.4" cy="418.7" r="1.25"/><circle cx="173.2" cy="418.1" r="1.25"/><circle cx="186.7" cy="412.7" r="1.25"/><circle cx="169.1" cy="422.6" r="1.25"/><circle cx="172.8" cy="413.2" r="1.25"/><circle cx="173.3" cy="429.1" r="1.25"/><circle cx="180.7" cy="413.4" r="1.25"/><circle cx="174.3" cy="411.7" r="1.25"/><circle cx="189.5" cy="415.4" r="1.25"/><circle cx="173.6" cy="415.0" r="1.25"/><circle cx="181.8" cy="425.5" r="1.25"/><circle cx="179.4" cy="430.1" r="1.25"/><circle cx="179.7" cy="418.2" r="1.25"/><circle cx="169.1" cy="422.6" r="1.25"/><circle cx="171.1" cy="429.4" r="1.25"/><circle cx="177.5" cy="431.8" r="1.25"/><circle cx="180.8" cy="425.5" r="1.25"/><circle cx="175.4" cy="412.7" r="1.25"/><circle cx="181.4" cy="429.4" r="1.25"/><circle cx="181.1" cy="415.8" r="1.25"/><circle cx="169.7" cy="429.3" r="1.25"/><circle cx="177.9" cy="413.2" r="1.25"/><circle cx="180.3" cy="416.9" r="1.25"/><circle cx="173.8" cy="432.8" r="1.25"/><circle cx="181.6" cy="429.5" r="1.25"/><circle cx="186.0" cy="421.4" r="1.25"/><circle cx="177.9" cy="421.2" r="1.25"/><circle cx="175.9" cy="430.2" r="1.25"/><circle cx="187.5" cy="417.7" r="1.25"/><circle cx="183.6" cy="415.6" r="1.25"/><circle cx="185.1" cy="418.6" r="1.25"/><circle cx="175.1" cy="429.8" r="1.25"/><circle cx="186.6" cy="413.6" r="1.25"/><circle cx="174.0" cy="419.8" r="1.25"/><circle cx="179.6" cy="423.7" r="1.25"/><circle cx="174.5" cy="411.6" r="1.25"/><circle cx="181.9" cy="428.7" r="1.25"/><circle cx="183.3" cy="420.3" r="1.25"/><circle cx="180.2" cy="423.6" r="1.25"/><circle cx="173.0" cy="423.7" r="1.25"/><circle cx="169.5" cy="427.1" r="1.25"/><circle cx="179.2" cy="424.0" r="1.25"/><circle cx="188.1" cy="413.0" r="1.25"/><circle cx="186.1" cy="418.3" r="1.25"/><circle cx="176.6" cy="423.6" r="1.25"/><circle cx="185.2" cy="411.5" r="1.25"/><circle cx="179.9" cy="424.8" r="1.25"/><circle cx="183.8" cy="418.9" r="1.25"/><circle cx="181.3" cy="429.1" r="1.25"/><circle cx="176.4" cy="427.7" r="1.25"/><circle cx="179.6" cy="422.6" r="1.25"/><circle cx="186.4" cy="417.0" r="1.25"/><circle cx="174.3" cy="420.2" r="1.25"/><circle cx="182.4" cy="414.0" r="1.25"/><circle cx="184.1" cy="420.7" r="1.25"/><circle cx="168.6" cy="420.0" r="1.25"/><circle cx="180.6" cy="412.3" r="1.25"/><circle cx="178.1" cy="410.7" r="1.25"/><circle cx="173.4" cy="418.8" r="1.25"/><circle cx="182.3" cy="414.5" r="1.25"/><circle cx="178.7" cy="417.0" r="1.25"/><circle cx="180.4" cy="427.9" r="1.25"/><circle cx="173.6" cy="412.1" r="1.25"/><circle cx="169.1" cy="413.6" r="1.25"/><circle cx="176.3" cy="410.7" r="1.25"/><circle cx="176.1" cy="410.8" r="1.25"/><circle cx="178.6" cy="409.9" r="1.25"/><circle cx="181.6" cy="409.8" r="1.25"/><circle cx="180.1" cy="410.2" r="1.25"/><circle cx="185.9" cy="411.0" r="1.25"/><circle cx="186.8" cy="411.5" r="1.25"/><circle cx="189.2" cy="418.4" r="1.25"/><circle cx="189.0" cy="415.4" r="1.25"/><circle cx="187.9" cy="418.4" r="1.25"/><circle cx="181.8" cy="428.3" r="1.25"/><circle cx="185.2" cy="422.3" r="1.25"/><circle cx="184.1" cy="425.8" r="1.25"/><circle cx="182.9" cy="429.6" r="1.25"/><circle cx="177.6" cy="434.0" r="1.25"/><circle cx="177.3" cy="434.7" r="1.25"/><circle cx="181.6" cy="431.3" r="1.25"/><circle cx="170.7" cy="434.7" r="1.25"/><circle cx="176.2" cy="436.4" r="1.25"/><circle cx="168.6" cy="431.8" r="1.25"/><circle cx="168.2" cy="425.8" r="1.25"/><circle cx="169.8" cy="432.1" r="1.25"/><circle cx="167.6" cy="422.4" r="1.25"/><circle cx="167.9" cy="420.6" r="1.25"/><circle cx="168.8" cy="417.3" r="1.25"/><circle cx="167.8" cy="415.6" r="1.25"/><circle cx="168.8" cy="416.8" r="1.25"/></g>
<g fill="#50e6b4"><circle cx="186.9" cy="417.3" r="1.2"/><circle cx="184.4" cy="412.9" r="1.2"/><circle cx="177.1" cy="414.3" r="1.2"/><circle cx="182.0" cy="416.8" r="1.2"/><circle cx="186.4" cy="415.7" r="1.2"/><circle cx="183.8" cy="409.9" r="1.2"/><circle cx="188.6" cy="416.6" r="1.2"/><circle cx="183.7" cy="414.6" r="1.2"/><circle cx="188.3" cy="413.9" r="1.2"/><circle cx="183.7" cy="413.8" r="1.2"/><circle cx="187.3" cy="416.4" r="1.2"/><circle cx="181.7" cy="416.8" r="1.2"/><circle cx="182.3" cy="415.7" r="1.2"/><circle cx="182.3" cy="418.0" r="1.2"/><circle cx="182.3" cy="412.5" r="1.2"/><circle cx="183.1" cy="415.0" r="1.2"/></g>
<g fill="#0a14c8"><circle cx="206.0" cy="405.8" r="1.70"/><circle cx="207.6" cy="405.4" r="1.70"/><circle cx="208.6" cy="406.2" r="1.70"/><circle cx="208.7" cy="405.3" r="1.70"/><circle cx="210.5" cy="406.9" r="1.70"/><circle cx="210.3" cy="406.7" r="1.70"/><circle cx="211.2" cy="407.0" r="1.70"/><circle cx="212.6" cy="408.5" r="1.70"/><circle cx="212.6" cy="408.4" r="1.70"/><circle cx="214.0" cy="408.2" r="1.70"/><circle cx="214.5" cy="408.9" r="1.70"/><circle cx="216.1" cy="408.8" r="1.70"/><circle cx="217.6" cy="408.8" r="1.70"/><circle cx="217.9" cy="409.5" r="1.70"/><circle cx="218.9" cy="411.1" r="1.70"/><circle cx="219.9" cy="410.6" r="1.70"/><circle cx="220.5" cy="411.3" r="1.70"/><circle cx="220.2" cy="411.8" r="1.70"/><circle cx="222.0" cy="411.8" r="1.70"/><circle cx="223.0" cy="413.7" r="1.70"/><circle cx="222.3" cy="414.7" r="1.70"/><circle cx="222.6" cy="415.2" r="1.70"/><circle cx="222.4" cy="416.4" r="1.70"/><circle cx="223.0" cy="417.1" r="1.70"/><circle cx="222.2" cy="417.2" r="1.70"/><circle cx="222.7" cy="418.7" r="1.70"/><circle cx="222.9" cy="419.9" r="1.70"/><circle cx="224.0" cy="420.8" r="1.70"/><circle cx="222.7" cy="421.9" r="1.70"/><circle cx="223.9" cy="422.6" r="1.70"/><circle cx="224.5" cy="422.1" r="1.70"/><circle cx="223.5" cy="424.1" r="1.70"/><circle cx="223.8" cy="425.4" r="1.70"/><circle cx="223.1" cy="425.5" r="1.70"/><circle cx="223.1" cy="426.2" r="1.70"/><circle cx="221.7" cy="427.6" r="1.70"/><circle cx="221.1" cy="428.1" r="1.70"/><circle cx="222.2" cy="428.9" r="1.70"/><circle cx="220.2" cy="430.1" r="1.70"/><circle cx="219.8" cy="429.5" r="1.70"/><circle cx="218.9" cy="430.9" r="1.70"/><circle cx="216.8" cy="431.1" r="1.70"/><circle cx="217.6" cy="431.5" r="1.70"/><circle cx="215.6" cy="430.5" r="1.70"/><circle cx="214.6" cy="432.5" r="1.70"/><circle cx="214.0" cy="432.0" r="1.70"/><circle cx="212.8" cy="432.0" r="1.70"/><circle cx="211.7" cy="432.4" r="1.70"/><circle cx="210.9" cy="432.1" r="1.70"/><circle cx="209.6" cy="431.6" r="1.70"/><circle cx="208.7" cy="431.4" r="1.70"/><circle cx="207.5" cy="431.7" r="1.70"/><circle cx="207.7" cy="432.2" r="1.70"/><circle cx="206.7" cy="431.1" r="1.70"/><circle cx="206.0" cy="430.8" r="1.70"/><circle cx="204.9" cy="430.4" r="1.70"/><circle cx="205.3" cy="430.2" r="1.70"/><circle cx="204.0" cy="428.4" r="1.70"/><circle cx="203.7" cy="428.4" r="1.70"/></g>
<g fill="#1e8cf0"><circle cx="211.2" cy="415.8" r="1.20"/><circle cx="210.1" cy="418.3" r="1.20"/><circle cx="210.7" cy="418.2" r="1.20"/><circle cx="210.8" cy="421.0" r="1.20"/><circle cx="211.0" cy="421.4" r="1.20"/><circle cx="210.7" cy="422.0" r="1.20"/><circle cx="210.8" cy="424.4" r="1.20"/><circle cx="210.4" cy="425.0" r="1.20"/></g>
<g fill="#1450e6"><circle cx="226.3" cy="394.7" r="1.3"/><circle cx="232.6" cy="419.0" r="1.3"/><circle cx="206.0" cy="410.3" r="1.3"/><circle cx="226.3" cy="394.8" r="1.3"/><circle cx="204.0" cy="422.0" r="1.3"/><circle cx="207.0" cy="426.0" r="1.3"/></g>
<polygon points="197.0,365.7 202.6,366.8 205.9,370.2 209.3,373.6 212.6,378.0 217.1,379.1 219.4,384.7 214.9,388.1 217.1,393.7 212.6,398.2 205.9,400.4 199.2,404.9 192.5,407.1 185.8,404.9 181.3,400.4 183.6,395.9 188.0,391.5 190.3,384.7 193.6,378.0 194.7,371.3" fill="#0a14c8" fill-opacity="0.35"/>
<g fill="#0a14c8"><circle cx="202.4" cy="397.7" r="1.35"/><circle cx="207.4" cy="385.2" r="1.35"/><circle cx="211.5" cy="382.7" r="1.35"/><circle cx="193.5" cy="387.9" r="1.35"/><circle cx="203.7" cy="384.3" r="1.35"/><circle cx="212.5" cy="394.9" r="1.35"/><circle cx="200.5" cy="388.2" r="1.35"/><circle cx="212.2" cy="384.2" r="1.35"/><circle cx="187.4" cy="401.1" r="1.35"/><circle cx="202.5" cy="396.4" r="1.35"/><circle cx="209.5" cy="391.5" r="1.35"/><circle cx="205.5" cy="374.8" r="1.35"/><circle cx="198.6" cy="384.9" r="1.35"/><circle cx="196.6" cy="372.6" r="1.35"/><circle cx="199.0" cy="372.5" r="1.35"/><circle cx="206.1" cy="397.0" r="1.35"/><circle cx="199.7" cy="402.6" r="1.35"/><circle cx="186.9" cy="395.5" r="1.35"/><circle cx="213.6" cy="383.8" r="1.35"/><circle cx="200.8" cy="400.8" r="1.35"/><circle cx="195.8" cy="376.3" r="1.35"/><circle cx="186.7" cy="404.2" r="1.35"/><circle cx="193.1" cy="380.3" r="1.35"/><circle cx="197.8" cy="370.1" r="1.35"/><circle cx="195.2" cy="377.7" r="1.35"/><circle cx="217.4" cy="383.1" r="1.35"/><circle cx="184.2" cy="398.3" r="1.35"/><circle cx="204.0" cy="377.5" r="1.35"/><circle cx="213.1" cy="383.5" r="1.35"/><circle cx="195.6" cy="394.3" r="1.35"/><circle cx="209.0" cy="392.8" r="1.35"/><circle cx="202.0" cy="370.1" r="1.35"/><circle cx="213.6" cy="382.9" r="1.35"/><circle cx="197.6" cy="373.3" r="1.35"/><circle cx="197.6" cy="390.8" r="1.35"/><circle cx="206.6" cy="394.2" r="1.35"/><circle cx="206.0" cy="399.0" r="1.35"/><circle cx="212.2" cy="391.6" r="1.35"/><circle cx="205.7" cy="378.4" r="1.35"/><circle cx="199.8" cy="386.5" r="1.35"/><circle cx="202.1" cy="367.5" r="1.35"/><circle cx="189.7" cy="392.6" r="1.35"/><circle cx="194.5" cy="381.7" r="1.35"/><circle cx="209.8" cy="384.2" r="1.35"/><circle cx="184.3" cy="403.0" r="1.35"/><circle cx="206.4" cy="373.8" r="1.35"/><circle cx="210.0" cy="394.1" r="1.35"/><circle cx="187.6" cy="403.3" r="1.35"/><circle cx="199.3" cy="399.8" r="1.35"/><circle cx="208.1" cy="380.8" r="1.35"/><circle cx="185.1" cy="395.8" r="1.35"/><circle cx="189.4" cy="404.4" r="1.35"/><circle cx="205.8" cy="373.9" r="1.35"/><circle cx="205.2" cy="388.4" r="1.35"/><circle cx="204.8" cy="373.4" r="1.35"/><circle cx="199.5" cy="400.3" r="1.35"/><circle cx="204.9" cy="375.8" r="1.35"/><circle cx="194.0" cy="402.1" r="1.35"/><circle cx="200.9" cy="383.5" r="1.35"/><circle cx="213.4" cy="384.5" r="1.35"/><circle cx="192.4" cy="384.4" r="1.35"/><circle cx="212.9" cy="397.1" r="1.35"/><circle cx="201.2" cy="396.9" r="1.35"/><circle cx="200.6" cy="400.8" r="1.35"/><circle cx="196.8" cy="388.7" r="1.35"/><circle cx="204.0" cy="370.6" r="1.35"/><circle cx="194.1" cy="381.0" r="1.35"/><circle cx="209.4" cy="398.1" r="1.35"/><circle cx="207.8" cy="373.2" r="1.35"/><circle cx="198.9" cy="403.6" r="1.35"/><circle cx="198.9" cy="387.6" r="1.35"/><circle cx="204.1" cy="378.8" r="1.35"/><circle cx="210.1" cy="395.3" r="1.35"/><circle cx="197.1" cy="372.0" r="1.35"/><circle cx="210.4" cy="394.7" r="1.35"/><circle cx="202.8" cy="396.6" r="1.35"/><circle cx="207.6" cy="399.1" r="1.35"/><circle cx="191.4" cy="403.1" r="1.35"/><circle cx="193.2" cy="405.3" r="1.35"/><circle cx="195.4" cy="384.7" r="1.35"/><circle cx="203.7" cy="399.0" r="1.35"/><circle cx="197.2" cy="402.9" r="1.35"/><circle cx="189.6" cy="387.3" r="1.35"/><circle cx="203.0" cy="391.4" r="1.35"/><circle cx="196.4" cy="398.7" r="1.35"/><circle cx="202.1" cy="394.0" r="1.35"/><circle cx="204.0" cy="381.3" r="1.35"/><circle cx="218.1" cy="382.2" r="1.35"/><circle cx="201.2" cy="400.7" r="1.35"/><circle cx="185.1" cy="402.6" r="1.35"/><circle cx="206.8" cy="390.3" r="1.35"/><circle cx="196.8" cy="381.5" r="1.35"/><circle cx="196.8" cy="395.3" r="1.35"/><circle cx="198.2" cy="395.2" r="1.35"/><circle cx="188.7" cy="399.4" r="1.35"/><circle cx="196.7" cy="375.0" r="1.35"/><circle cx="197.2" cy="395.0" r="1.35"/><circle cx="200.5" cy="375.5" r="1.35"/><circle cx="197.7" cy="396.7" r="1.35"/><circle cx="200.5" cy="368.0" r="1.35"/><circle cx="194.6" cy="389.3" r="1.35"/><circle cx="202.6" cy="380.8" r="1.35"/><circle cx="188.3" cy="401.9" r="1.35"/><circle cx="202.1" cy="382.7" r="1.35"/><circle cx="188.9" cy="402.1" r="1.35"/><circle cx="204.1" cy="396.9" r="1.35"/><circle cx="196.1" cy="379.1" r="1.35"/><circle cx="207.6" cy="389.2" r="1.35"/><circle cx="194.4" cy="394.3" r="1.35"/><circle cx="215.9" cy="385.0" r="1.35"/><circle cx="205.7" cy="379.3" r="1.35"/><circle cx="207.7" cy="378.0" r="1.35"/><circle cx="208.9" cy="395.2" r="1.35"/><circle cx="216.1" cy="382.8" r="1.35"/><circle cx="183.8" cy="399.2" r="1.35"/><circle cx="191.1" cy="395.4" r="1.35"/><circle cx="199.9" cy="384.1" r="1.35"/><circle cx="209.8" cy="384.7" r="1.35"/><circle cx="201.6" cy="367.9" r="1.35"/><circle cx="203.4" cy="376.9" r="1.35"/><circle cx="195.8" cy="385.0" r="1.35"/><circle cx="206.7" cy="391.6" r="1.35"/><circle cx="200.0" cy="403.1" r="1.35"/><circle cx="205.1" cy="376.4" r="1.35"/><circle cx="194.8" cy="384.1" r="1.35"/><circle cx="199.6" cy="368.6" r="1.35"/><circle cx="194.9" cy="399.5" r="1.35"/><circle cx="197.8" cy="381.9" r="1.35"/><circle cx="206.0" cy="394.1" r="1.35"/><circle cx="201.5" cy="380.0" r="1.35"/><circle cx="202.4" cy="381.9" r="1.35"/><circle cx="194.4" cy="404.0" r="1.35"/><circle cx="194.1" cy="385.0" r="1.35"/><circle cx="195.2" cy="401.6" r="1.35"/><circle cx="195.3" cy="393.9" r="1.35"/><circle cx="191.6" cy="403.5" r="1.35"/><circle cx="195.3" cy="405.1" r="1.35"/><circle cx="202.9" cy="379.8" r="1.35"/><circle cx="202.9" cy="391.3" r="1.35"/><circle cx="186.6" cy="400.1" r="1.35"/><circle cx="205.7" cy="392.5" r="1.35"/><circle cx="192.9" cy="397.3" r="1.35"/><circle cx="201.4" cy="379.0" r="1.35"/><circle cx="207.8" cy="381.6" r="1.35"/><circle cx="206.9" cy="383.7" r="1.35"/><circle cx="200.4" cy="367.6" r="1.35"/><circle cx="204.0" cy="385.0" r="1.35"/><circle cx="196.5" cy="376.1" r="1.35"/><circle cx="204.5" cy="380.4" r="1.35"/><circle cx="196.9" cy="370.5" r="1.35"/><circle cx="181.8" cy="400.3" r="1.35"/><circle cx="199.1" cy="384.0" r="1.35"/><circle cx="199.3" cy="389.4" r="1.35"/><circle cx="189.8" cy="392.4" r="1.35"/><circle cx="203.6" cy="400.9" r="1.35"/><circle cx="205.4" cy="390.7" r="1.35"/><circle cx="197.5" cy="399.8" r="1.35"/><circle cx="201.6" cy="380.3" r="1.35"/><circle cx="200.2" cy="385.2" r="1.35"/><circle cx="188.4" cy="393.5" r="1.35"/><circle cx="213.1" cy="392.8" r="1.35"/><circle cx="200.6" cy="394.0" r="1.35"/><circle cx="201.7" cy="379.4" r="1.35"/><circle cx="201.3" cy="395.6" r="1.35"/><circle cx="188.3" cy="395.5" r="1.35"/><circle cx="195.7" cy="394.7" r="1.35"/><circle cx="207.9" cy="382.6" r="1.35"/><circle cx="217.4" cy="383.8" r="1.35"/><circle cx="199.1" cy="395.3" r="1.35"/><circle cx="187.1" cy="402.8" r="1.35"/><circle cx="194.0" cy="402.4" r="1.35"/><circle cx="203.8" cy="375.7" r="1.35"/><circle cx="198.1" cy="374.0" r="1.35"/><circle cx="208.9" cy="396.2" r="1.35"/><circle cx="184.4" cy="395.3" r="1.35"/><circle cx="212.5" cy="392.8" r="1.35"/><circle cx="212.8" cy="386.7" r="1.35"/><circle cx="208.1" cy="393.3" r="1.35"/><circle cx="205.4" cy="386.9" r="1.35"/><circle cx="198.6" cy="403.8" r="1.35"/><circle cx="195.6" cy="371.5" r="1.35"/><circle cx="197.9" cy="372.1" r="1.35"/><circle cx="200.1" cy="386.0" r="1.35"/><circle cx="196.1" cy="398.2" r="1.35"/><circle cx="190.8" cy="405.9" r="1.35"/><circle cx="208.9" cy="377.0" r="1.35"/><circle cx="196.9" cy="385.1" r="1.35"/><circle cx="190.7" cy="399.8" r="1.35"/><circle cx="198.1" cy="396.3" r="1.35"/><circle cx="209.9" cy="378.8" r="1.35"/><circle cx="215.4" cy="392.4" r="1.35"/><circle cx="190.0" cy="399.3" r="1.35"/><circle cx="197.2" cy="384.1" r="1.35"/><circle cx="193.0" cy="388.0" r="1.35"/><circle cx="206.0" cy="379.6" r="1.35"/><circle cx="205.3" cy="383.1" r="1.35"/><circle cx="213.0" cy="388.7" r="1.35"/><circle cx="209.0" cy="389.4" r="1.35"/><circle cx="207.9" cy="381.8" r="1.35"/><circle cx="210.6" cy="387.4" r="1.35"/><circle cx="199.6" cy="394.9" r="1.35"/><circle cx="214.4" cy="386.7" r="1.35"/><circle cx="196.8" cy="379.9" r="1.35"/><circle cx="197.8" cy="397.6" r="1.35"/><circle cx="198.9" cy="395.5" r="1.35"/><circle cx="200.9" cy="396.4" r="1.35"/><circle cx="200.1" cy="389.7" r="1.35"/><circle cx="197.3" cy="404.4" r="1.35"/><circle cx="202.6" cy="370.0" r="1.35"/><circle cx="190.5" cy="397.8" r="1.35"/><circle cx="191.0" cy="395.2" r="1.35"/><circle cx="192.0" cy="390.4" r="1.35"/><circle cx="213.3" cy="387.4" r="1.35"/><circle cx="202.4" cy="396.4" r="1.35"/><circle cx="190.1" cy="392.0" r="1.35"/><circle cx="196.7" cy="397.3" r="1.35"/><circle cx="209.0" cy="380.9" r="1.35"/><circle cx="203.8" cy="371.7" r="1.35"/><circle cx="204.5" cy="392.5" r="1.35"/><circle cx="190.3" cy="393.3" r="1.35"/><circle cx="206.8" cy="374.6" r="1.35"/><circle cx="209.2" cy="391.1" r="1.35"/><circle cx="195.7" cy="394.4" r="1.35"/><circle cx="210.3" cy="393.8" r="1.35"/><circle cx="189.6" cy="405.7" r="1.35"/><circle cx="216.0" cy="383.7" r="1.35"/><circle cx="194.4" cy="373.6" r="1.35"/><circle cx="190.6" cy="386.0" r="1.35"/><circle cx="204.6" cy="382.6" r="1.35"/><circle cx="208.4" cy="376.4" r="1.35"/><circle cx="199.5" cy="374.5" r="1.35"/><circle cx="195.3" cy="377.9" r="1.35"/><circle cx="216.9" cy="381.0" r="1.35"/><circle cx="201.9" cy="371.5" r="1.35"/><circle cx="197.0" cy="401.9" r="1.35"/><circle cx="206.1" cy="388.3" r="1.35"/><circle cx="195.4" cy="395.2" r="1.35"/><circle cx="189.7" cy="390.9" r="1.35"/><circle cx="197.2" cy="371.5" r="1.35"/><circle cx="211.8" cy="397.2" r="1.35"/><circle cx="197.9" cy="384.5" r="1.35"/><circle cx="207.8" cy="381.1" r="1.35"/><circle cx="202.7" cy="380.9" r="1.35"/><circle cx="210.3" cy="383.6" r="1.35"/><circle cx="187.1" cy="401.9" r="1.35"/><circle cx="213.0" cy="383.2" r="1.35"/><circle cx="197.9" cy="369.6" r="1.35"/><circle cx="191.3" cy="401.8" r="1.35"/><circle cx="192.2" cy="403.0" r="1.35"/><circle cx="213.1" cy="378.6" r="1.35"/><circle cx="201.6" cy="388.5" r="1.35"/><circle cx="205.4" cy="372.9" r="1.35"/><circle cx="197.3" cy="371.1" r="1.35"/><circle cx="203.0" cy="377.9" r="1.35"/><circle cx="185.3" cy="395.1" r="1.35"/><circle cx="202.6" cy="376.9" r="1.35"/><circle cx="190.7" cy="395.7" r="1.35"/><circle cx="216.2" cy="380.3" r="1.35"/><circle cx="203.6" cy="374.8" r="1.35"/><circle cx="199.0" cy="389.7" r="1.35"/><circle cx="192.9" cy="390.7" r="1.35"/><circle cx="201.9" cy="367.5" r="1.35"/><circle cx="197.5" cy="365.3" r="1.35"/><circle cx="200.2" cy="366.5" r="1.35"/><circle cx="205.7" cy="370.2" r="1.35"/><circle cx="203.6" cy="367.9" r="1.35"/><circle cx="208.4" cy="372.3" r="1.35"/><circle cx="206.8" cy="371.6" r="1.35"/><circle cx="212.1" cy="377.4" r="1.35"/><circle cx="211.7" cy="375.7" r="1.35"/><circle cx="212.6" cy="378.1" r="1.35"/><circle cx="215.7" cy="378.1" r="1.35"/><circle cx="218.3" cy="383.7" r="1.35"/><circle cx="217.8" cy="382.3" r="1.35"/><circle cx="215.5" cy="388.1" r="1.35"/><circle cx="218.6" cy="385.0" r="1.35"/><circle cx="216.6" cy="392.6" r="1.35"/><circle cx="214.6" cy="389.3" r="1.35"/><circle cx="215.4" cy="395.1" r="1.35"/><circle cx="212.8" cy="398.0" r="1.35"/><circle cx="208.5" cy="400.1" r="1.35"/><circle cx="210.6" cy="398.3" r="1.35"/><circle cx="208.2" cy="399.5" r="1.35"/><circle cx="205.3" cy="400.7" r="1.35"/><circle cx="202.5" cy="402.1" r="1.35"/><circle cx="206.1" cy="401.2" r="1.35"/><circle cx="198.2" cy="405.0" r="1.35"/><circle cx="193.3" cy="407.5" r="1.35"/><circle cx="199.2" cy="404.4" r="1.35"/><circle cx="189.2" cy="406.1" r="1.35"/><circle cx="186.1" cy="405.8" r="1.35"/><circle cx="186.1" cy="405.5" r="1.35"/><circle cx="181.2" cy="400.6" r="1.35"/><circle cx="182.5" cy="402.1" r="1.35"/><circle cx="182.2" cy="397.9" r="1.35"/><circle cx="182.5" cy="398.8" r="1.35"/><circle cx="188.0" cy="392.1" r="1.35"/><circle cx="184.1" cy="394.0" r="1.35"/><circle cx="190.6" cy="386.6" r="1.35"/><circle cx="189.3" cy="389.5" r="1.35"/><circle cx="189.5" cy="389.5" r="1.35"/><circle cx="192.2" cy="379.5" r="1.35"/><circle cx="190.5" cy="383.0" r="1.35"/><circle cx="191.9" cy="380.4" r="1.35"/><circle cx="194.4" cy="371.3" r="1.35"/><circle cx="193.7" cy="377.2" r="1.35"/><circle cx="193.5" cy="374.2" r="1.35"/><circle cx="196.2" cy="367.4" r="1.35"/><circle cx="197.4" cy="367.1" r="1.35"/></g>
<g fill="#0a14c8"><circle cx="200.7" cy="404.7" r="1.50"/><circle cx="200.5" cy="405.4" r="1.50"/><circle cx="201.1" cy="404.8" r="1.50"/><circle cx="203.8" cy="404.6" r="1.50"/><circle cx="203.5" cy="405.6" r="1.50"/><circle cx="204.9" cy="405.1" r="1.50"/><circle cx="205.9" cy="404.9" r="1.50"/></g>
<g fill="#0a14c8"><circle cx="215.0" cy="388.6" r="1.50"/><circle cx="217.1" cy="389.2" r="1.50"/><circle cx="217.0" cy="389.9" r="1.50"/><circle cx="218.1" cy="390.1" r="1.50"/><circle cx="218.4" cy="390.5" r="1.50"/><circle cx="219.3" cy="390.8" r="1.50"/><circle cx="219.8" cy="391.9" r="1.50"/><circle cx="221.9" cy="393.0" r="1.50"/><circle cx="221.7" cy="393.9" r="1.50"/><circle cx="222.8" cy="394.8" r="1.50"/><circle cx="222.8" cy="394.9" r="1.50"/><circle cx="224.0" cy="396.0" r="1.50"/></g>
<g fill="#0a14c8"><circle cx="189.9" cy="383.8" r="1.50"/><circle cx="189.5" cy="383.0" r="1.50"/><circle cx="188.5" cy="383.0" r="1.50"/><circle cx="188.5" cy="382.5" r="1.50"/><circle cx="187.5" cy="381.1" r="1.50"/><circle cx="186.2" cy="379.9" r="1.50"/><circle cx="186.9" cy="379.3" r="1.50"/><circle cx="187.7" cy="378.0" r="1.50"/><circle cx="187.7" cy="377.9" r="1.50"/><circle cx="188.4" cy="376.8" r="1.50"/></g>
<g fill="#0a28e0"><circle cx="151.4" cy="386.1" r="1.70"/><circle cx="150.5" cy="386.1" r="1.70"/><circle cx="152.4" cy="388.9" r="1.70"/><circle cx="152.6" cy="389.8" r="1.70"/><circle cx="154.5" cy="389.5" r="1.70"/><circle cx="154.9" cy="391.3" r="1.70"/><circle cx="156.7" cy="392.0" r="1.70"/></g>
<g fill="#1432e6"><circle cx="125.2" cy="379.0" r="1.60"/><circle cx="126.2" cy="378.6" r="1.60"/><circle cx="129.0" cy="379.6" r="1.60"/><circle cx="129.5" cy="379.9" r="1.60"/><circle cx="131.7" cy="380.5" r="1.60"/><circle cx="132.5" cy="381.3" r="1.60"/><circle cx="133.4" cy="382.3" r="1.60"/><circle cx="133.7" cy="383.5" r="1.60"/><circle cx="135.4" cy="384.7" r="1.60"/><circle cx="134.7" cy="385.2" r="1.60"/><circle cx="135.9" cy="386.1" r="1.60"/><circle cx="137.0" cy="387.0" r="1.60"/><circle cx="138.1" cy="388.6" r="1.60"/><circle cx="137.5" cy="390.3" r="1.60"/><circle cx="139.1" cy="392.6" r="1.60"/><circle cx="139.0" cy="393.3" r="1.60"/><circle cx="140.9" cy="396.1" r="1.60"/><circle cx="139.4" cy="396.7" r="1.60"/><circle cx="139.6" cy="398.6" r="1.60"/></g>
<g fill="#1432e6"><circle cx="135.1" cy="385.3" r="1.60"/><circle cx="133.5" cy="386.5" r="1.60"/><circle cx="132.2" cy="388.2" r="1.60"/><circle cx="130.7" cy="387.7" r="1.60"/><circle cx="130.5" cy="388.8" r="1.60"/><circle cx="129.2" cy="390.1" r="1.60"/><circle cx="129.2" cy="390.9" r="1.60"/><circle cx="126.4" cy="392.1" r="1.60"/><circle cx="126.8" cy="394.2" r="1.60"/><circle cx="126.2" cy="393.9" r="1.60"/><circle cx="125.6" cy="395.4" r="1.60"/><circle cx="124.2" cy="397.8" r="1.60"/><circle cx="124.5" cy="398.6" r="1.60"/></g>
<g fill="#0a1ed2"><circle cx="141.9" cy="392.6" r="1.60"/><circle cx="142.9" cy="392.1" r="1.60"/><circle cx="145.0" cy="391.9" r="1.60"/><circle cx="145.6" cy="390.1" r="1.60"/><circle cx="146.3" cy="390.2" r="1.60"/><circle cx="149.0" cy="388.6" r="1.60"/><circle cx="149.4" cy="388.0" r="1.60"/><circle cx="151.4" cy="387.2" r="1.60"/><circle cx="151.9" cy="386.7" r="1.60"/><circle cx="153.3" cy="386.4" r="1.60"/><circle cx="156.1" cy="388.3" r="1.60"/><circle cx="157.8" cy="389.0" r="1.60"/><circle cx="158.6" cy="389.0" r="1.60"/></g>
<g fill="#0a28e0"><circle cx="139.9" cy="396.6" r="1.3"/><circle cx="139.1" cy="394.8" r="1.3"/><circle cx="137.7" cy="396.1" r="1.3"/><circle cx="138.3" cy="398.0" r="1.3"/><circle cx="137.7" cy="395.4" r="1.3"/><circle cx="140.9" cy="398.7" r="1.3"/><circle cx="137.5" cy="396.9" r="1.3"/><circle cx="140.7" cy="398.8" r="1.3"/></g>
<g fill="#8ce664"><circle cx="138.5" cy="386.3" r="1.4"/><circle cx="140.7" cy="389.6" r="1.4"/><circle cx="145.2" cy="388.5" r="1.4"/></g>
<g fill="#f08214"><circle cx="131.8" cy="398.6" r="1.4"/><circle cx="135.1" cy="400.8" r="1.4"/><circle cx="144.1" cy="401.9" r="1.4"/></g>
<g fill="#50e6b4"><circle cx="145.4" cy="375.8" r="1.30"/><circle cx="146.6" cy="376.6" r="1.30"/><circle cx="148.6" cy="377.0" r="1.30"/></g>
<g fill="#c81414"><circle cx="137.9" cy="379.8" r="1.20"/><circle cx="139.1" cy="378.7" r="1.20"/><circle cx="141.1" cy="378.3" r="1.20"/><circle cx="142.6" cy="377.9" r="1.20"/><circle cx="143.0" cy="377.3" r="1.20"/></g>
<g fill="#0a28e0"><circle cx="200.3" cy="300.2" r="1.70"/><circle cx="200.6" cy="302.3" r="1.70"/><circle cx="200.9" cy="302.6" r="1.70"/><circle cx="202.8" cy="302.6" r="1.70"/><circle cx="203.3" cy="304.4" r="1.70"/><circle cx="204.6" cy="305.1" r="1.70"/><circle cx="206.3" cy="305.4" r="1.70"/><circle cx="206.2" cy="307.9" r="1.70"/><circle cx="206.2" cy="308.5" r="1.70"/><circle cx="206.0" cy="309.2" r="1.70"/><circle cx="207.3" cy="311.9" r="1.70"/><circle cx="206.7" cy="312.2" r="1.70"/><circle cx="206.8" cy="314.5" r="1.70"/><circle cx="206.1" cy="314.7" r="1.70"/><circle cx="206.6" cy="315.8" r="1.70"/><circle cx="205.1" cy="317.6" r="1.70"/><circle cx="205.9" cy="319.6" r="1.70"/><circle cx="207.6" cy="320.4" r="1.70"/><circle cx="208.4" cy="321.1" r="1.70"/><circle cx="209.7" cy="322.3" r="1.70"/><circle cx="211.1" cy="322.7" r="1.70"/><circle cx="211.6" cy="322.4" r="1.70"/><circle cx="213.8" cy="323.5" r="1.70"/><circle cx="214.7" cy="322.6" r="1.70"/><circle cx="216.4" cy="323.7" r="1.70"/><circle cx="216.6" cy="323.8" r="1.70"/><circle cx="218.1" cy="324.3" r="1.70"/><circle cx="219.3" cy="326.4" r="1.70"/><circle cx="220.3" cy="327.2" r="1.70"/><circle cx="221.8" cy="327.1" r="1.70"/><circle cx="222.0" cy="327.8" r="1.70"/><circle cx="222.9" cy="329.1" r="1.70"/><circle cx="223.8" cy="329.8" r="1.70"/><circle cx="224.1" cy="331.6" r="1.70"/><circle cx="222.8" cy="332.3" r="1.70"/><circle cx="224.2" cy="333.7" r="1.70"/><circle cx="224.3" cy="335.7" r="1.70"/><circle cx="224.0" cy="336.6" r="1.70"/><circle cx="224.3" cy="338.1" r="1.70"/><circle cx="224.2" cy="338.8" r="1.70"/><circle cx="224.0" cy="340.3" r="1.70"/><circle cx="224.9" cy="342.3" r="1.70"/><circle cx="225.1" cy="343.5" r="1.70"/><circle cx="224.9" cy="344.4" r="1.70"/><circle cx="226.1" cy="346.1" r="1.70"/><circle cx="225.8" cy="347.1" r="1.70"/><circle cx="227.3" cy="348.8" r="1.70"/><circle cx="227.0" cy="349.7" r="1.70"/><circle cx="227.6" cy="352.7" r="1.70"/><circle cx="228.7" cy="352.9" r="1.70"/><circle cx="228.8" cy="353.3" r="1.70"/><circle cx="228.3" cy="356.2" r="1.70"/><circle cx="228.3" cy="357.3" r="1.70"/><circle cx="228.5" cy="359.4" r="1.70"/><circle cx="227.7" cy="360.7" r="1.70"/><circle cx="227.7" cy="361.0" r="1.70"/><circle cx="226.4" cy="361.9" r="1.70"/><circle cx="226.3" cy="363.2" r="1.70"/><circle cx="224.9" cy="365.1" r="1.70"/><circle cx="224.3" cy="366.4" r="1.70"/><circle cx="221.9" cy="367.4" r="1.70"/><circle cx="220.6" cy="367.4" r="1.70"/><circle cx="220.6" cy="369.4" r="1.70"/><circle cx="220.2" cy="370.4" r="1.70"/><circle cx="219.6" cy="369.3" r="1.70"/><circle cx="216.7" cy="371.1" r="1.70"/><circle cx="215.8" cy="371.9" r="1.70"/><circle cx="214.7" cy="372.1" r="1.70"/><circle cx="214.2" cy="372.5" r="1.70"/><circle cx="214.1" cy="373.5" r="1.70"/><circle cx="212.2" cy="375.4" r="1.70"/><circle cx="210.9" cy="376.1" r="1.70"/><circle cx="209.8" cy="376.1" r="1.70"/><circle cx="208.7" cy="376.7" r="1.70"/><circle cx="207.8" cy="377.8" r="1.70"/><circle cx="207.1" cy="378.7" r="1.70"/><circle cx="207.0" cy="379.8" r="1.70"/><circle cx="205.5" cy="381.2" r="1.70"/><circle cx="205.4" cy="380.8" r="1.70"/><circle cx="203.3" cy="383.1" r="1.70"/><circle cx="203.2" cy="383.1" r="1.70"/><circle cx="202.6" cy="385.3" r="1.70"/><circle cx="201.0" cy="385.9" r="1.70"/><circle cx="200.1" cy="386.4" r="1.70"/><circle cx="198.4" cy="388.2" r="1.70"/><circle cx="198.8" cy="387.9" r="1.70"/><circle cx="197.5" cy="389.1" r="1.70"/><circle cx="197.0" cy="390.0" r="1.70"/></g>
<g fill="#0a28e0"><circle cx="223.2" cy="327.8" r="1.20"/><circle cx="224.0" cy="326.3" r="1.20"/><circle cx="224.4" cy="325.7" r="1.20"/><circle cx="225.8" cy="324.2" r="1.20"/><circle cx="226.3" cy="322.2" r="1.20"/><circle cx="227.5" cy="321.9" r="1.20"/><circle cx="228.0" cy="320.8" r="1.20"/></g>
<g fill="#0a28e0"><circle cx="208.6" cy="331.8" r="1.30"/><circle cx="209.3" cy="332.2" r="1.30"/><circle cx="210.2" cy="333.4" r="1.30"/><circle cx="211.1" cy="334.2" r="1.30"/><circle cx="213.0" cy="334.7" r="1.30"/><circle cx="214.0" cy="334.9" r="1.30"/><circle cx="214.1" cy="336.3" r="1.30"/><circle cx="215.7" cy="336.8" r="1.30"/><circle cx="216.5" cy="338.2" r="1.30"/><circle cx="216.9" cy="339.2" r="1.30"/><circle cx="218.0" cy="339.4" r="1.30"/><circle cx="218.6" cy="341.4" r="1.30"/><circle cx="219.4" cy="341.5" r="1.30"/><circle cx="221.2" cy="342.6" r="1.30"/><circle cx="221.3" cy="343.2" r="1.30"/></g>
<g fill="#1e8cf0"><circle cx="228.9" cy="350.2" r="1.50"/><circle cx="229.5" cy="351.0" r="1.50"/><circle cx="230.6" cy="352.2" r="1.50"/><circle cx="231.1" cy="353.1" r="1.50"/><circle cx="231.7" cy="354.7" r="1.50"/><circle cx="232.1" cy="355.4" r="1.50"/><circle cx="234.2" cy="356.9" r="1.50"/><circle cx="234.0" cy="358.0" r="1.50"/></g>
<g fill="#0a14c8"><circle cx="208.0" cy="333.0" r="1.20"/><circle cx="209.1" cy="334.4" r="1.20"/><circle cx="210.4" cy="335.4" r="1.20"/><circle cx="210.9" cy="336.0" r="1.20"/><circle cx="212.7" cy="335.7" r="1.20"/><circle cx="213.6" cy="337.4" r="1.20"/><circle cx="214.1" cy="338.2" r="1.20"/><circle cx="215.9" cy="339.1" r="1.20"/><circle cx="216.1" cy="339.7" r="1.20"/></g>
<g fill="#0a28e0"><circle cx="198.4" cy="301.8" r="1.3"/></g>
<g fill="#be1414"><circle cx="211.6" cy="306.7" r="1.30"/><circle cx="213.6" cy="306.5" r="1.30"/><circle cx="214.8" cy="306.7" r="1.30"/><circle cx="216.1" cy="307.3" r="1.30"/><circle cx="216.7" cy="307.7" r="1.30"/><circle cx="218.4" cy="307.3" r="1.30"/><circle cx="220.3" cy="307.7" r="1.30"/><circle cx="222.1" cy="307.3" r="1.30"/><circle cx="223.3" cy="307.5" r="1.30"/><circle cx="223.4" cy="308.3" r="1.30"/><circle cx="225.0" cy="308.7" r="1.30"/><circle cx="226.3" cy="309.5" r="1.30"/><circle cx="227.0" cy="310.0" r="1.30"/><circle cx="228.0" cy="310.7" r="1.30"/><circle cx="229.1" cy="311.4" r="1.30"/><circle cx="230.7" cy="312.0" r="1.30"/><circle cx="230.6" cy="313.0" r="1.30"/><circle cx="231.4" cy="313.7" r="1.30"/><circle cx="231.6" cy="315.8" r="1.30"/><circle cx="232.7" cy="316.8" r="1.30"/><circle cx="233.1" cy="318.1" r="1.30"/><circle cx="233.6" cy="319.7" r="1.30"/><circle cx="233.6" cy="320.9" r="1.30"/></g>
<g fill="#e61414"><circle cx="219.1" cy="301.8" r="1.35"/><circle cx="231.4" cy="304.7" r="1.35"/><circle cx="237.0" cy="306.3" r="1.35"/><circle cx="241.5" cy="313.0" r="1.35"/><circle cx="234.7" cy="314.1" r="1.35"/><circle cx="232.5" cy="319.7" r="1.35"/><circle cx="228.0" cy="309.0" r="1.35"/><circle cx="230.9" cy="303.4" r="1.35"/><circle cx="232.2" cy="306.1" r="1.35"/><circle cx="236.0" cy="316.0" r="1.35"/><circle cx="240.3" cy="306.1" r="1.35"/><circle cx="241.6" cy="314.2" r="1.35"/><circle cx="227.0" cy="313.0" r="1.35"/><circle cx="210.7" cy="306.1" r="1.35"/><circle cx="213.0" cy="304.5" r="1.35"/></g>
<g fill="#f03c14"><circle cx="234.6" cy="325.9" r="1.20"/><circle cx="235.5" cy="327.1" r="1.20"/><circle cx="236.4" cy="328.4" r="1.20"/><circle cx="237.6" cy="330.2" r="1.20"/><circle cx="237.8" cy="331.9" r="1.20"/><circle cx="238.4" cy="333.8" r="1.20"/><circle cx="238.1" cy="334.2" r="1.20"/></g>
<g fill="#f07814"><circle cx="226.9" cy="318.6" r="1.35"/><circle cx="252.6" cy="320.8" r="1.35"/><circle cx="250.4" cy="329.7" r="1.35"/><circle cx="245.9" cy="336.5" r="1.35"/><circle cx="238.9" cy="319.5" r="1.35"/><circle cx="251.0" cy="330.3" r="1.35"/><circle cx="253.0" cy="320.9" r="1.35"/><circle cx="245.6" cy="337.0" r="1.35"/></g>
<g fill="#f0dc28"><circle cx="244.8" cy="340.9" r="1.3"/><circle cx="232.2" cy="329.6" r="1.3"/><circle cx="240.3" cy="330.3" r="1.3"/><circle cx="245.6" cy="342.3" r="1.3"/></g>
<g fill="#e61414"><circle cx="236.2" cy="327.6" r="1.3"/><circle cx="209.4" cy="326.2" r="1.3"/><circle cx="209.1" cy="325.3" r="1.3"/></g>
<g fill="#a81414"><circle cx="236.2" cy="344.0" r="1.4"/><circle cx="238.9" cy="347.0" r="1.4"/></g>
<g fill="#f08c14"><circle cx="235.2" cy="344.6" r="1.40"/><circle cx="234.7" cy="346.1" r="1.40"/><circle cx="233.4" cy="346.2" r="1.40"/><circle cx="233.0" cy="347.0" r="1.40"/></g>
<g fill="#a0f050"><circle cx="232.1" cy="347.4" r="1.40"/><circle cx="231.4" cy="348.3" r="1.40"/><circle cx="230.4" cy="349.0" r="1.40"/><circle cx="229.6" cy="351.3" r="1.40"/><circle cx="229.0" cy="352.3" r="1.40"/><circle cx="228.2" cy="352.6" r="1.40"/><circle cx="227.9" cy="354.2" r="1.40"/><circle cx="227.0" cy="355.0" r="1.40"/></g>
<g fill="#e61414"><circle cx="225.5" cy="358.0" r="1.40"/><circle cx="225.2" cy="358.6" r="1.40"/><circle cx="224.1" cy="359.8" r="1.40"/><circle cx="224.2" cy="360.1" r="1.40"/><circle cx="222.9" cy="360.5" r="1.40"/><circle cx="221.4" cy="361.9" r="1.40"/><circle cx="220.9" cy="362.2" r="1.40"/><circle cx="220.9" cy="363.5" r="1.40"/><circle cx="220.2" cy="364.7" r="1.40"/><circle cx="219.2" cy="365.0" r="1.40"/><circle cx="218.6" cy="366.3" r="1.40"/><circle cx="218.6" cy="366.6" r="1.40"/><circle cx="217.8" cy="367.0" r="1.40"/><circle cx="216.9" cy="368.6" r="1.40"/><circle cx="216.6" cy="369.0" r="1.40"/><circle cx="215.1" cy="370.2" r="1.40"/><circle cx="215.2" cy="371.0" r="1.40"/><circle cx="214.3" cy="371.6" r="1.40"/><circle cx="213.8" cy="372.6" r="1.40"/><circle cx="212.3" cy="373.0" r="1.40"/><circle cx="212.9" cy="373.3" r="1.40"/><circle cx="211.3" cy="374.6" r="1.40"/><circle cx="210.6" cy="375.8" r="1.40"/><circle cx="211.0" cy="375.6" r="1.40"/><circle cx="209.6" cy="377.7" r="1.40"/><circle cx="209.6" cy="377.2" r="1.40"/><circle cx="208.8" cy="379.4" r="1.40"/><circle cx="207.5" cy="379.9" r="1.40"/><circle cx="207.2" cy="380.7" r="1.40"/><circle cx="206.7" cy="380.7" r="1.40"/><circle cx="205.7" cy="381.7" r="1.40"/><circle cx="205.5" cy="382.8" r="1.40"/><circle cx="205.8" cy="383.2" r="1.40"/><circle cx="204.7" cy="384.7" r="1.40"/><circle cx="203.4" cy="385.6" r="1.40"/><circle cx="203.2" cy="385.9" r="1.40"/><circle cx="202.5" cy="387.2" r="1.40"/><circle cx="201.9" cy="387.6" r="1.40"/><circle cx="202.0" cy="388.6" r="1.40"/><circle cx="200.4" cy="389.7" r="1.40"/><circle cx="200.4" cy="389.9" r="1.40"/><circle cx="199.6" cy="390.6" r="1.40"/><circle cx="199.0" cy="391.6" r="1.40"/><circle cx="198.2" cy="392.9" r="1.40"/><circle cx="197.4" cy="393.5" r="1.40"/><circle cx="196.7" cy="393.5" r="1.40"/><circle cx="195.7" cy="395.5" r="1.40"/><circle cx="195.8" cy="396.4" r="1.40"/><circle cx="194.2" cy="396.9" r="1.40"/><circle cx="193.8" cy="398.3" r="1.40"/><circle cx="193.6" cy="398.2" r="1.40"/></g>
<defs><linearGradient id="gD1" gradientUnits="userSpaceOnUse" x1="204" y1="0" x2="252" y2="0"><stop offset="0" stop-color="#28e0e6"/><stop offset="0.6" stop-color="#50e6b4"/><stop offset="1" stop-color="#c8f050"/></linearGradient></defs>
<g fill="url(#gD1)"><circle cx="204.4" cy="386.6" r="1.40"/><circle cx="205.5" cy="386.1" r="1.40"/><circle cx="207.3" cy="385.1" r="1.40"/><circle cx="207.4" cy="385.4" r="1.40"/><circle cx="209.5" cy="384.7" r="1.40"/><circle cx="210.2" cy="383.5" r="1.40"/><circle cx="211.8" cy="384.0" r="1.40"/><circle cx="213.1" cy="384.4" r="1.40"/><circle cx="214.3" cy="384.9" r="1.40"/><circle cx="215.3" cy="384.4" r="1.40"/><circle cx="217.6" cy="384.9" r="1.40"/><circle cx="218.7" cy="384.1" r="1.40"/><circle cx="219.7" cy="383.0" r="1.40"/><circle cx="220.0" cy="382.0" r="1.40"/><circle cx="221.3" cy="381.5" r="1.40"/><circle cx="223.2" cy="380.4" r="1.40"/><circle cx="224.6" cy="379.4" r="1.40"/><circle cx="225.0" cy="378.8" r="1.40"/><circle cx="226.0" cy="378.2" r="1.40"/><circle cx="227.8" cy="378.6" r="1.40"/><circle cx="228.9" cy="376.7" r="1.40"/><circle cx="230.5" cy="376.4" r="1.40"/><circle cx="231.8" cy="375.8" r="1.40"/><circle cx="232.2" cy="375.8" r="1.40"/><circle cx="234.0" cy="374.5" r="1.40"/><circle cx="235.2" cy="374.5" r="1.40"/><circle cx="236.5" cy="373.6" r="1.40"/><circle cx="238.3" cy="373.1" r="1.40"/><circle cx="239.7" cy="373.1" r="1.40"/><circle cx="241.0" cy="372.9" r="1.40"/><circle cx="242.0" cy="372.0" r="1.40"/><circle cx="243.5" cy="372.0" r="1.40"/><circle cx="244.5" cy="371.9" r="1.40"/><circle cx="245.2" cy="370.9" r="1.40"/><circle cx="246.4" cy="371.5" r="1.40"/><circle cx="248.8" cy="370.3" r="1.40"/><circle cx="249.5" cy="370.3" r="1.40"/><circle cx="251.0" cy="369.6" r="1.40"/><circle cx="252.1" cy="369.0" r="1.40"/></g>
<defs><linearGradient id="gD2" gradientUnits="userSpaceOnUse" x1="200" y1="0" x2="213" y2="0"><stop offset="0" stop-color="#28e0e6"/><stop offset="1" stop-color="#64e6a0"/></linearGradient></defs>
<g fill="url(#gD2)"><circle cx="202.4" cy="339.4" r="1.20"/><circle cx="203.2" cy="338.9" r="1.20"/><circle cx="204.0" cy="338.2" r="1.20"/><circle cx="205.7" cy="337.6" r="1.20"/><circle cx="206.8" cy="336.5" r="1.20"/><circle cx="208.8" cy="336.4" r="1.20"/><circle cx="209.4" cy="335.6" r="1.20"/><circle cx="211.6" cy="334.9" r="1.20"/><circle cx="212.0" cy="334.5" r="1.20"/></g>
<g fill="#28d2e6"><circle cx="211.7" cy="388.1" r="1.00"/><circle cx="212.9" cy="387.8" r="1.00"/><circle cx="214.5" cy="387.9" r="1.00"/><circle cx="216.3" cy="386.8" r="1.00"/><circle cx="216.2" cy="386.6" r="1.00"/><circle cx="218.2" cy="386.4" r="1.00"/><circle cx="218.7" cy="386.2" r="1.00"/><circle cx="220.5" cy="385.0" r="1.00"/><circle cx="221.1" cy="384.8" r="1.00"/><circle cx="222.8" cy="384.4" r="1.00"/><circle cx="223.5" cy="383.7" r="1.00"/><circle cx="225.2" cy="382.9" r="1.00"/><circle cx="226.0" cy="382.8" r="1.00"/><circle cx="228.2" cy="382.0" r="1.00"/><circle cx="228.8" cy="381.8" r="1.00"/><circle cx="230.0" cy="381.0" r="1.00"/></g>
<g fill="#78e664"><circle cx="239.6" cy="364.3" r="1.4"/><circle cx="240.3" cy="364.4" r="1.4"/></g>
<g fill="#b4f050"><circle cx="265.0" cy="367.3" r="1.4"/><circle cx="264.6" cy="367.4" r="1.4"/></g>
<g fill="#28d2e6"><circle cx="238.0" cy="368.2" r="1.35"/><circle cx="238.1" cy="370.0" r="1.35"/><circle cx="243.7" cy="372.2" r="1.35"/><circle cx="196.7" cy="345.4" r="1.35"/><circle cx="192.3" cy="344.0" r="1.35"/><circle cx="197.0" cy="350.0" r="1.35"/><circle cx="191.7" cy="345.4" r="1.35"/><circle cx="194.0" cy="343.2" r="1.35"/></g>
<g fill="#1450e6"><circle cx="227.0" cy="371.3" r="1.4"/><circle cx="226.3" cy="394.8" r="1.4"/></g>
<g fill="#f0e628"><circle cx="245.8" cy="342.3" r="1.4"/></g>
<g fill="#f05a14"><circle cx="105.4" cy="320.5" r="1.60"/><circle cx="107.4" cy="320.4" r="1.60"/><circle cx="107.7" cy="320.3" r="1.60"/><circle cx="108.8" cy="319.6" r="1.60"/><circle cx="110.6" cy="318.9" r="1.60"/><circle cx="111.2" cy="318.6" r="1.60"/><circle cx="113.1" cy="317.2" r="1.60"/><circle cx="114.2" cy="317.0" r="1.60"/><circle cx="115.2" cy="316.5" r="1.60"/><circle cx="116.9" cy="316.4" r="1.60"/><circle cx="117.0" cy="316.0" r="1.60"/><circle cx="119.9" cy="314.6" r="1.60"/><circle cx="121.2" cy="314.0" r="1.60"/><circle cx="121.1" cy="314.2" r="1.60"/><circle cx="123.1" cy="314.4" r="1.60"/><circle cx="124.1" cy="314.5" r="1.60"/><circle cx="125.7" cy="314.5" r="1.60"/></g>
<g fill="#f06414"><circle cx="125.7" cy="315.2" r="1.50"/><circle cx="126.8" cy="317.0" r="1.50"/><circle cx="125.6" cy="317.0" r="1.50"/><circle cx="127.2" cy="318.9" r="1.50"/><circle cx="127.2" cy="320.3" r="1.50"/><circle cx="126.4" cy="322.1" r="1.50"/><circle cx="127.5" cy="324.2" r="1.50"/><circle cx="127.9" cy="324.3" r="1.50"/><circle cx="127.3" cy="326.8" r="1.50"/><circle cx="127.0" cy="327.6" r="1.50"/><circle cx="127.0" cy="328.0" r="1.50"/><circle cx="127.8" cy="329.5" r="1.50"/><circle cx="128.7" cy="331.5" r="1.50"/><circle cx="129.1" cy="334.2" r="1.50"/><circle cx="129.4" cy="333.8" r="1.50"/><circle cx="130.5" cy="335.7" r="1.50"/><circle cx="130.2" cy="337.1" r="1.50"/><circle cx="131.3" cy="338.0" r="1.50"/></g>
<g fill="#f05a14"><circle cx="108.2" cy="324.4" r="1.40"/><circle cx="108.9" cy="323.8" r="1.40"/><circle cx="111.1" cy="325.0" r="1.40"/><circle cx="110.6" cy="325.7" r="1.40"/><circle cx="112.6" cy="326.7" r="1.40"/><circle cx="114.1" cy="327.9" r="1.40"/><circle cx="115.1" cy="328.1" r="1.40"/><circle cx="115.9" cy="329.6" r="1.40"/><circle cx="118.0" cy="330.6" r="1.40"/><circle cx="119.9" cy="330.7" r="1.40"/><circle cx="121.3" cy="331.3" r="1.40"/></g>
<g fill="#f05a14"><circle cx="107.1" cy="329.8" r="1.30"/><circle cx="107.7" cy="330.8" r="1.30"/><circle cx="108.8" cy="332.3" r="1.30"/><circle cx="110.2" cy="333.3" r="1.30"/><circle cx="112.2" cy="334.0" r="1.30"/><circle cx="113.0" cy="334.0" r="1.30"/></g>
<g fill="#e61414"><circle cx="111.2" cy="324.6" r="1.45"/><circle cx="122.4" cy="322.4" r="1.45"/><circle cx="124.6" cy="329.1" r="1.45"/><circle cx="127.9" cy="333.6" r="1.45"/><circle cx="114.0" cy="326.0" r="1.45"/><circle cx="108.5" cy="322.5" r="1.45"/><circle cx="120.0" cy="320.0" r="1.45"/></g>
<g fill="#f59a14"><circle cx="120.8" cy="330.9" r="1.50"/><circle cx="120.9" cy="332.7" r="1.50"/><circle cx="120.5" cy="334.5" r="1.50"/><circle cx="121.4" cy="335.9" r="1.50"/><circle cx="120.3" cy="337.1" r="1.50"/><circle cx="120.8" cy="338.4" r="1.50"/><circle cx="120.3" cy="339.8" r="1.50"/><circle cx="121.0" cy="341.0" r="1.50"/><circle cx="119.5" cy="340.7" r="1.50"/><circle cx="120.5" cy="343.7" r="1.50"/><circle cx="120.6" cy="345.0" r="1.50"/><circle cx="120.8" cy="344.6" r="1.50"/><circle cx="122.9" cy="346.3" r="1.50"/><circle cx="123.3" cy="347.6" r="1.50"/><circle cx="124.2" cy="346.9" r="1.50"/><circle cx="126.2" cy="347.7" r="1.50"/><circle cx="126.6" cy="347.8" r="1.50"/><circle cx="128.6" cy="348.5" r="1.50"/><circle cx="129.4" cy="348.9" r="1.50"/><circle cx="130.2" cy="349.5" r="1.50"/><circle cx="131.8" cy="351.3" r="1.50"/><circle cx="132.1" cy="351.3" r="1.50"/><circle cx="132.5" cy="352.4" r="1.50"/><circle cx="133.9" cy="353.5" r="1.50"/><circle cx="133.5" cy="353.4" r="1.50"/><circle cx="135.7" cy="355.0" r="1.50"/><circle cx="136.0" cy="356.1" r="1.50"/><circle cx="136.8" cy="356.7" r="1.50"/><circle cx="138.7" cy="357.5" r="1.50"/><circle cx="139.7" cy="358.3" r="1.50"/><circle cx="140.7" cy="360.0" r="1.50"/><circle cx="141.4" cy="360.2" r="1.50"/><circle cx="142.0" cy="360.8" r="1.50"/><circle cx="144.7" cy="362.3" r="1.50"/><circle cx="144.6" cy="362.1" r="1.50"/><circle cx="146.0" cy="363.5" r="1.50"/><circle cx="146.4" cy="364.8" r="1.50"/><circle cx="148.2" cy="364.9" r="1.50"/><circle cx="149.3" cy="365.0" r="1.50"/><circle cx="150.8" cy="366.9" r="1.50"/><circle cx="150.0" cy="367.6" r="1.50"/><circle cx="151.7" cy="368.2" r="1.50"/><circle cx="152.8" cy="369.2" r="1.50"/><circle cx="154.2" cy="369.8" r="1.50"/><circle cx="155.6" cy="371.0" r="1.50"/><circle cx="156.6" cy="372.6" r="1.50"/><circle cx="157.0" cy="372.0" r="1.50"/><circle cx="157.3" cy="374.0" r="1.50"/><circle cx="158.3" cy="375.0" r="1.50"/><circle cx="160.4" cy="375.5" r="1.50"/><circle cx="160.1" cy="375.9" r="1.50"/><circle cx="161.0" cy="376.8" r="1.50"/><circle cx="162.4" cy="379.5" r="1.50"/><circle cx="163.0" cy="379.5" r="1.50"/><circle cx="163.7" cy="381.3" r="1.50"/><circle cx="165.8" cy="381.7" r="1.50"/><circle cx="166.2" cy="382.5" r="1.50"/><circle cx="165.8" cy="383.3" r="1.50"/><circle cx="167.7" cy="386.3" r="1.50"/><circle cx="168.0" cy="386.6" r="1.50"/><circle cx="167.6" cy="388.1" r="1.50"/><circle cx="168.4" cy="388.4" r="1.50"/><circle cx="169.0" cy="389.8" r="1.50"/><circle cx="169.3" cy="390.7" r="1.50"/><circle cx="171.2" cy="391.3" r="1.50"/><circle cx="170.5" cy="393.2" r="1.50"/><circle cx="171.6" cy="394.0" r="1.50"/></g>
<g fill="#f59a14"><circle cx="131.1" cy="338.8" r="1.30"/><circle cx="133.1" cy="339.0" r="1.30"/><circle cx="134.0" cy="340.0" r="1.30"/><circle cx="135.3" cy="339.5" r="1.30"/><circle cx="136.2" cy="340.9" r="1.30"/><circle cx="136.7" cy="340.6" r="1.30"/><circle cx="138.5" cy="341.8" r="1.30"/><circle cx="139.5" cy="340.8" r="1.30"/><circle cx="141.2" cy="342.3" r="1.30"/><circle cx="142.6" cy="342.3" r="1.30"/><circle cx="144.8" cy="342.1" r="1.30"/><circle cx="144.7" cy="342.5" r="1.30"/></g>
<g fill="#f59a14"><circle cx="129.9" cy="348.4" r="1.20"/><circle cx="130.0" cy="350.1" r="1.20"/><circle cx="130.5" cy="349.5" r="1.20"/><circle cx="132.1" cy="351.5" r="1.20"/><circle cx="133.4" cy="352.8" r="1.20"/><circle cx="133.9" cy="353.0" r="1.20"/><circle cx="134.3" cy="354.6" r="1.20"/><circle cx="136.2" cy="355.8" r="1.20"/><circle cx="136.0" cy="356.4" r="1.20"/><circle cx="137.8" cy="358.2" r="1.20"/><circle cx="138.2" cy="358.8" r="1.20"/><circle cx="138.8" cy="360.8" r="1.20"/><circle cx="139.6" cy="361.6" r="1.20"/><circle cx="141.1" cy="361.7" r="1.20"/><circle cx="140.4" cy="363.5" r="1.20"/><circle cx="141.2" cy="364.1" r="1.20"/><circle cx="142.5" cy="365.5" r="1.20"/></g>
<g fill="#f59a14"><circle cx="151.5" cy="294.1" r="1.50"/><circle cx="151.5" cy="295.3" r="1.50"/><circle cx="152.2" cy="296.6" r="1.50"/><circle cx="152.7" cy="298.2" r="1.50"/><circle cx="152.6" cy="301.1" r="1.50"/><circle cx="152.7" cy="302.4" r="1.50"/><circle cx="152.5" cy="303.6" r="1.50"/><circle cx="152.4" cy="304.2" r="1.50"/><circle cx="151.3" cy="306.8" r="1.50"/><circle cx="151.0" cy="307.9" r="1.50"/><circle cx="150.8" cy="309.3" r="1.50"/><circle cx="151.4" cy="309.5" r="1.50"/><circle cx="151.3" cy="312.5" r="1.50"/><circle cx="151.0" cy="312.2" r="1.50"/><circle cx="150.9" cy="314.2" r="1.50"/><circle cx="149.9" cy="316.1" r="1.50"/><circle cx="149.5" cy="316.5" r="1.50"/><circle cx="149.9" cy="317.7" r="1.50"/><circle cx="149.0" cy="319.5" r="1.50"/><circle cx="148.9" cy="321.0" r="1.50"/><circle cx="148.0" cy="322.5" r="1.50"/><circle cx="148.5" cy="322.1" r="1.50"/><circle cx="148.6" cy="324.7" r="1.50"/><circle cx="149.3" cy="325.8" r="1.50"/><circle cx="150.2" cy="326.1" r="1.50"/><circle cx="150.3" cy="326.3" r="1.50"/><circle cx="150.6" cy="328.9" r="1.50"/><circle cx="151.1" cy="330.2" r="1.50"/><circle cx="152.7" cy="330.2" r="1.50"/><circle cx="152.8" cy="330.7" r="1.50"/><circle cx="153.8" cy="332.4" r="1.50"/><circle cx="154.2" cy="333.6" r="1.50"/><circle cx="155.7" cy="334.7" r="1.50"/><circle cx="155.4" cy="335.7" r="1.50"/><circle cx="157.5" cy="336.6" r="1.50"/><circle cx="158.4" cy="337.4" r="1.50"/><circle cx="159.5" cy="339.4" r="1.50"/><circle cx="159.6" cy="339.7" r="1.50"/><circle cx="161.3" cy="341.3" r="1.50"/><circle cx="161.9" cy="342.5" r="1.50"/><circle cx="162.7" cy="343.2" r="1.50"/><circle cx="164.6" cy="343.8" r="1.50"/><circle cx="165.5" cy="343.9" r="1.50"/><circle cx="166.1" cy="344.1" r="1.50"/><circle cx="168.0" cy="345.8" r="1.50"/><circle cx="168.0" cy="346.5" r="1.50"/><circle cx="170.3" cy="346.8" r="1.50"/><circle cx="170.4" cy="348.2" r="1.50"/><circle cx="171.0" cy="349.4" r="1.50"/><circle cx="171.7" cy="350.5" r="1.50"/><circle cx="173.2" cy="351.8" r="1.50"/><circle cx="173.6" cy="352.3" r="1.50"/><circle cx="174.4" cy="353.9" r="1.50"/><circle cx="175.8" cy="355.2" r="1.50"/><circle cx="175.4" cy="356.0" r="1.50"/><circle cx="177.4" cy="356.7" r="1.50"/><circle cx="178.4" cy="357.7" r="1.50"/><circle cx="178.6" cy="359.1" r="1.50"/><circle cx="179.1" cy="360.2" r="1.50"/><circle cx="181.8" cy="361.5" r="1.50"/><circle cx="181.8" cy="361.3" r="1.50"/><circle cx="182.6" cy="362.3" r="1.50"/><circle cx="183.5" cy="363.5" r="1.50"/><circle cx="184.0" cy="363.9" r="1.50"/><circle cx="185.0" cy="364.9" r="1.50"/></g>
<g fill="#f59a14"><circle cx="137.8" cy="313.3" r="1.30"/><circle cx="139.9" cy="313.4" r="1.30"/><circle cx="141.0" cy="314.2" r="1.30"/><circle cx="141.9" cy="316.1" r="1.30"/><circle cx="143.3" cy="316.5" r="1.30"/><circle cx="144.3" cy="317.8" r="1.30"/><circle cx="144.2" cy="318.2" r="1.30"/><circle cx="146.4" cy="318.7" r="1.30"/><circle cx="146.6" cy="320.3" r="1.30"/><circle cx="147.3" cy="322.5" r="1.30"/><circle cx="148.1" cy="322.4" r="1.30"/></g>
<g fill="#f59a14"><circle cx="151.4" cy="328.6" r="1.20"/><circle cx="153.1" cy="328.6" r="1.20"/><circle cx="155.1" cy="327.8" r="1.20"/><circle cx="157.0" cy="327.0" r="1.20"/><circle cx="157.4" cy="326.7" r="1.20"/><circle cx="159.7" cy="327.1" r="1.20"/><circle cx="161.8" cy="326.4" r="1.20"/><circle cx="161.4" cy="328.0" r="1.20"/><circle cx="163.1" cy="328.8" r="1.20"/><circle cx="164.4" cy="328.4" r="1.20"/><circle cx="165.0" cy="329.0" r="1.20"/></g>
<g fill="#f5a014"><circle cx="164.3" cy="338.6" r="1.40"/><circle cx="166.1" cy="338.6" r="1.40"/><circle cx="167.2" cy="338.9" r="1.40"/><circle cx="168.8" cy="338.1" r="1.40"/><circle cx="170.2" cy="339.5" r="1.40"/><circle cx="172.7" cy="338.5" r="1.40"/><circle cx="172.3" cy="339.7" r="1.40"/><circle cx="173.5" cy="338.4" r="1.40"/><circle cx="174.8" cy="339.7" r="1.40"/><circle cx="176.6" cy="339.6" r="1.40"/><circle cx="177.6" cy="338.9" r="1.40"/><circle cx="179.5" cy="339.4" r="1.40"/><circle cx="181.0" cy="339.5" r="1.40"/><circle cx="181.3" cy="340.0" r="1.40"/><circle cx="183.1" cy="339.3" r="1.40"/><circle cx="183.2" cy="339.0" r="1.40"/><circle cx="184.5" cy="338.8" r="1.40"/><circle cx="187.8" cy="340.0" r="1.40"/><circle cx="188.0" cy="340.3" r="1.40"/><circle cx="190.1" cy="339.4" r="1.40"/><circle cx="190.9" cy="339.5" r="1.40"/><circle cx="192.6" cy="340.5" r="1.40"/><circle cx="194.4" cy="339.9" r="1.40"/><circle cx="195.2" cy="340.3" r="1.40"/><circle cx="196.8" cy="341.0" r="1.40"/><circle cx="197.6" cy="339.6" r="1.40"/><circle cx="198.9" cy="339.7" r="1.40"/><circle cx="200.0" cy="340.5" r="1.40"/></g>
<g fill="#f5a014"><circle cx="180.2" cy="358.5" r="1.30"/><circle cx="183.1" cy="358.4" r="1.30"/><circle cx="183.5" cy="358.5" r="1.30"/><circle cx="184.6" cy="359.2" r="1.30"/><circle cx="185.4" cy="359.7" r="1.30"/><circle cx="186.9" cy="359.8" r="1.30"/><circle cx="189.6" cy="360.0" r="1.30"/><circle cx="190.3" cy="359.8" r="1.30"/><circle cx="191.1" cy="359.9" r="1.30"/><circle cx="192.7" cy="359.9" r="1.30"/><circle cx="193.4" cy="360.0" r="1.30"/><circle cx="194.8" cy="359.5" r="1.30"/><circle cx="196.3" cy="360.2" r="1.30"/><circle cx="197.5" cy="359.6" r="1.30"/><circle cx="198.4" cy="359.5" r="1.30"/></g>
<g fill="#f5aa14"><circle cx="180.8" cy="361.9" r="1.10"/><circle cx="181.1" cy="362.2" r="1.10"/><circle cx="183.9" cy="362.6" r="1.10"/><circle cx="184.3" cy="363.0" r="1.10"/><circle cx="186.1" cy="362.7" r="1.10"/><circle cx="187.3" cy="362.9" r="1.10"/><circle cx="188.3" cy="362.3" r="1.10"/><circle cx="189.5" cy="362.5" r="1.10"/><circle cx="191.8" cy="362.5" r="1.10"/><circle cx="192.2" cy="362.4" r="1.10"/><circle cx="194.7" cy="363.1" r="1.10"/><circle cx="194.9" cy="363.4" r="1.10"/><circle cx="196.7" cy="362.6" r="1.10"/></g>
<g fill="#f07814"><circle cx="111.8" cy="310.5" r="1.4"/><circle cx="111.2" cy="310.7" r="1.4"/><circle cx="160.0" cy="310.5" r="1.4"/><circle cx="160.0" cy="310.7" r="1.4"/></g>
<g fill="#e61414"><circle cx="162.8" cy="305.8" r="1.4"/><circle cx="152.6" cy="314.1" r="1.4"/><circle cx="152.7" cy="315.2" r="1.4"/></g>
<g fill="#e61414"><circle cx="139.3" cy="334.3" r="1.35"/><circle cx="141.4" cy="334.1" r="1.35"/><circle cx="141.4" cy="334.6" r="1.35"/><circle cx="143.5" cy="334.6" r="1.35"/><circle cx="144.6" cy="335.8" r="1.35"/><circle cx="146.5" cy="335.9" r="1.35"/><circle cx="146.7" cy="335.8" r="1.35"/><circle cx="147.8" cy="336.3" r="1.35"/><circle cx="149.2" cy="337.2" r="1.35"/><circle cx="150.3" cy="337.9" r="1.35"/><circle cx="151.9" cy="337.7" r="1.35"/><circle cx="152.9" cy="338.4" r="1.35"/><circle cx="153.4" cy="338.8" r="1.35"/><circle cx="155.6" cy="339.7" r="1.35"/><circle cx="156.5" cy="339.9" r="1.35"/><circle cx="157.6" cy="340.7" r="1.35"/><circle cx="158.0" cy="341.7" r="1.35"/><circle cx="160.1" cy="342.4" r="1.35"/><circle cx="160.7" cy="342.3" r="1.35"/><circle cx="162.0" cy="343.3" r="1.35"/><circle cx="163.2" cy="343.6" r="1.35"/><circle cx="165.1" cy="343.9" r="1.35"/><circle cx="166.0" cy="344.1" r="1.35"/><circle cx="168.3" cy="344.3" r="1.35"/><circle cx="168.7" cy="344.7" r="1.35"/><circle cx="169.6" cy="345.9" r="1.35"/><circle cx="171.4" cy="345.4" r="1.35"/><circle cx="172.9" cy="345.6" r="1.35"/><circle cx="173.6" cy="346.3" r="1.35"/><circle cx="174.4" cy="346.7" r="1.35"/><circle cx="176.8" cy="347.5" r="1.35"/><circle cx="177.9" cy="347.4" r="1.35"/><circle cx="178.9" cy="347.4" r="1.35"/><circle cx="180.2" cy="347.9" r="1.35"/><circle cx="182.2" cy="348.2" r="1.35"/><circle cx="182.2" cy="347.5" r="1.35"/><circle cx="184.4" cy="348.3" r="1.35"/><circle cx="186.1" cy="347.9" r="1.35"/><circle cx="186.4" cy="347.9" r="1.35"/><circle cx="188.9" cy="348.1" r="1.35"/><circle cx="189.9" cy="348.1" r="1.35"/><circle cx="191.3" cy="348.5" r="1.35"/><circle cx="192.8" cy="347.5" r="1.35"/><circle cx="194.0" cy="347.1" r="1.35"/><circle cx="194.9" cy="347.4" r="1.35"/><circle cx="196.2" cy="346.5" r="1.35"/></g>
<g fill="#e61414"><circle cx="158.8" cy="363.2" r="1.20"/><circle cx="159.5" cy="363.4" r="1.20"/><circle cx="160.2" cy="364.0" r="1.20"/><circle cx="162.6" cy="365.7" r="1.20"/><circle cx="163.0" cy="365.3" r="1.20"/><circle cx="164.2" cy="367.0" r="1.20"/><circle cx="164.9" cy="367.0" r="1.20"/></g>
<g fill="#a81414"><circle cx="149.4" cy="366.5" r="1.20"/><circle cx="150.3" cy="369.1" r="1.20"/><circle cx="151.1" cy="369.7" r="1.20"/><circle cx="151.9" cy="370.6" r="1.20"/><circle cx="153.2" cy="371.9" r="1.20"/><circle cx="154.2" cy="372.4" r="1.20"/><circle cx="155.3" cy="373.3" r="1.20"/><circle cx="155.9" cy="373.8" r="1.20"/></g>
<g fill="#f03c14"><circle cx="148.5" cy="369.7" r="1.50"/><circle cx="149.0" cy="372.3" r="1.50"/><circle cx="150.3" cy="372.4" r="1.50"/><circle cx="151.0" cy="374.8" r="1.50"/><circle cx="151.4" cy="375.9" r="1.50"/><circle cx="152.0" cy="376.4" r="1.50"/><circle cx="153.0" cy="377.3" r="1.50"/></g>
<g fill="#a81414"><circle cx="152.0" cy="368.4" r="1.4"/><circle cx="154.0" cy="370.0" r="1.4"/><circle cx="155.3" cy="374.0" r="1.4"/><circle cx="174.1" cy="373.2" r="1.4"/></g>
<g fill="#d2e628"><circle cx="144.7" cy="338.7" r="1.4"/><circle cx="147.0" cy="341.0" r="1.4"/><circle cx="151.5" cy="345.4" r="1.4"/><circle cx="147.3" cy="330.6" r="1.4"/></g>
<g fill="#32e6c8"><circle cx="169.4" cy="330.9" r="1.4"/><circle cx="171.6" cy="336.5" r="1.4"/><circle cx="191.7" cy="345.4" r="1.4"/><circle cx="170.1" cy="332.0" r="1.4"/><circle cx="168.8" cy="334.0" r="1.4"/><circle cx="172.0" cy="337.3" r="1.4"/></g>
<g fill="#8ce650"><circle cx="172.7" cy="327.5" r="1.4"/><circle cx="172.8" cy="328.0" r="1.4"/><circle cx="187.2" cy="328.6" r="1.4"/><circle cx="188.4" cy="333.1" r="1.4"/><circle cx="186.2" cy="326.6" r="1.4"/><circle cx="190.0" cy="330.0" r="1.4"/></g>
<g fill="#28d2e6"><circle cx="202.3" cy="332.7" r="1.4"/><circle cx="203.7" cy="336.0" r="1.4"/></g>
<g fill="#78e678"><circle cx="204.7" cy="340.7" r="1.3"/><circle cx="205.8" cy="340.4" r="1.3"/><circle cx="202.0" cy="341.9" r="1.3"/><circle cx="201.1" cy="341.3" r="1.3"/><circle cx="202.3" cy="338.7" r="1.3"/><circle cx="201.5" cy="341.9" r="1.3"/></g>
<g fill="#a81414"><circle cx="122.0" cy="361.3" r="1.40"/><circle cx="119.9" cy="363.5" r="1.40"/><circle cx="119.9" cy="364.7" r="1.40"/><circle cx="119.8" cy="365.1" r="1.40"/><circle cx="118.2" cy="367.2" r="1.40"/><circle cx="118.4" cy="367.6" r="1.40"/><circle cx="118.5" cy="370.0" r="1.40"/><circle cx="118.7" cy="371.0" r="1.40"/><circle cx="118.8" cy="371.7" r="1.40"/><circle cx="117.9" cy="372.3" r="1.40"/><circle cx="118.8" cy="374.5" r="1.40"/><circle cx="118.8" cy="376.4" r="1.40"/><circle cx="118.8" cy="376.6" r="1.40"/><circle cx="119.8" cy="378.5" r="1.40"/><circle cx="119.8" cy="379.9" r="1.40"/><circle cx="120.4" cy="380.8" r="1.40"/><circle cx="121.0" cy="382.3" r="1.40"/><circle cx="120.5" cy="383.5" r="1.40"/><circle cx="121.6" cy="385.4" r="1.40"/><circle cx="121.5" cy="386.5" r="1.40"/><circle cx="121.3" cy="387.7" r="1.40"/><circle cx="120.4" cy="389.8" r="1.40"/><circle cx="119.4" cy="390.9" r="1.40"/><circle cx="119.1" cy="392.8" r="1.40"/><circle cx="118.5" cy="392.8" r="1.40"/><circle cx="116.6" cy="394.7" r="1.40"/><circle cx="116.1" cy="395.6" r="1.40"/><circle cx="115.3" cy="396.0" r="1.40"/><circle cx="114.2" cy="397.5" r="1.40"/><circle cx="113.3" cy="397.8" r="1.40"/><circle cx="112.6" cy="399.8" r="1.40"/><circle cx="111.9" cy="401.8" r="1.40"/><circle cx="110.9" cy="402.6" r="1.40"/><circle cx="110.7" cy="404.3" r="1.40"/><circle cx="109.9" cy="405.0" r="1.40"/></g>
<g fill="#a81414"><circle cx="121.8" cy="361.6" r="1.30"/><circle cx="123.8" cy="363.4" r="1.30"/><circle cx="124.0" cy="363.5" r="1.30"/><circle cx="125.7" cy="365.7" r="1.30"/><circle cx="125.6" cy="367.3" r="1.30"/><circle cx="126.9" cy="367.9" r="1.30"/><circle cx="127.5" cy="369.6" r="1.30"/><circle cx="127.9" cy="370.3" r="1.30"/><circle cx="128.8" cy="372.0" r="1.30"/><circle cx="129.3" cy="372.9" r="1.30"/><circle cx="129.8" cy="374.3" r="1.30"/><circle cx="130.7" cy="375.3" r="1.30"/><circle cx="131.3" cy="376.4" r="1.30"/><circle cx="132.0" cy="377.8" r="1.30"/><circle cx="133.9" cy="379.4" r="1.30"/><circle cx="134.0" cy="379.5" r="1.30"/></g>
<g fill="#c8f032"><circle cx="126.1" cy="368.2" r="1.10"/><circle cx="126.6" cy="369.9" r="1.10"/><circle cx="126.5" cy="370.4" r="1.10"/><circle cx="127.3" cy="371.7" r="1.10"/></g>
<g fill="#f0e628"><circle cx="122.8" cy="391.8" r="1.4"/></g>
<g fill="#50e6b4"><circle cx="140.9" cy="376.8" r="1.20"/><circle cx="141.3" cy="377.4" r="1.20"/><circle cx="143.3" cy="377.2" r="1.20"/><circle cx="145.0" cy="377.1" r="1.20"/><circle cx="146.2" cy="377.3" r="1.20"/><circle cx="146.6" cy="378.0" r="1.20"/></g>
<g fill="#a81414"><circle cx="107.7" cy="408.3" r="1.20"/><circle cx="108.4" cy="407.4" r="1.20"/><circle cx="109.0" cy="406.5" r="1.20"/><circle cx="109.1" cy="404.8" r="1.20"/><circle cx="109.8" cy="403.9" r="1.20"/><circle cx="109.7" cy="403.1" r="1.20"/><circle cx="110.0" cy="401.0" r="1.20"/><circle cx="110.1" cy="400.1" r="1.20"/><circle cx="110.9" cy="398.8" r="1.20"/></g>
<g fill="#f5dc14"><circle cx="109.3" cy="395.2" r="1.5"/><circle cx="111.0" cy="395.6" r="1.5"/><circle cx="110.6" cy="395.2" r="1.5"/></g>
<g fill="#32e6d2"><circle cx="115.7" cy="367.8" r="1.3"/><circle cx="111.5" cy="366.2" r="1.3"/><circle cx="116.1" cy="367.4" r="1.3"/><circle cx="111.3" cy="363.8" r="1.3"/><circle cx="113.3" cy="362.3" r="1.3"/><circle cx="115.4" cy="362.0" r="1.3"/><circle cx="115.6" cy="361.9" r="1.3"/><circle cx="112.9" cy="364.2" r="1.3"/><circle cx="114.8" cy="361.8" r="1.3"/><circle cx="115.7" cy="365.8" r="1.3"/></g>
<g fill="#32e6d2"><circle cx="113.8" cy="353.8" r="1.3"/><circle cx="113.4" cy="354.4" r="1.3"/></g>
<g fill="#f08c14"><circle cx="134.1" cy="399.2" r="1.4"/></g>
<g fill="#f07814"><circle cx="96.8" cy="402.7" r="1.45"/><circle cx="106.9" cy="409.7" r="1.45"/></g>
<g fill="#f05014"><circle cx="72.5" cy="412.9" r="1.5"/><circle cx="89.7" cy="412.9" r="1.5"/><circle cx="72.0" cy="414.0" r="1.5"/></g>
<g fill="#e61e14"><circle cx="77.2" cy="415.2" r="1.5"/><circle cx="82.0" cy="419.0" r="1.5"/><circle cx="84.0" cy="418.6" r="1.5"/><circle cx="86.0" cy="420.0" r="1.5"/><circle cx="83.0" cy="422.5" r="1.5"/><circle cx="85.5" cy="423.5" r="1.5"/><circle cx="81.5" cy="421.5" r="1.5"/><circle cx="87.0" cy="421.8" r="1.5"/><circle cx="74.9" cy="430.9" r="1.5"/><circle cx="104.6" cy="417.6" r="1.5"/><circle cx="104.6" cy="421.5" r="1.5"/><circle cx="103.8" cy="427.0" r="1.5"/><circle cx="104.5" cy="425.5" r="1.5"/></g>
<g fill="#a81414"><circle cx="83.5" cy="440.3" r="1.5"/><circle cx="83.7" cy="442.0" r="1.5"/><circle cx="101.5" cy="431.6" r="1.5"/><circle cx="101.2" cy="433.5" r="1.5"/><circle cx="103.0" cy="437.9" r="1.5"/></g>
<g fill="#f07814"><circle cx="136.5" cy="408.3" r="1.10"/><circle cx="136.8" cy="408.9" r="1.10"/><circle cx="137.2" cy="410.6" r="1.10"/><circle cx="137.1" cy="411.7" r="1.10"/><circle cx="137.6" cy="412.9" r="1.10"/><circle cx="136.8" cy="413.8" r="1.10"/><circle cx="137.0" cy="416.4" r="1.10"/><circle cx="137.4" cy="416.9" r="1.10"/></g>
<g fill="#f06414"><circle cx="143.8" cy="403.5" r="1.20"/><circle cx="144.3" cy="404.4" r="1.20"/><circle cx="144.8" cy="405.0" r="1.20"/><circle cx="146.9" cy="406.5" r="1.20"/><circle cx="147.6" cy="406.7" r="1.20"/><circle cx="147.9" cy="408.1" r="1.20"/><circle cx="149.9" cy="409.3" r="1.20"/><circle cx="150.7" cy="409.9" r="1.20"/></g>
<g fill="#e61414"><circle cx="109.8" cy="406.0" r="1.30"/><circle cx="111.0" cy="405.0" r="1.30"/><circle cx="112.1" cy="402.8" r="1.30"/><circle cx="112.1" cy="401.7" r="1.30"/><circle cx="113.2" cy="400.7" r="1.30"/><circle cx="114.2" cy="399.2" r="1.30"/><circle cx="114.6" cy="399.3" r="1.30"/><circle cx="116.2" cy="397.8" r="1.30"/><circle cx="116.5" cy="397.0" r="1.30"/><circle cx="116.8" cy="395.4" r="1.30"/><circle cx="117.8" cy="395.0" r="1.30"/></g>
<g fill="#0a28e0"><circle cx="124.0" cy="397.0" r="1.4"/><circle cx="127.2" cy="399.7" r="1.4"/><circle cx="130.0" cy="397.0" r="1.4"/></g>
<g fill="#b4f032"><circle cx="117.0" cy="434.1" r="1.3"/><circle cx="121.0" cy="434.9" r="1.3"/><circle cx="118.6" cy="442.0" r="1.3"/><circle cx="130.3" cy="431.0" r="1.3"/><circle cx="153.8" cy="438.0" r="1.3"/><circle cx="159.3" cy="437.3" r="1.3"/><circle cx="155.4" cy="425.5" r="1.3"/><circle cx="157.7" cy="430.2" r="1.3"/><circle cx="167.9" cy="449.8" r="1.3"/><circle cx="152.3" cy="453.7" r="1.3"/><circle cx="119.1" cy="435.1" r="1.3"/><circle cx="119.1" cy="440.6" r="1.3"/><circle cx="151.0" cy="453.4" r="1.3"/><circle cx="182.9" cy="458.9" r="1.3"/><circle cx="227.5" cy="435.1" r="1.3"/><circle cx="227.9" cy="434.6" r="1.3"/></g>
<g fill="#8ce664"><circle cx="188.8" cy="435.4" r="1.3"/><circle cx="196.6" cy="437.0" r="1.3"/><circle cx="199.7" cy="441.6" r="1.3"/><circle cx="187.2" cy="444.8" r="1.3"/><circle cx="198.2" cy="446.3" r="1.3"/><circle cx="206.0" cy="440.0" r="1.3"/><circle cx="183.3" cy="458.9" r="1.3"/><circle cx="167.1" cy="449.1" r="1.3"/><circle cx="187.1" cy="446.1" r="1.3"/><circle cx="199.9" cy="444.9" r="1.3"/><circle cx="219.0" cy="469.1" r="1.3"/><circle cx="220.3" cy="471.2" r="1.3"/></g>
<g fill="#8ce664"><circle cx="201.3" cy="444.0" r="1.9"/></g>
<g fill="#a01414"><circle cx="102.1" cy="437.6" r="1.4"/><circle cx="151.0" cy="463.1" r="1.4"/><circle cx="151.5" cy="463.1" r="1.4"/><circle cx="134.0" cy="471.6" r="1.4"/><circle cx="117.0" cy="484.4" r="1.4"/><circle cx="120.4" cy="486.5" r="1.4"/></g>
<g fill="#e61e14"><circle cx="120.4" cy="476.7" r="1.4"/></g>
<g fill="#f08c14"><circle cx="193.0" cy="476.5" r="1.10"/><circle cx="193.7" cy="478.4" r="1.10"/><circle cx="193.5" cy="479.5" r="1.10"/></g>
<g fill="#e61414"><circle cx="229.7" cy="309.0" r="1.3"/><circle cx="228.2" cy="304.5" r="1.3"/><circle cx="223.9" cy="315.7" r="1.3"/><circle cx="227.8" cy="308.1" r="1.3"/><circle cx="229.0" cy="315.7" r="1.3"/><circle cx="225.2" cy="309.0" r="1.3"/><circle cx="233.7" cy="314.2" r="1.3"/><circle cx="219.4" cy="312.0" r="1.3"/><circle cx="221.2" cy="308.2" r="1.3"/><circle cx="233.3" cy="308.4" r="1.3"/><circle cx="235.9" cy="309.8" r="1.3"/><circle cx="223.7" cy="304.4" r="1.3"/><circle cx="225.7" cy="309.6" r="1.3"/><circle cx="237.3" cy="308.6" r="1.3"/><circle cx="221.3" cy="305.6" r="1.3"/><circle cx="226.6" cy="312.8" r="1.3"/><circle cx="234.1" cy="312.0" r="1.3"/><circle cx="216.6" cy="311.8" r="1.3"/><circle cx="234.9" cy="309.7" r="1.3"/><circle cx="224.3" cy="311.7" r="1.3"/><circle cx="218.6" cy="306.7" r="1.3"/><circle cx="216.7" cy="312.0" r="1.3"/></g>
<g fill="#a81414"><circle cx="220.0" cy="304.2" r="1.3"/><circle cx="215.9" cy="305.8" r="1.3"/><circle cx="222.3" cy="304.8" r="1.3"/><circle cx="218.5" cy="307.7" r="1.3"/><circle cx="224.1" cy="305.1" r="1.3"/><circle cx="220.7" cy="307.6" r="1.3"/><circle cx="220.6" cy="307.6" r="1.3"/><circle cx="218.6" cy="305.4" r="1.3"/><circle cx="222.0" cy="309.2" r="1.3"/><circle cx="222.2" cy="307.9" r="1.3"/></g>
<g fill="#0a28e0"><circle cx="224.7" cy="359.2" r="1.3"/><circle cx="224.1" cy="359.0" r="1.3"/><circle cx="221.0" cy="349.7" r="1.3"/><circle cx="228.8" cy="351.0" r="1.3"/><circle cx="224.4" cy="354.1" r="1.3"/><circle cx="227.5" cy="351.0" r="1.3"/><circle cx="228.0" cy="356.5" r="1.3"/><circle cx="223.0" cy="354.5" r="1.3"/><circle cx="222.0" cy="342.1" r="1.3"/><circle cx="223.9" cy="342.0" r="1.3"/><circle cx="222.0" cy="359.6" r="1.3"/><circle cx="220.7" cy="348.8" r="1.3"/><circle cx="223.5" cy="344.1" r="1.3"/><circle cx="227.1" cy="344.5" r="1.3"/><circle cx="224.4" cy="347.0" r="1.3"/><circle cx="225.5" cy="343.6" r="1.3"/><circle cx="223.9" cy="359.7" r="1.3"/><circle cx="225.7" cy="346.3" r="1.3"/><circle cx="223.9" cy="357.1" r="1.3"/><circle cx="225.0" cy="342.4" r="1.3"/><circle cx="222.0" cy="342.1" r="1.3"/><circle cx="225.3" cy="345.4" r="1.3"/><circle cx="226.8" cy="358.1" r="1.3"/><circle cx="226.8" cy="359.3" r="1.3"/><circle cx="222.8" cy="356.9" r="1.3"/><circle cx="223.4" cy="362.7" r="1.3"/><circle cx="226.9" cy="351.0" r="1.3"/><circle cx="226.1" cy="353.9" r="1.3"/><circle cx="221.2" cy="346.7" r="1.3"/><circle cx="226.0" cy="361.2" r="1.3"/></g>
<g fill="#0a28e0"><circle cx="214.3" cy="330.1" r="1.3"/><circle cx="214.4" cy="325.2" r="1.3"/><circle cx="210.6" cy="328.7" r="1.3"/><circle cx="215.5" cy="327.4" r="1.3"/><circle cx="214.9" cy="326.7" r="1.3"/><circle cx="211.1" cy="325.4" r="1.3"/><circle cx="212.1" cy="328.6" r="1.3"/><circle cx="211.5" cy="331.5" r="1.3"/><circle cx="214.9" cy="327.0" r="1.3"/><circle cx="216.2" cy="329.3" r="1.3"/><circle cx="212.4" cy="329.3" r="1.3"/><circle cx="214.8" cy="326.6" r="1.3"/><circle cx="209.9" cy="329.2" r="1.3"/><circle cx="213.7" cy="324.4" r="1.3"/></g>
<g fill="#1e8cf0"><circle cx="227.0" cy="355.4" r="1.2"/><circle cx="226.5" cy="356.2" r="1.2"/><circle cx="228.4" cy="354.4" r="1.2"/><circle cx="230.5" cy="357.9" r="1.2"/><circle cx="226.4" cy="356.8" r="1.2"/><circle cx="227.3" cy="354.6" r="1.2"/><circle cx="227.4" cy="353.3" r="1.2"/><circle cx="227.5" cy="356.0" r="1.2"/><circle cx="230.9" cy="358.2" r="1.2"/><circle cx="229.8" cy="354.1" r="1.2"/></g>
<polygon points="106.0,321.0 113.4,316.8 120.1,314.5 125.7,314.5 127.0,322.0 128.0,331.3 124.0,333.0 118.0,331.0 112.0,329.0 107.0,325.0" fill="#f05a14" fill-opacity="0.35"/>
<g fill="#f05a14"><circle cx="126.8" cy="331.4" r="1.25"/><circle cx="124.7" cy="330.1" r="1.25"/><circle cx="111.3" cy="323.9" r="1.25"/><circle cx="124.7" cy="314.8" r="1.25"/><circle cx="122.0" cy="324.5" r="1.25"/><circle cx="123.5" cy="316.4" r="1.25"/><circle cx="127.1" cy="325.2" r="1.25"/><circle cx="120.0" cy="318.4" r="1.25"/><circle cx="121.7" cy="317.9" r="1.25"/><circle cx="112.8" cy="320.9" r="1.25"/><circle cx="125.1" cy="325.0" r="1.25"/><circle cx="121.9" cy="325.0" r="1.25"/><circle cx="127.0" cy="323.3" r="1.25"/><circle cx="120.3" cy="315.5" r="1.25"/><circle cx="112.6" cy="320.1" r="1.25"/><circle cx="115.5" cy="324.0" r="1.25"/><circle cx="118.9" cy="314.9" r="1.25"/><circle cx="122.1" cy="321.4" r="1.25"/><circle cx="125.1" cy="316.0" r="1.25"/><circle cx="115.2" cy="324.6" r="1.25"/><circle cx="121.3" cy="318.3" r="1.25"/><circle cx="124.1" cy="325.8" r="1.25"/><circle cx="123.6" cy="332.0" r="1.25"/><circle cx="121.0" cy="326.9" r="1.25"/><circle cx="112.5" cy="319.6" r="1.25"/><circle cx="114.2" cy="329.5" r="1.25"/><circle cx="119.1" cy="319.7" r="1.25"/><circle cx="125.9" cy="324.1" r="1.25"/><circle cx="122.2" cy="320.9" r="1.25"/><circle cx="120.8" cy="322.0" r="1.25"/><circle cx="117.5" cy="317.8" r="1.25"/><circle cx="114.1" cy="322.1" r="1.25"/><circle cx="122.3" cy="317.4" r="1.25"/><circle cx="110.4" cy="326.4" r="1.25"/><circle cx="106.4" cy="322.7" r="1.25"/><circle cx="124.3" cy="328.5" r="1.25"/><circle cx="113.8" cy="324.0" r="1.25"/><circle cx="125.2" cy="318.1" r="1.25"/><circle cx="112.3" cy="324.8" r="1.25"/><circle cx="121.3" cy="326.5" r="1.25"/><circle cx="112.8" cy="320.8" r="1.25"/><circle cx="114.3" cy="319.9" r="1.25"/><circle cx="110.6" cy="323.6" r="1.25"/><circle cx="109.3" cy="320.5" r="1.25"/><circle cx="117.6" cy="320.6" r="1.25"/><circle cx="107.3" cy="322.1" r="1.25"/><circle cx="112.5" cy="322.7" r="1.25"/><circle cx="121.2" cy="319.3" r="1.25"/><circle cx="120.0" cy="322.7" r="1.25"/><circle cx="124.7" cy="321.4" r="1.25"/><circle cx="111.3" cy="319.0" r="1.25"/><circle cx="123.6" cy="320.1" r="1.25"/><circle cx="118.8" cy="318.1" r="1.25"/><circle cx="126.0" cy="324.0" r="1.25"/><circle cx="119.0" cy="329.2" r="1.25"/><circle cx="117.5" cy="323.6" r="1.25"/><circle cx="121.7" cy="323.3" r="1.25"/><circle cx="118.7" cy="320.0" r="1.25"/><circle cx="127.4" cy="325.4" r="1.25"/><circle cx="118.8" cy="324.0" r="1.25"/><circle cx="127.8" cy="331.2" r="1.25"/><circle cx="127.6" cy="328.3" r="1.25"/><circle cx="119.8" cy="327.2" r="1.25"/><circle cx="123.5" cy="327.8" r="1.25"/><circle cx="124.0" cy="320.7" r="1.25"/><circle cx="123.5" cy="325.5" r="1.25"/><circle cx="119.6" cy="330.4" r="1.25"/><circle cx="122.7" cy="327.4" r="1.25"/><circle cx="113.0" cy="326.6" r="1.25"/><circle cx="112.1" cy="324.6" r="1.25"/><circle cx="121.8" cy="332.0" r="1.25"/><circle cx="124.9" cy="325.4" r="1.25"/><circle cx="126.2" cy="327.7" r="1.25"/><circle cx="108.9" cy="321.2" r="1.25"/><circle cx="110.8" cy="322.8" r="1.25"/><circle cx="125.7" cy="318.0" r="1.25"/><circle cx="126.8" cy="328.1" r="1.25"/><circle cx="114.0" cy="326.1" r="1.25"/><circle cx="122.9" cy="320.8" r="1.25"/><circle cx="116.5" cy="316.1" r="1.25"/><circle cx="112.8" cy="327.5" r="1.25"/><circle cx="115.4" cy="327.7" r="1.25"/><circle cx="120.7" cy="319.3" r="1.25"/><circle cx="110.5" cy="323.1" r="1.25"/><circle cx="110.3" cy="319.2" r="1.25"/><circle cx="109.1" cy="319.3" r="1.25"/><circle cx="106.6" cy="320.6" r="1.25"/><circle cx="119.9" cy="314.2" r="1.25"/><circle cx="120.4" cy="314.1" r="1.25"/><circle cx="115.1" cy="316.4" r="1.25"/><circle cx="121.8" cy="314.8" r="1.25"/><circle cx="124.6" cy="314.1" r="1.25"/><circle cx="125.9" cy="314.0" r="1.25"/><circle cx="126.8" cy="317.8" r="1.25"/><circle cx="126.3" cy="317.2" r="1.25"/><circle cx="127.4" cy="323.4" r="1.25"/><circle cx="126.7" cy="324.1" r="1.25"/><circle cx="127.3" cy="330.5" r="1.25"/><circle cx="126.7" cy="325.4" r="1.25"/><circle cx="124.6" cy="333.1" r="1.25"/><circle cx="122.0" cy="333.1" r="1.25"/><circle cx="122.6" cy="332.7" r="1.25"/><circle cx="115.8" cy="330.5" r="1.25"/><circle cx="112.2" cy="328.4" r="1.25"/><circle cx="110.7" cy="327.4" r="1.25"/><circle cx="111.3" cy="328.3" r="1.25"/><circle cx="106.4" cy="323.9" r="1.25"/></g>
<g fill="#e61414"><circle cx="111.2" cy="324.6" r="1.45"/><circle cx="122.4" cy="322.4" r="1.45"/><circle cx="124.6" cy="329.1" r="1.45"/><circle cx="114.0" cy="326.0" r="1.45"/><circle cx="120.0" cy="320.0" r="1.45"/><circle cx="117.0" cy="323.0" r="1.45"/></g>
<polygon points="331.5,406.0 340.0,404.0 347.0,401.0 352.0,398.0 355.5,403.0 355.0,415.0 353.0,428.0 346.0,435.0 338.0,436.0 332.0,438.0 331.3,425.0" fill="#c3ee32" fill-opacity="0.6"/>
<g fill="#c3ee32"><circle cx="334.8" cy="430.9" r="1.25"/><circle cx="335.6" cy="425.7" r="1.25"/><circle cx="333.1" cy="425.0" r="1.25"/><circle cx="336.7" cy="431.6" r="1.25"/><circle cx="351.7" cy="416.7" r="1.25"/><circle cx="352.9" cy="423.9" r="1.25"/><circle cx="346.2" cy="412.3" r="1.25"/><circle cx="347.8" cy="403.6" r="1.25"/><circle cx="333.5" cy="424.7" r="1.25"/><circle cx="341.6" cy="406.3" r="1.25"/><circle cx="354.3" cy="409.6" r="1.25"/><circle cx="344.4" cy="417.6" r="1.25"/><circle cx="338.5" cy="434.4" r="1.25"/><circle cx="342.5" cy="412.2" r="1.25"/><circle cx="348.9" cy="399.9" r="1.25"/><circle cx="338.5" cy="414.1" r="1.25"/><circle cx="349.2" cy="410.2" r="1.25"/><circle cx="336.7" cy="416.8" r="1.25"/><circle cx="334.8" cy="420.3" r="1.25"/><circle cx="340.6" cy="424.6" r="1.25"/><circle cx="334.0" cy="411.9" r="1.25"/><circle cx="335.5" cy="417.8" r="1.25"/><circle cx="341.1" cy="422.8" r="1.25"/><circle cx="345.7" cy="408.4" r="1.25"/><circle cx="352.6" cy="416.0" r="1.25"/><circle cx="350.1" cy="426.9" r="1.25"/><circle cx="345.6" cy="428.9" r="1.25"/><circle cx="351.0" cy="425.8" r="1.25"/><circle cx="349.4" cy="430.0" r="1.25"/><circle cx="336.2" cy="433.1" r="1.25"/><circle cx="344.8" cy="432.6" r="1.25"/><circle cx="344.7" cy="424.7" r="1.25"/><circle cx="352.7" cy="400.9" r="1.25"/><circle cx="352.8" cy="407.3" r="1.25"/><circle cx="348.4" cy="421.7" r="1.25"/><circle cx="337.0" cy="411.1" r="1.25"/><circle cx="337.1" cy="419.3" r="1.25"/><circle cx="338.0" cy="419.8" r="1.25"/><circle cx="348.2" cy="408.5" r="1.25"/><circle cx="354.3" cy="414.2" r="1.25"/><circle cx="337.6" cy="426.7" r="1.25"/><circle cx="353.1" cy="412.8" r="1.25"/><circle cx="349.0" cy="411.3" r="1.25"/><circle cx="344.4" cy="423.0" r="1.25"/><circle cx="338.2" cy="414.6" r="1.25"/><circle cx="341.2" cy="412.5" r="1.25"/><circle cx="335.9" cy="419.8" r="1.25"/><circle cx="352.6" cy="408.4" r="1.25"/><circle cx="342.8" cy="406.7" r="1.25"/><circle cx="347.6" cy="414.2" r="1.25"/><circle cx="345.4" cy="414.3" r="1.25"/><circle cx="339.3" cy="431.9" r="1.25"/><circle cx="338.4" cy="429.6" r="1.25"/><circle cx="345.2" cy="409.2" r="1.25"/><circle cx="354.0" cy="416.9" r="1.25"/><circle cx="350.8" cy="424.8" r="1.25"/><circle cx="345.4" cy="405.6" r="1.25"/><circle cx="349.6" cy="421.8" r="1.25"/><circle cx="336.6" cy="429.1" r="1.25"/><circle cx="354.8" cy="416.0" r="1.25"/><circle cx="331.7" cy="416.5" r="1.25"/><circle cx="339.8" cy="434.7" r="1.25"/><circle cx="335.2" cy="413.3" r="1.25"/><circle cx="336.7" cy="415.4" r="1.25"/><circle cx="353.6" cy="407.4" r="1.25"/><circle cx="331.4" cy="426.1" r="1.25"/><circle cx="348.2" cy="403.5" r="1.25"/><circle cx="344.5" cy="426.0" r="1.25"/><circle cx="334.3" cy="423.8" r="1.25"/><circle cx="339.9" cy="411.4" r="1.25"/><circle cx="350.9" cy="428.6" r="1.25"/><circle cx="331.5" cy="418.5" r="1.25"/><circle cx="331.9" cy="419.8" r="1.25"/><circle cx="335.3" cy="436.4" r="1.25"/><circle cx="339.0" cy="418.9" r="1.25"/><circle cx="337.6" cy="434.2" r="1.25"/><circle cx="331.5" cy="410.1" r="1.25"/><circle cx="336.8" cy="427.9" r="1.25"/><circle cx="340.3" cy="432.5" r="1.25"/><circle cx="335.0" cy="418.9" r="1.25"/><circle cx="345.2" cy="406.5" r="1.25"/><circle cx="335.6" cy="418.9" r="1.25"/><circle cx="342.1" cy="417.3" r="1.25"/><circle cx="347.5" cy="403.6" r="1.25"/><circle cx="350.5" cy="426.1" r="1.25"/><circle cx="335.0" cy="411.2" r="1.25"/><circle cx="338.8" cy="434.9" r="1.25"/><circle cx="341.3" cy="426.6" r="1.25"/><circle cx="336.7" cy="423.7" r="1.25"/><circle cx="342.1" cy="432.9" r="1.25"/><circle cx="351.2" cy="424.6" r="1.25"/><circle cx="352.7" cy="401.6" r="1.25"/><circle cx="341.0" cy="403.8" r="1.25"/><circle cx="346.1" cy="418.2" r="1.25"/><circle cx="342.6" cy="423.0" r="1.25"/><circle cx="341.1" cy="416.9" r="1.25"/><circle cx="346.7" cy="425.9" r="1.25"/><circle cx="348.4" cy="414.6" r="1.25"/><circle cx="335.5" cy="432.8" r="1.25"/><circle cx="332.3" cy="406.2" r="1.25"/><circle cx="335.9" cy="421.8" r="1.25"/><circle cx="346.3" cy="402.0" r="1.25"/><circle cx="343.7" cy="421.0" r="1.25"/><circle cx="347.9" cy="401.0" r="1.25"/><circle cx="348.9" cy="408.8" r="1.25"/><circle cx="351.7" cy="422.7" r="1.25"/><circle cx="351.0" cy="418.6" r="1.25"/><circle cx="334.0" cy="414.1" r="1.25"/><circle cx="332.1" cy="412.5" r="1.25"/><circle cx="354.9" cy="408.0" r="1.25"/><circle cx="353.6" cy="413.5" r="1.25"/><circle cx="347.5" cy="429.8" r="1.25"/><circle cx="340.3" cy="425.7" r="1.25"/><circle cx="354.6" cy="415.7" r="1.25"/><circle cx="341.2" cy="413.2" r="1.25"/><circle cx="336.8" cy="405.8" r="1.25"/><circle cx="340.6" cy="416.1" r="1.25"/><circle cx="336.1" cy="434.8" r="1.25"/><circle cx="349.5" cy="409.5" r="1.25"/><circle cx="336.8" cy="409.3" r="1.25"/><circle cx="340.9" cy="424.2" r="1.25"/><circle cx="333.3" cy="405.8" r="1.25"/><circle cx="342.4" cy="426.8" r="1.25"/><circle cx="351.4" cy="416.4" r="1.25"/><circle cx="340.4" cy="429.0" r="1.25"/><circle cx="343.1" cy="432.8" r="1.25"/><circle cx="346.8" cy="420.5" r="1.25"/><circle cx="352.0" cy="401.2" r="1.25"/><circle cx="338.1" cy="417.5" r="1.25"/><circle cx="351.1" cy="405.4" r="1.25"/><circle cx="350.2" cy="401.5" r="1.25"/><circle cx="339.8" cy="416.5" r="1.25"/><circle cx="348.6" cy="418.9" r="1.25"/><circle cx="351.9" cy="425.7" r="1.25"/><circle cx="340.6" cy="418.8" r="1.25"/><circle cx="340.7" cy="432.9" r="1.25"/><circle cx="338.7" cy="405.2" r="1.25"/><circle cx="337.2" cy="408.0" r="1.25"/><circle cx="350.9" cy="425.5" r="1.25"/><circle cx="337.2" cy="414.8" r="1.25"/><circle cx="336.7" cy="435.8" r="1.25"/><circle cx="332.1" cy="425.5" r="1.25"/><circle cx="345.1" cy="404.2" r="1.25"/><circle cx="337.0" cy="435.7" r="1.25"/><circle cx="352.3" cy="406.8" r="1.25"/><circle cx="339.6" cy="422.5" r="1.25"/><circle cx="338.6" cy="406.5" r="1.25"/><circle cx="352.3" cy="402.4" r="1.25"/><circle cx="346.6" cy="414.2" r="1.25"/><circle cx="342.7" cy="432.9" r="1.25"/><circle cx="349.3" cy="429.0" r="1.25"/><circle cx="331.7" cy="430.4" r="1.25"/><circle cx="336.8" cy="427.2" r="1.25"/><circle cx="352.3" cy="419.6" r="1.25"/><circle cx="352.8" cy="401.5" r="1.25"/><circle cx="337.6" cy="430.8" r="1.25"/><circle cx="350.5" cy="406.9" r="1.25"/><circle cx="345.1" cy="415.5" r="1.25"/><circle cx="349.2" cy="413.9" r="1.25"/><circle cx="339.0" cy="428.5" r="1.25"/><circle cx="348.1" cy="412.5" r="1.25"/><circle cx="348.6" cy="408.5" r="1.25"/><circle cx="343.4" cy="405.5" r="1.25"/><circle cx="339.6" cy="414.7" r="1.25"/><circle cx="333.4" cy="410.5" r="1.25"/><circle cx="339.8" cy="411.1" r="1.25"/><circle cx="343.6" cy="434.0" r="1.25"/><circle cx="351.9" cy="409.8" r="1.25"/><circle cx="341.0" cy="404.8" r="1.25"/><circle cx="333.5" cy="414.0" r="1.25"/><circle cx="349.9" cy="401.4" r="1.25"/><circle cx="336.5" cy="420.1" r="1.25"/><circle cx="339.1" cy="407.3" r="1.25"/><circle cx="334.1" cy="419.5" r="1.25"/><circle cx="342.4" cy="434.3" r="1.25"/><circle cx="334.8" cy="426.0" r="1.25"/><circle cx="337.0" cy="411.8" r="1.25"/><circle cx="341.9" cy="415.3" r="1.25"/><circle cx="331.9" cy="433.2" r="1.25"/><circle cx="340.5" cy="425.5" r="1.25"/><circle cx="350.6" cy="419.1" r="1.25"/><circle cx="337.0" cy="417.3" r="1.25"/><circle cx="344.4" cy="405.8" r="1.25"/><circle cx="342.1" cy="435.2" r="1.25"/><circle cx="348.8" cy="403.1" r="1.25"/><circle cx="342.0" cy="405.6" r="1.25"/><circle cx="347.2" cy="405.6" r="1.25"/><circle cx="342.5" cy="404.0" r="1.25"/><circle cx="345.8" cy="418.5" r="1.25"/><circle cx="346.3" cy="424.2" r="1.25"/><circle cx="345.9" cy="409.4" r="1.25"/><circle cx="336.4" cy="422.3" r="1.25"/><circle cx="343.1" cy="409.8" r="1.25"/><circle cx="343.3" cy="429.3" r="1.25"/><circle cx="336.1" cy="417.2" r="1.25"/><circle cx="343.0" cy="429.7" r="1.25"/><circle cx="332.0" cy="413.2" r="1.25"/><circle cx="348.5" cy="414.8" r="1.25"/><circle cx="349.7" cy="418.4" r="1.25"/><circle cx="344.3" cy="425.3" r="1.25"/><circle cx="349.8" cy="414.1" r="1.25"/><circle cx="340.1" cy="434.8" r="1.25"/><circle cx="333.1" cy="429.1" r="1.25"/><circle cx="342.5" cy="419.3" r="1.25"/><circle cx="337.4" cy="435.7" r="1.25"/><circle cx="338.7" cy="410.8" r="1.25"/><circle cx="332.7" cy="433.7" r="1.25"/><circle cx="351.4" cy="400.0" r="1.25"/><circle cx="334.9" cy="409.5" r="1.25"/><circle cx="332.0" cy="417.9" r="1.25"/><circle cx="351.8" cy="426.8" r="1.25"/><circle cx="338.7" cy="410.7" r="1.25"/><circle cx="337.7" cy="422.1" r="1.25"/><circle cx="342.6" cy="403.0" r="1.25"/><circle cx="352.5" cy="422.9" r="1.25"/><circle cx="352.2" cy="417.5" r="1.25"/><circle cx="343.3" cy="425.8" r="1.25"/><circle cx="336.2" cy="421.7" r="1.25"/><circle cx="343.4" cy="409.9" r="1.25"/><circle cx="343.3" cy="405.1" r="1.25"/><circle cx="336.3" cy="404.6" r="1.25"/><circle cx="332.0" cy="405.2" r="1.25"/><circle cx="337.7" cy="404.8" r="1.25"/><circle cx="342.8" cy="402.8" r="1.25"/><circle cx="341.3" cy="403.2" r="1.25"/><circle cx="345.7" cy="401.2" r="1.25"/><circle cx="349.5" cy="398.9" r="1.25"/><circle cx="347.0" cy="400.3" r="1.25"/><circle cx="352.4" cy="398.7" r="1.25"/><circle cx="354.2" cy="401.3" r="1.25"/><circle cx="355.1" cy="410.9" r="1.25"/><circle cx="355.1" cy="403.9" r="1.25"/><circle cx="355.7" cy="413.8" r="1.25"/><circle cx="355.2" cy="413.8" r="1.25"/><circle cx="354.8" cy="413.5" r="1.25"/><circle cx="354.9" cy="420.4" r="1.25"/><circle cx="353.5" cy="419.5" r="1.25"/><circle cx="353.0" cy="427.5" r="1.25"/><circle cx="353.9" cy="427.0" r="1.25"/><circle cx="353.7" cy="422.2" r="1.25"/><circle cx="347.8" cy="432.9" r="1.25"/><circle cx="348.8" cy="432.0" r="1.25"/><circle cx="350.6" cy="429.9" r="1.25"/><circle cx="351.7" cy="428.7" r="1.25"/><circle cx="346.4" cy="434.9" r="1.25"/><circle cx="343.4" cy="435.0" r="1.25"/><circle cx="341.6" cy="435.5" r="1.25"/><circle cx="333.8" cy="437.9" r="1.25"/><circle cx="334.1" cy="436.7" r="1.25"/><circle cx="331.1" cy="434.0" r="1.25"/><circle cx="332.6" cy="435.6" r="1.25"/><circle cx="332.2" cy="435.5" r="1.25"/><circle cx="331.6" cy="433.5" r="1.25"/><circle cx="331.9" cy="431.7" r="1.25"/><circle cx="331.7" cy="406.5" r="1.25"/><circle cx="331.2" cy="416.1" r="1.25"/><circle cx="331.7" cy="415.1" r="1.25"/><circle cx="332.1" cy="411.7" r="1.25"/><circle cx="332.1" cy="411.7" r="1.25"/><circle cx="331.1" cy="408.9" r="1.25"/><circle cx="331.6" cy="409.5" r="1.25"/><circle cx="331.0" cy="413.0" r="1.25"/></g>
<polygon points="331.3,426.2 338.0,428.0 344.8,433.0 344.0,438.0 338.0,439.7 332.0,438.5" fill="#32e6d2" fill-opacity="0.55"/>
<g fill="#32e6d2"><circle cx="333.5" cy="433.3" r="1.25"/><circle cx="341.0" cy="433.9" r="1.25"/><circle cx="331.9" cy="436.8" r="1.25"/><circle cx="340.4" cy="430.6" r="1.25"/><circle cx="343.8" cy="432.9" r="1.25"/><circle cx="335.4" cy="436.4" r="1.25"/><circle cx="340.5" cy="435.7" r="1.25"/><circle cx="334.6" cy="430.3" r="1.25"/><circle cx="337.1" cy="428.1" r="1.25"/><circle cx="335.8" cy="430.8" r="1.25"/><circle cx="332.8" cy="437.0" r="1.25"/><circle cx="331.7" cy="428.9" r="1.25"/><circle cx="338.3" cy="433.3" r="1.25"/><circle cx="336.7" cy="437.0" r="1.25"/><circle cx="338.1" cy="430.9" r="1.25"/><circle cx="341.5" cy="433.0" r="1.25"/><circle cx="336.8" cy="435.9" r="1.25"/><circle cx="333.4" cy="432.6" r="1.25"/><circle cx="334.0" cy="437.9" r="1.25"/><circle cx="341.9" cy="431.6" r="1.25"/><circle cx="341.9" cy="433.5" r="1.25"/><circle cx="341.7" cy="435.0" r="1.25"/><circle cx="336.7" cy="436.7" r="1.25"/><circle cx="334.8" cy="436.5" r="1.25"/><circle cx="335.0" cy="431.0" r="1.25"/><circle cx="341.8" cy="434.8" r="1.25"/><circle cx="336.5" cy="435.4" r="1.25"/><circle cx="343.0" cy="433.2" r="1.25"/><circle cx="339.9" cy="437.8" r="1.25"/><circle cx="334.2" cy="432.5" r="1.25"/><circle cx="336.6" cy="433.5" r="1.25"/><circle cx="337.4" cy="433.0" r="1.25"/><circle cx="332.4" cy="432.4" r="1.25"/><circle cx="333.0" cy="432.4" r="1.25"/><circle cx="333.6" cy="432.2" r="1.25"/><circle cx="334.1" cy="432.2" r="1.25"/><circle cx="339.5" cy="435.3" r="1.25"/><circle cx="333.0" cy="437.6" r="1.25"/><circle cx="333.1" cy="426.8" r="1.25"/><circle cx="335.2" cy="427.7" r="1.25"/><circle cx="333.9" cy="427.5" r="1.25"/><circle cx="342.9" cy="432.0" r="1.25"/><circle cx="341.4" cy="430.2" r="1.25"/><circle cx="341.4" cy="430.4" r="1.25"/><circle cx="345.3" cy="434.9" r="1.25"/><circle cx="344.3" cy="438.1" r="1.25"/><circle cx="338.6" cy="439.9" r="1.25"/><circle cx="341.6" cy="439.4" r="1.25"/><circle cx="338.7" cy="439.0" r="1.25"/><circle cx="333.5" cy="439.3" r="1.25"/><circle cx="331.1" cy="433.7" r="1.25"/><circle cx="332.5" cy="435.3" r="1.25"/><circle cx="331.5" cy="432.0" r="1.25"/><circle cx="331.8" cy="433.7" r="1.25"/><circle cx="331.1" cy="434.0" r="1.25"/></g>
<g fill="#32e6d2"><circle cx="334.3" cy="432.9" r="1.2"/><circle cx="332.7" cy="427.5" r="1.2"/><circle cx="342.7" cy="432.4" r="1.2"/><circle cx="340.1" cy="432.1" r="1.2"/><circle cx="342.5" cy="431.3" r="1.2"/><circle cx="332.1" cy="430.6" r="1.2"/><circle cx="337.6" cy="434.3" r="1.2"/><circle cx="332.1" cy="429.6" r="1.2"/><circle cx="331.5" cy="431.9" r="1.2"/><circle cx="333.2" cy="428.2" r="1.2"/><circle cx="334.9" cy="428.5" r="1.2"/><circle cx="334.5" cy="428.2" r="1.2"/><circle cx="335.1" cy="431.9" r="1.2"/><circle cx="337.8" cy="433.3" r="1.2"/><circle cx="337.9" cy="429.1" r="1.2"/><circle cx="333.5" cy="430.1" r="1.2"/></g>
<defs><linearGradient id="gE1" gradientUnits="userSpaceOnUse" x1="0" y1="294" x2="0" y2="398"><stop offset="0" stop-color="#f58214"/><stop offset="0.35" stop-color="#f59614"/><stop offset="1" stop-color="#f5aa14"/></linearGradient></defs>
<polygon points="370.3,294.0 371.5,300.0 371.5,310.0 371.0,318.0 372.2,326.0 373.0,334.0 374.5,340.0 373.4,351.2 372.3,362.4 371.2,373.6 368.9,384.7 366.7,393.7 364.5,397.0 363.4,390.3 363.4,373.6 364.5,356.8 365.6,345.0 367.0,336.0 367.6,326.0 368.2,316.0 369.0,306.0 369.4,298.0" fill="url(#gE1)" fill-opacity="0.85"/>
<g fill="#f59614"><circle cx="369.4" cy="366.1" r="1.25"/><circle cx="363.6" cy="373.3" r="1.25"/><circle cx="364.3" cy="360.6" r="1.25"/><circle cx="365.9" cy="382.9" r="1.25"/><circle cx="364.6" cy="382.7" r="1.25"/><circle cx="365.9" cy="373.3" r="1.25"/><circle cx="369.8" cy="351.5" r="1.25"/><circle cx="369.2" cy="318.3" r="1.25"/><circle cx="372.3" cy="338.3" r="1.25"/><circle cx="366.3" cy="373.6" r="1.25"/><circle cx="364.9" cy="373.9" r="1.25"/><circle cx="368.7" cy="347.2" r="1.25"/><circle cx="367.5" cy="355.5" r="1.25"/><circle cx="364.1" cy="387.2" r="1.25"/><circle cx="365.6" cy="389.4" r="1.25"/><circle cx="368.6" cy="379.5" r="1.25"/><circle cx="366.2" cy="356.0" r="1.25"/><circle cx="371.7" cy="329.2" r="1.25"/><circle cx="370.4" cy="336.2" r="1.25"/><circle cx="370.0" cy="309.9" r="1.25"/><circle cx="365.8" cy="381.0" r="1.25"/><circle cx="372.3" cy="358.9" r="1.25"/><circle cx="370.8" cy="360.7" r="1.25"/><circle cx="373.8" cy="340.9" r="1.25"/><circle cx="371.4" cy="342.4" r="1.25"/><circle cx="366.7" cy="339.5" r="1.25"/><circle cx="365.6" cy="364.8" r="1.25"/><circle cx="369.5" cy="371.7" r="1.25"/><circle cx="366.9" cy="353.2" r="1.25"/><circle cx="370.1" cy="305.8" r="1.25"/><circle cx="364.7" cy="385.5" r="1.25"/><circle cx="371.6" cy="354.5" r="1.25"/><circle cx="368.8" cy="360.9" r="1.25"/><circle cx="369.4" cy="321.8" r="1.25"/><circle cx="367.5" cy="385.0" r="1.25"/><circle cx="369.2" cy="344.6" r="1.25"/><circle cx="370.4" cy="312.2" r="1.25"/><circle cx="367.5" cy="339.3" r="1.25"/><circle cx="369.7" cy="356.1" r="1.25"/><circle cx="369.7" cy="309.9" r="1.25"/><circle cx="366.9" cy="373.3" r="1.25"/><circle cx="367.6" cy="339.1" r="1.25"/><circle cx="369.8" cy="313.1" r="1.25"/><circle cx="369.0" cy="353.6" r="1.25"/><circle cx="370.4" cy="368.6" r="1.25"/><circle cx="369.6" cy="330.8" r="1.25"/><circle cx="369.1" cy="362.7" r="1.25"/><circle cx="368.3" cy="369.9" r="1.25"/><circle cx="369.6" cy="300.1" r="1.25"/><circle cx="369.3" cy="314.7" r="1.25"/><circle cx="367.4" cy="370.9" r="1.25"/><circle cx="372.7" cy="334.3" r="1.25"/><circle cx="369.6" cy="328.0" r="1.25"/><circle cx="365.5" cy="365.0" r="1.25"/><circle cx="370.2" cy="334.2" r="1.25"/><circle cx="372.2" cy="334.0" r="1.25"/><circle cx="372.1" cy="357.6" r="1.25"/><circle cx="370.1" cy="319.1" r="1.25"/><circle cx="367.0" cy="361.8" r="1.25"/><circle cx="370.6" cy="365.4" r="1.25"/><circle cx="371.2" cy="360.5" r="1.25"/><circle cx="367.2" cy="376.9" r="1.25"/><circle cx="369.9" cy="336.9" r="1.25"/><circle cx="369.6" cy="345.5" r="1.25"/><circle cx="369.7" cy="327.0" r="1.25"/><circle cx="372.4" cy="347.5" r="1.25"/><circle cx="366.0" cy="354.2" r="1.25"/><circle cx="372.0" cy="345.3" r="1.25"/><circle cx="367.0" cy="350.0" r="1.25"/><circle cx="371.1" cy="312.8" r="1.25"/><circle cx="373.2" cy="336.2" r="1.25"/><circle cx="368.0" cy="347.5" r="1.25"/><circle cx="367.5" cy="386.3" r="1.25"/><circle cx="370.2" cy="322.9" r="1.25"/><circle cx="370.5" cy="346.5" r="1.25"/><circle cx="369.1" cy="333.2" r="1.25"/><circle cx="368.3" cy="378.4" r="1.25"/><circle cx="368.3" cy="349.9" r="1.25"/><circle cx="369.9" cy="348.3" r="1.25"/><circle cx="365.5" cy="373.6" r="1.25"/><circle cx="370.9" cy="308.0" r="1.25"/><circle cx="372.8" cy="332.8" r="1.25"/><circle cx="367.5" cy="348.7" r="1.25"/><circle cx="366.3" cy="355.9" r="1.25"/><circle cx="368.4" cy="335.6" r="1.25"/><circle cx="364.9" cy="376.2" r="1.25"/><circle cx="371.7" cy="358.2" r="1.25"/><circle cx="367.0" cy="366.6" r="1.25"/><circle cx="371.9" cy="329.8" r="1.25"/><circle cx="364.8" cy="363.6" r="1.25"/><circle cx="371.0" cy="356.7" r="1.25"/><circle cx="369.1" cy="340.6" r="1.25"/><circle cx="365.5" cy="378.2" r="1.25"/><circle cx="370.2" cy="317.9" r="1.25"/><circle cx="363.4" cy="383.4" r="1.25"/><circle cx="367.1" cy="378.8" r="1.25"/><circle cx="371.5" cy="368.8" r="1.25"/><circle cx="367.0" cy="388.8" r="1.25"/><circle cx="373.0" cy="350.3" r="1.25"/><circle cx="368.2" cy="361.3" r="1.25"/><circle cx="363.8" cy="390.5" r="1.25"/><circle cx="368.8" cy="343.3" r="1.25"/><circle cx="368.8" cy="368.0" r="1.25"/><circle cx="365.4" cy="375.9" r="1.25"/><circle cx="368.1" cy="329.7" r="1.25"/><circle cx="369.2" cy="381.3" r="1.25"/><circle cx="365.3" cy="366.2" r="1.25"/><circle cx="368.0" cy="341.5" r="1.25"/><circle cx="370.3" cy="352.6" r="1.25"/><circle cx="370.2" cy="348.5" r="1.25"/><circle cx="368.7" cy="329.1" r="1.25"/><circle cx="369.0" cy="339.8" r="1.25"/><circle cx="369.5" cy="362.9" r="1.25"/><circle cx="370.2" cy="353.9" r="1.25"/><circle cx="368.4" cy="341.3" r="1.25"/><circle cx="364.2" cy="377.1" r="1.25"/><circle cx="368.7" cy="329.7" r="1.25"/><circle cx="366.8" cy="391.4" r="1.25"/><circle cx="367.1" cy="353.6" r="1.25"/><circle cx="368.0" cy="362.2" r="1.25"/><circle cx="369.6" cy="348.8" r="1.25"/><circle cx="369.2" cy="322.8" r="1.25"/><circle cx="371.6" cy="327.5" r="1.25"/><circle cx="367.1" cy="360.5" r="1.25"/><circle cx="367.3" cy="356.4" r="1.25"/><circle cx="366.1" cy="363.9" r="1.25"/><circle cx="369.0" cy="359.5" r="1.25"/><circle cx="371.9" cy="330.9" r="1.25"/><circle cx="366.4" cy="361.4" r="1.25"/><circle cx="366.8" cy="345.2" r="1.25"/><circle cx="370.4" cy="351.3" r="1.25"/><circle cx="366.0" cy="374.3" r="1.25"/><circle cx="371.1" cy="311.0" r="1.25"/><circle cx="372.4" cy="329.9" r="1.25"/><circle cx="367.8" cy="325.4" r="1.25"/><circle cx="369.3" cy="349.4" r="1.25"/><circle cx="366.6" cy="354.5" r="1.25"/><circle cx="363.9" cy="368.4" r="1.25"/><circle cx="374.0" cy="341.0" r="1.25"/><circle cx="368.5" cy="354.3" r="1.25"/><circle cx="367.6" cy="389.6" r="1.25"/><circle cx="365.8" cy="344.2" r="1.25"/><circle cx="371.1" cy="370.9" r="1.25"/><circle cx="371.1" cy="306.9" r="1.25"/><circle cx="372.0" cy="363.2" r="1.25"/><circle cx="370.9" cy="366.3" r="1.25"/><circle cx="367.4" cy="382.7" r="1.25"/><circle cx="368.0" cy="376.2" r="1.25"/><circle cx="365.7" cy="349.8" r="1.25"/><circle cx="371.1" cy="303.1" r="1.25"/><circle cx="372.5" cy="352.2" r="1.25"/><circle cx="370.3" cy="316.9" r="1.25"/><circle cx="366.2" cy="389.8" r="1.25"/><circle cx="368.0" cy="382.6" r="1.25"/><circle cx="369.1" cy="343.7" r="1.25"/><circle cx="364.6" cy="388.4" r="1.25"/><circle cx="370.4" cy="347.3" r="1.25"/><circle cx="373.5" cy="337.7" r="1.25"/><circle cx="367.8" cy="381.9" r="1.25"/><circle cx="364.2" cy="367.0" r="1.25"/><circle cx="364.3" cy="384.7" r="1.25"/><circle cx="369.9" cy="296.3" r="1.25"/><circle cx="371.3" cy="358.3" r="1.25"/><circle cx="370.9" cy="372.8" r="1.25"/><circle cx="369.6" cy="322.1" r="1.25"/><circle cx="366.0" cy="358.3" r="1.25"/><circle cx="370.5" cy="363.5" r="1.25"/><circle cx="369.3" cy="305.1" r="1.25"/><circle cx="371.3" cy="294.9" r="1.25"/><circle cx="370.9" cy="299.0" r="1.25"/><circle cx="372.0" cy="300.9" r="1.25"/><circle cx="371.3" cy="302.5" r="1.25"/><circle cx="371.2" cy="306.3" r="1.25"/><circle cx="371.1" cy="305.9" r="1.25"/><circle cx="371.4" cy="314.4" r="1.25"/><circle cx="371.8" cy="313.6" r="1.25"/><circle cx="371.9" cy="314.9" r="1.25"/><circle cx="370.9" cy="321.8" r="1.25"/><circle cx="372.3" cy="322.9" r="1.25"/><circle cx="371.7" cy="320.4" r="1.25"/><circle cx="372.8" cy="330.5" r="1.25"/><circle cx="372.8" cy="328.0" r="1.25"/><circle cx="372.1" cy="331.1" r="1.25"/><circle cx="373.3" cy="335.0" r="1.25"/><circle cx="373.5" cy="336.5" r="1.25"/><circle cx="374.7" cy="346.8" r="1.25"/><circle cx="373.5" cy="347.0" r="1.25"/><circle cx="373.3" cy="347.9" r="1.25"/><circle cx="374.4" cy="346.6" r="1.25"/><circle cx="373.7" cy="345.1" r="1.25"/><circle cx="373.6" cy="354.0" r="1.25"/><circle cx="372.2" cy="357.5" r="1.25"/><circle cx="372.1" cy="358.0" r="1.25"/><circle cx="373.2" cy="353.5" r="1.25"/><circle cx="372.1" cy="362.9" r="1.25"/><circle cx="372.7" cy="363.4" r="1.25"/><circle cx="371.6" cy="367.5" r="1.25"/><circle cx="371.6" cy="366.5" r="1.25"/><circle cx="371.6" cy="369.5" r="1.25"/><circle cx="371.8" cy="371.0" r="1.25"/><circle cx="370.3" cy="376.4" r="1.25"/><circle cx="369.6" cy="378.5" r="1.25"/><circle cx="370.2" cy="376.8" r="1.25"/><circle cx="370.2" cy="377.0" r="1.25"/><circle cx="370.2" cy="378.4" r="1.25"/><circle cx="367.0" cy="392.8" r="1.25"/><circle cx="366.6" cy="391.6" r="1.25"/><circle cx="366.8" cy="391.3" r="1.25"/><circle cx="367.3" cy="393.3" r="1.25"/><circle cx="364.9" cy="395.9" r="1.25"/><circle cx="363.3" cy="392.4" r="1.25"/><circle cx="364.6" cy="393.2" r="1.25"/><circle cx="363.2" cy="393.3" r="1.25"/><circle cx="363.1" cy="375.8" r="1.25"/><circle cx="363.3" cy="378.6" r="1.25"/><circle cx="363.1" cy="388.9" r="1.25"/><circle cx="363.8" cy="376.1" r="1.25"/><circle cx="363.4" cy="379.4" r="1.25"/><circle cx="363.5" cy="383.4" r="1.25"/><circle cx="363.2" cy="384.4" r="1.25"/><circle cx="364.6" cy="362.6" r="1.25"/><circle cx="363.9" cy="363.2" r="1.25"/><circle cx="362.7" cy="372.9" r="1.25"/><circle cx="363.2" cy="371.4" r="1.25"/><circle cx="363.7" cy="370.2" r="1.25"/><circle cx="363.9" cy="370.1" r="1.25"/><circle cx="364.2" cy="358.1" r="1.25"/><circle cx="365.3" cy="348.7" r="1.25"/><circle cx="364.7" cy="352.4" r="1.25"/><circle cx="365.1" cy="355.0" r="1.25"/><circle cx="364.7" cy="350.2" r="1.25"/><circle cx="364.6" cy="352.1" r="1.25"/><circle cx="366.7" cy="342.4" r="1.25"/><circle cx="366.2" cy="343.3" r="1.25"/><circle cx="367.1" cy="339.0" r="1.25"/><circle cx="366.7" cy="340.8" r="1.25"/><circle cx="367.7" cy="328.5" r="1.25"/><circle cx="367.3" cy="328.3" r="1.25"/><circle cx="368.2" cy="327.4" r="1.25"/><circle cx="368.0" cy="327.1" r="1.25"/><circle cx="367.4" cy="322.3" r="1.25"/><circle cx="368.0" cy="318.7" r="1.25"/><circle cx="368.2" cy="324.0" r="1.25"/><circle cx="367.8" cy="323.6" r="1.25"/><circle cx="368.0" cy="312.5" r="1.25"/><circle cx="368.6" cy="310.4" r="1.25"/><circle cx="368.8" cy="316.5" r="1.25"/><circle cx="368.3" cy="316.4" r="1.25"/><circle cx="370.1" cy="299.9" r="1.25"/><circle cx="368.8" cy="299.7" r="1.25"/><circle cx="369.6" cy="298.7" r="1.25"/><circle cx="369.5" cy="296.3" r="1.25"/></g>
<g fill="#f04614"><circle cx="357.5" cy="320.9" r="1.60"/><circle cx="357.2" cy="319.2" r="1.60"/><circle cx="357.7" cy="318.6" r="1.60"/><circle cx="358.4" cy="317.6" r="1.60"/><circle cx="359.1" cy="316.6" r="1.60"/><circle cx="360.7" cy="315.6" r="1.60"/><circle cx="360.8" cy="314.3" r="1.60"/><circle cx="361.3" cy="314.5" r="1.60"/><circle cx="363.4" cy="313.9" r="1.60"/><circle cx="364.2" cy="314.3" r="1.60"/><circle cx="365.6" cy="314.6" r="1.60"/><circle cx="366.9" cy="315.6" r="1.60"/><circle cx="367.7" cy="315.5" r="1.60"/><circle cx="367.7" cy="316.6" r="1.60"/><circle cx="367.7" cy="317.8" r="1.60"/><circle cx="368.4" cy="319.8" r="1.60"/><circle cx="369.2" cy="320.0" r="1.60"/><circle cx="368.9" cy="320.9" r="1.60"/></g>
<g fill="#a81414"><circle cx="353.8" cy="302.8" r="1.70"/><circle cx="353.2" cy="303.9" r="1.70"/><circle cx="353.5" cy="303.6" r="1.70"/><circle cx="353.4" cy="305.8" r="1.70"/><circle cx="354.5" cy="306.4" r="1.70"/><circle cx="353.7" cy="307.5" r="1.70"/><circle cx="354.3" cy="309.4" r="1.70"/><circle cx="354.0" cy="309.3" r="1.70"/><circle cx="355.0" cy="311.3" r="1.70"/><circle cx="354.5" cy="312.5" r="1.70"/><circle cx="354.2" cy="313.2" r="1.70"/><circle cx="354.7" cy="313.8" r="1.70"/><circle cx="354.9" cy="316.0" r="1.70"/><circle cx="354.8" cy="315.9" r="1.70"/><circle cx="355.6" cy="318.3" r="1.70"/><circle cx="355.7" cy="318.4" r="1.70"/><circle cx="356.7" cy="319.5" r="1.70"/><circle cx="356.2" cy="321.7" r="1.70"/><circle cx="356.1" cy="322.7" r="1.70"/><circle cx="356.4" cy="323.1" r="1.70"/><circle cx="356.7" cy="324.5" r="1.70"/><circle cx="356.1" cy="325.6" r="1.70"/><circle cx="357.2" cy="325.4" r="1.70"/><circle cx="356.2" cy="327.7" r="1.70"/><circle cx="356.7" cy="329.0" r="1.70"/><circle cx="355.7" cy="329.5" r="1.70"/><circle cx="356.8" cy="330.5" r="1.70"/><circle cx="356.1" cy="331.3" r="1.70"/><circle cx="356.3" cy="332.6" r="1.70"/><circle cx="355.2" cy="334.1" r="1.70"/><circle cx="356.1" cy="334.9" r="1.70"/><circle cx="355.5" cy="336.0" r="1.70"/></g>
<g fill="#a81414"><circle cx="351.9" cy="305.9" r="1.20"/><circle cx="353.5" cy="305.5" r="1.20"/></g>
<g fill="#e61414"><circle cx="355.8" cy="335.8" r="1.80"/><circle cx="354.9" cy="337.6" r="1.80"/><circle cx="354.8" cy="337.6" r="1.80"/><circle cx="355.6" cy="339.8" r="1.80"/><circle cx="354.2" cy="339.9" r="1.80"/><circle cx="354.0" cy="340.9" r="1.80"/><circle cx="354.4" cy="342.7" r="1.80"/><circle cx="355.3" cy="343.0" r="1.80"/><circle cx="354.9" cy="344.4" r="1.80"/><circle cx="354.2" cy="346.0" r="1.80"/><circle cx="354.7" cy="346.4" r="1.80"/><circle cx="354.4" cy="347.3" r="1.80"/><circle cx="354.2" cy="348.4" r="1.80"/><circle cx="354.0" cy="349.6" r="1.80"/><circle cx="353.8" cy="350.6" r="1.80"/><circle cx="354.9" cy="350.3" r="1.80"/><circle cx="354.7" cy="352.0" r="1.80"/><circle cx="354.4" cy="353.9" r="1.80"/><circle cx="354.2" cy="355.1" r="1.80"/><circle cx="353.8" cy="355.5" r="1.80"/><circle cx="355.0" cy="356.3" r="1.80"/><circle cx="354.0" cy="357.0" r="1.80"/><circle cx="355.1" cy="359.3" r="1.80"/><circle cx="354.8" cy="359.1" r="1.80"/><circle cx="355.2" cy="360.6" r="1.80"/><circle cx="353.9" cy="361.4" r="1.80"/><circle cx="355.2" cy="363.1" r="1.80"/><circle cx="354.1" cy="363.9" r="1.80"/><circle cx="354.4" cy="363.3" r="1.80"/><circle cx="354.1" cy="365.1" r="1.80"/><circle cx="354.9" cy="367.0" r="1.80"/><circle cx="354.4" cy="367.3" r="1.80"/><circle cx="354.4" cy="368.8" r="1.80"/><circle cx="355.1" cy="369.7" r="1.80"/><circle cx="354.5" cy="370.6" r="1.80"/><circle cx="355.7" cy="370.5" r="1.80"/><circle cx="355.4" cy="372.8" r="1.80"/><circle cx="355.7" cy="373.1" r="1.80"/><circle cx="355.1" cy="373.6" r="1.80"/><circle cx="355.2" cy="375.9" r="1.80"/><circle cx="355.6" cy="376.8" r="1.80"/><circle cx="355.6" cy="378.0" r="1.80"/><circle cx="355.7" cy="379.0" r="1.80"/><circle cx="354.5" cy="379.3" r="1.80"/><circle cx="354.9" cy="380.3" r="1.80"/><circle cx="354.9" cy="381.3" r="1.80"/><circle cx="355.3" cy="381.8" r="1.80"/><circle cx="355.0" cy="383.6" r="1.80"/><circle cx="355.4" cy="383.7" r="1.80"/><circle cx="355.6" cy="384.7" r="1.80"/><circle cx="355.1" cy="385.7" r="1.80"/><circle cx="355.1" cy="386.7" r="1.80"/><circle cx="355.0" cy="388.2" r="1.80"/><circle cx="354.8" cy="390.2" r="1.80"/><circle cx="355.3" cy="389.6" r="1.80"/><circle cx="355.3" cy="391.9" r="1.80"/><circle cx="355.3" cy="391.5" r="1.80"/><circle cx="354.5" cy="394.1" r="1.80"/><circle cx="355.6" cy="394.2" r="1.80"/><circle cx="355.5" cy="395.6" r="1.80"/><circle cx="354.8" cy="396.0" r="1.80"/></g>
<g fill="#b41414"><circle cx="355.0" cy="366.3" r="1.20"/><circle cx="355.5" cy="368.1" r="1.20"/><circle cx="354.7" cy="369.2" r="1.20"/><circle cx="355.3" cy="370.4" r="1.20"/><circle cx="354.8" cy="371.6" r="1.20"/><circle cx="355.3" cy="372.7" r="1.20"/><circle cx="355.2" cy="374.1" r="1.20"/><circle cx="355.2" cy="376.5" r="1.20"/><circle cx="355.9" cy="377.6" r="1.20"/><circle cx="356.0" cy="378.3" r="1.20"/><circle cx="355.3" cy="379.5" r="1.20"/><circle cx="355.7" cy="380.5" r="1.20"/><circle cx="355.5" cy="382.0" r="1.20"/></g>
<g fill="#e61414"><circle cx="361.0" cy="358.5" r="1.30"/><circle cx="360.1" cy="358.4" r="1.30"/><circle cx="361.3" cy="360.1" r="1.30"/><circle cx="360.5" cy="362.0" r="1.30"/><circle cx="361.0" cy="362.3" r="1.30"/><circle cx="361.1" cy="363.7" r="1.30"/><circle cx="361.1" cy="365.1" r="1.30"/><circle cx="361.3" cy="366.2" r="1.30"/><circle cx="360.1" cy="367.2" r="1.30"/><circle cx="360.7" cy="368.0" r="1.30"/><circle cx="360.7" cy="369.1" r="1.30"/><circle cx="361.3" cy="370.4" r="1.30"/><circle cx="361.4" cy="372.2" r="1.30"/><circle cx="360.4" cy="372.5" r="1.30"/><circle cx="361.4" cy="373.9" r="1.30"/><circle cx="361.1" cy="375.4" r="1.30"/><circle cx="360.5" cy="376.4" r="1.30"/><circle cx="360.9" cy="377.4" r="1.30"/><circle cx="360.9" cy="378.4" r="1.30"/><circle cx="360.7" cy="379.3" r="1.30"/><circle cx="360.6" cy="380.7" r="1.30"/><circle cx="361.7" cy="380.8" r="1.30"/><circle cx="361.7" cy="383.0" r="1.30"/><circle cx="361.4" cy="383.7" r="1.30"/><circle cx="360.6" cy="384.1" r="1.30"/><circle cx="361.0" cy="386.6" r="1.30"/><circle cx="361.3" cy="387.7" r="1.30"/><circle cx="361.7" cy="388.2" r="1.30"/><circle cx="360.9" cy="389.2" r="1.30"/><circle cx="361.2" cy="390.2" r="1.30"/><circle cx="360.7" cy="391.6" r="1.30"/><circle cx="361.8" cy="393.4" r="1.30"/><circle cx="361.6" cy="393.3" r="1.30"/><circle cx="361.7" cy="395.9" r="1.30"/><circle cx="361.5" cy="396.0" r="1.30"/></g>
<g fill="#a81414"><circle cx="363.5" cy="389.9" r="1.30"/><circle cx="364.1" cy="391.6" r="1.30"/><circle cx="363.7" cy="393.0" r="1.30"/><circle cx="364.1" cy="395.0" r="1.30"/><circle cx="364.7" cy="395.6" r="1.30"/><circle cx="364.1" cy="397.2" r="1.30"/><circle cx="364.3" cy="397.6" r="1.30"/><circle cx="365.3" cy="400.0" r="1.30"/><circle cx="365.0" cy="401.3" r="1.30"/><circle cx="364.9" cy="403.2" r="1.30"/><circle cx="364.1" cy="404.6" r="1.30"/><circle cx="363.7" cy="405.1" r="1.30"/><circle cx="364.3" cy="406.6" r="1.30"/><circle cx="363.6" cy="407.4" r="1.30"/></g>
<g fill="#a81414"><circle cx="348.8" cy="321.5" r="1.4"/><circle cx="350.5" cy="323.5" r="1.4"/><circle cx="352.5" cy="325.0" r="1.4"/><circle cx="351.0" cy="327.2" r="1.4"/><circle cx="349.8" cy="325.8" r="1.4"/></g>
<g fill="#e61414"><circle cx="361.1" cy="305.4" r="1.4"/><circle cx="361.1" cy="305.7" r="1.4"/></g>
<g fill="#0a32e6"><circle cx="378.0" cy="301.4" r="1.50"/><circle cx="378.0" cy="302.3" r="1.50"/><circle cx="377.3" cy="302.8" r="1.50"/><circle cx="377.1" cy="303.8" r="1.50"/><circle cx="377.1" cy="304.9" r="1.50"/><circle cx="376.2" cy="306.7" r="1.50"/><circle cx="376.1" cy="307.2" r="1.50"/><circle cx="375.6" cy="308.4" r="1.50"/><circle cx="374.9" cy="309.4" r="1.50"/><circle cx="375.7" cy="310.6" r="1.50"/><circle cx="374.5" cy="311.6" r="1.50"/><circle cx="374.4" cy="312.7" r="1.50"/><circle cx="374.3" cy="313.1" r="1.50"/><circle cx="374.0" cy="314.1" r="1.50"/><circle cx="373.9" cy="315.7" r="1.50"/><circle cx="374.7" cy="317.5" r="1.50"/><circle cx="374.1" cy="318.8" r="1.50"/><circle cx="373.6" cy="319.4" r="1.50"/><circle cx="374.7" cy="320.1" r="1.50"/><circle cx="374.5" cy="322.2" r="1.50"/><circle cx="374.9" cy="322.5" r="1.50"/><circle cx="375.3" cy="324.0" r="1.50"/><circle cx="374.8" cy="325.5" r="1.50"/><circle cx="375.6" cy="326.5" r="1.50"/><circle cx="375.2" cy="326.7" r="1.50"/><circle cx="375.1" cy="328.4" r="1.50"/><circle cx="374.2" cy="328.7" r="1.50"/><circle cx="374.5" cy="330.6" r="1.50"/><circle cx="374.3" cy="331.4" r="1.50"/><circle cx="373.6" cy="333.1" r="1.50"/><circle cx="373.6" cy="334.1" r="1.50"/><circle cx="374.3" cy="335.4" r="1.50"/><circle cx="374.4" cy="335.9" r="1.50"/><circle cx="374.2" cy="337.6" r="1.50"/><circle cx="373.9" cy="338.7" r="1.50"/><circle cx="373.8" cy="339.8" r="1.50"/><circle cx="374.0" cy="340.1" r="1.50"/><circle cx="374.8" cy="341.8" r="1.50"/><circle cx="374.6" cy="342.8" r="1.50"/><circle cx="374.6" cy="344.1" r="1.50"/><circle cx="375.3" cy="344.9" r="1.50"/><circle cx="375.4" cy="346.2" r="1.50"/><circle cx="375.8" cy="346.8" r="1.50"/><circle cx="375.6" cy="347.7" r="1.50"/></g>
<g fill="#1e96f0"><circle cx="376.5" cy="318.5" r="1.20"/><circle cx="376.0" cy="319.7" r="1.20"/><circle cx="376.3" cy="321.5" r="1.20"/><circle cx="376.7" cy="322.5" r="1.20"/><circle cx="376.3" cy="323.5" r="1.20"/><circle cx="376.3" cy="325.2" r="1.20"/><circle cx="376.8" cy="326.5" r="1.20"/><circle cx="376.8" cy="327.5" r="1.20"/><circle cx="376.8" cy="328.9" r="1.20"/><circle cx="377.0" cy="330.0" r="1.20"/><circle cx="376.5" cy="331.9" r="1.20"/><circle cx="376.8" cy="333.1" r="1.20"/><circle cx="375.7" cy="334.3" r="1.20"/><circle cx="375.8" cy="335.8" r="1.20"/><circle cx="376.0" cy="337.5" r="1.20"/><circle cx="376.9" cy="339.7" r="1.20"/><circle cx="376.5" cy="340.0" r="1.20"/></g>
<polygon points="371.2,352.3 375.0,350.5 380.1,356.0 381.0,362.4 382.4,366.0 381.3,372.0 378.0,378.0 374.0,382.0 372.0,390.0 376.0,394.0 377.0,398.2 370.0,398.2 367.0,393.0 369.0,384.0 371.0,374.0 370.3,366.0 371.6,358.0" fill="#0a14c8" fill-opacity="0.3"/>
<g fill="#0a14c8"><circle cx="371.7" cy="361.6" r="1.25"/><circle cx="374.4" cy="395.0" r="1.25"/><circle cx="374.9" cy="397.4" r="1.25"/><circle cx="371.7" cy="386.3" r="1.25"/><circle cx="377.5" cy="354.6" r="1.25"/><circle cx="374.1" cy="373.4" r="1.25"/><circle cx="371.8" cy="369.6" r="1.25"/><circle cx="381.7" cy="366.1" r="1.25"/><circle cx="374.2" cy="357.7" r="1.25"/><circle cx="371.4" cy="385.2" r="1.25"/><circle cx="377.6" cy="354.8" r="1.25"/><circle cx="368.9" cy="391.8" r="1.25"/><circle cx="376.5" cy="375.4" r="1.25"/><circle cx="372.7" cy="358.0" r="1.25"/><circle cx="371.0" cy="391.9" r="1.25"/><circle cx="370.5" cy="384.0" r="1.25"/><circle cx="371.1" cy="368.8" r="1.25"/><circle cx="380.3" cy="364.7" r="1.25"/><circle cx="380.6" cy="363.2" r="1.25"/><circle cx="372.5" cy="369.2" r="1.25"/><circle cx="379.2" cy="363.3" r="1.25"/><circle cx="376.1" cy="366.5" r="1.25"/><circle cx="378.4" cy="370.5" r="1.25"/><circle cx="372.5" cy="365.6" r="1.25"/><circle cx="374.7" cy="357.0" r="1.25"/><circle cx="371.0" cy="380.9" r="1.25"/><circle cx="370.0" cy="394.3" r="1.25"/><circle cx="375.1" cy="365.8" r="1.25"/><circle cx="373.1" cy="357.0" r="1.25"/><circle cx="371.8" cy="396.5" r="1.25"/><circle cx="373.3" cy="358.6" r="1.25"/><circle cx="373.7" cy="360.8" r="1.25"/><circle cx="376.8" cy="372.9" r="1.25"/><circle cx="371.0" cy="390.7" r="1.25"/><circle cx="380.3" cy="363.0" r="1.25"/><circle cx="375.2" cy="394.9" r="1.25"/><circle cx="367.9" cy="392.1" r="1.25"/><circle cx="380.3" cy="371.3" r="1.25"/><circle cx="379.2" cy="357.7" r="1.25"/><circle cx="371.6" cy="382.1" r="1.25"/><circle cx="379.8" cy="374.0" r="1.25"/><circle cx="377.6" cy="372.2" r="1.25"/><circle cx="376.0" cy="364.1" r="1.25"/><circle cx="370.1" cy="392.0" r="1.25"/><circle cx="375.5" cy="365.8" r="1.25"/><circle cx="371.5" cy="366.6" r="1.25"/><circle cx="375.0" cy="358.0" r="1.25"/><circle cx="373.9" cy="367.2" r="1.25"/><circle cx="373.0" cy="368.0" r="1.25"/><circle cx="367.7" cy="392.7" r="1.25"/><circle cx="371.7" cy="386.2" r="1.25"/><circle cx="381.6" cy="368.7" r="1.25"/><circle cx="372.4" cy="382.8" r="1.25"/><circle cx="377.0" cy="355.7" r="1.25"/><circle cx="371.8" cy="372.2" r="1.25"/><circle cx="377.1" cy="368.7" r="1.25"/><circle cx="370.8" cy="375.6" r="1.25"/><circle cx="370.0" cy="388.7" r="1.25"/><circle cx="369.2" cy="387.5" r="1.25"/><circle cx="377.4" cy="361.5" r="1.25"/><circle cx="373.0" cy="360.8" r="1.25"/><circle cx="378.9" cy="366.7" r="1.25"/><circle cx="380.3" cy="363.8" r="1.25"/><circle cx="380.1" cy="367.3" r="1.25"/><circle cx="376.1" cy="365.5" r="1.25"/><circle cx="376.6" cy="353.3" r="1.25"/><circle cx="372.6" cy="367.4" r="1.25"/><circle cx="374.6" cy="395.9" r="1.25"/><circle cx="369.4" cy="385.5" r="1.25"/><circle cx="373.1" cy="360.6" r="1.25"/><circle cx="372.2" cy="368.4" r="1.25"/><circle cx="374.5" cy="373.9" r="1.25"/><circle cx="376.2" cy="352.1" r="1.25"/><circle cx="376.9" cy="374.7" r="1.25"/><circle cx="376.0" cy="353.1" r="1.25"/><circle cx="375.0" cy="360.2" r="1.25"/><circle cx="374.2" cy="379.2" r="1.25"/><circle cx="372.2" cy="371.9" r="1.25"/><circle cx="375.9" cy="360.9" r="1.25"/><circle cx="381.9" cy="368.9" r="1.25"/><circle cx="374.7" cy="375.4" r="1.25"/><circle cx="374.8" cy="370.0" r="1.25"/><circle cx="371.8" cy="353.2" r="1.25"/><circle cx="371.3" cy="353.5" r="1.25"/><circle cx="374.6" cy="365.9" r="1.25"/><circle cx="377.5" cy="366.8" r="1.25"/><circle cx="372.6" cy="397.4" r="1.25"/><circle cx="370.4" cy="395.4" r="1.25"/><circle cx="373.6" cy="375.6" r="1.25"/><circle cx="379.7" cy="358.2" r="1.25"/><circle cx="370.1" cy="394.0" r="1.25"/><circle cx="370.7" cy="376.5" r="1.25"/><circle cx="371.7" cy="393.7" r="1.25"/><circle cx="368.6" cy="389.9" r="1.25"/><circle cx="380.3" cy="372.4" r="1.25"/><circle cx="371.7" cy="373.8" r="1.25"/><circle cx="373.3" cy="350.9" r="1.25"/><circle cx="375.6" cy="351.6" r="1.25"/><circle cx="376.4" cy="352.8" r="1.25"/><circle cx="379.6" cy="355.1" r="1.25"/><circle cx="380.1" cy="358.5" r="1.25"/><circle cx="380.2" cy="358.4" r="1.25"/><circle cx="382.2" cy="363.3" r="1.25"/><circle cx="381.5" cy="368.3" r="1.25"/><circle cx="382.3" cy="367.0" r="1.25"/><circle cx="378.9" cy="376.1" r="1.25"/><circle cx="378.1" cy="377.2" r="1.25"/><circle cx="379.5" cy="374.6" r="1.25"/><circle cx="377.8" cy="378.5" r="1.25"/><circle cx="376.8" cy="379.1" r="1.25"/><circle cx="373.0" cy="387.9" r="1.25"/><circle cx="372.0" cy="389.2" r="1.25"/><circle cx="373.8" cy="382.5" r="1.25"/><circle cx="375.0" cy="393.0" r="1.25"/><circle cx="373.7" cy="392.5" r="1.25"/><circle cx="376.2" cy="396.9" r="1.25"/><circle cx="373.7" cy="398.0" r="1.25"/><circle cx="374.8" cy="399.0" r="1.25"/><circle cx="369.6" cy="397.9" r="1.25"/><circle cx="369.9" cy="397.0" r="1.25"/><circle cx="367.7" cy="395.8" r="1.25"/><circle cx="368.5" cy="383.9" r="1.25"/><circle cx="367.6" cy="392.5" r="1.25"/><circle cx="367.9" cy="391.8" r="1.25"/><circle cx="367.5" cy="389.7" r="1.25"/><circle cx="370.1" cy="380.8" r="1.25"/><circle cx="370.5" cy="380.0" r="1.25"/><circle cx="369.1" cy="380.7" r="1.25"/><circle cx="370.6" cy="379.9" r="1.25"/><circle cx="370.4" cy="371.7" r="1.25"/><circle cx="370.1" cy="367.0" r="1.25"/><circle cx="371.3" cy="371.9" r="1.25"/><circle cx="371.5" cy="361.1" r="1.25"/><circle cx="370.2" cy="361.9" r="1.25"/><circle cx="371.2" cy="364.2" r="1.25"/><circle cx="371.6" cy="354.6" r="1.25"/><circle cx="371.9" cy="353.9" r="1.25"/></g>
<polygon points="373.0,352.5 375.0,350.8 379.0,355.0 380.0,360.0 377.0,360.0 374.0,357.0" fill="#1e78f0" fill-opacity="0.4"/>
<g fill="#1e78f0"><circle cx="374.8" cy="357.7" r="1.25"/><circle cx="375.5" cy="357.7" r="1.25"/><circle cx="376.9" cy="356.1" r="1.25"/><circle cx="373.7" cy="352.5" r="1.25"/><circle cx="379.1" cy="359.2" r="1.25"/><circle cx="375.4" cy="355.0" r="1.25"/><circle cx="377.0" cy="357.2" r="1.25"/><circle cx="377.5" cy="355.9" r="1.25"/><circle cx="376.4" cy="355.6" r="1.25"/><circle cx="378.4" cy="356.2" r="1.25"/><circle cx="375.1" cy="351.0" r="1.25"/><circle cx="373.1" cy="352.4" r="1.25"/><circle cx="375.2" cy="351.1" r="1.25"/><circle cx="378.7" cy="354.4" r="1.25"/><circle cx="379.5" cy="357.8" r="1.25"/><circle cx="379.8" cy="355.5" r="1.25"/><circle cx="378.5" cy="359.4" r="1.25"/><circle cx="376.4" cy="359.3" r="1.25"/><circle cx="373.6" cy="356.7" r="1.25"/><circle cx="373.8" cy="354.3" r="1.25"/></g>
<g fill="#1464f0"><circle cx="381.7" cy="376.1" r="1.80"/><circle cx="382.0" cy="377.8" r="1.80"/><circle cx="381.5" cy="377.8" r="1.80"/><circle cx="381.2" cy="378.6" r="1.80"/><circle cx="381.9" cy="380.3" r="1.80"/><circle cx="381.9" cy="381.9" r="1.80"/><circle cx="381.8" cy="381.8" r="1.80"/><circle cx="382.8" cy="383.2" r="1.80"/><circle cx="381.8" cy="384.8" r="1.80"/><circle cx="382.1" cy="385.4" r="1.80"/><circle cx="382.5" cy="386.4" r="1.80"/><circle cx="383.0" cy="387.7" r="1.80"/><circle cx="382.2" cy="387.5" r="1.80"/><circle cx="382.0" cy="389.0" r="1.80"/><circle cx="382.5" cy="389.8" r="1.80"/><circle cx="382.8" cy="391.4" r="1.80"/><circle cx="382.0" cy="391.8" r="1.80"/><circle cx="381.9" cy="393.3" r="1.80"/><circle cx="382.1" cy="393.8" r="1.80"/><circle cx="383.0" cy="394.8" r="1.80"/><circle cx="382.2" cy="396.9" r="1.80"/><circle cx="382.6" cy="398.1" r="1.80"/><circle cx="382.6" cy="398.0" r="1.80"/></g>
<g fill="#0a28e6"><circle cx="371.0" cy="397.2" r="1.60"/><circle cx="370.0" cy="398.3" r="1.60"/><circle cx="370.8" cy="399.9" r="1.60"/><circle cx="370.9" cy="400.8" r="1.60"/><circle cx="371.6" cy="401.0" r="1.60"/><circle cx="371.3" cy="401.6" r="1.60"/><circle cx="371.6" cy="403.1" r="1.60"/><circle cx="371.5" cy="403.9" r="1.60"/><circle cx="371.9" cy="406.1" r="1.60"/><circle cx="372.3" cy="406.4" r="1.60"/><circle cx="373.0" cy="408.1" r="1.60"/><circle cx="372.2" cy="407.8" r="1.60"/><circle cx="372.5" cy="409.8" r="1.60"/><circle cx="372.6" cy="411.2" r="1.60"/><circle cx="372.9" cy="410.8" r="1.60"/><circle cx="372.9" cy="413.5" r="1.60"/><circle cx="372.8" cy="413.8" r="1.60"/><circle cx="373.8" cy="415.0" r="1.60"/><circle cx="373.1" cy="415.5" r="1.60"/><circle cx="374.0" cy="417.5" r="1.60"/><circle cx="374.0" cy="418.2" r="1.60"/><circle cx="373.4" cy="418.6" r="1.60"/><circle cx="374.1" cy="420.7" r="1.60"/><circle cx="374.1" cy="420.7" r="1.60"/><circle cx="374.9" cy="421.8" r="1.60"/><circle cx="374.9" cy="423.6" r="1.60"/><circle cx="374.3" cy="424.8" r="1.60"/><circle cx="375.5" cy="424.9" r="1.60"/><circle cx="375.7" cy="426.8" r="1.60"/><circle cx="375.0" cy="427.1" r="1.60"/><circle cx="374.9" cy="428.6" r="1.60"/><circle cx="375.5" cy="429.8" r="1.60"/><circle cx="375.2" cy="429.7" r="1.60"/><circle cx="376.1" cy="432.4" r="1.60"/><circle cx="376.0" cy="433.0" r="1.60"/></g>
<g fill="#0a28e6"><circle cx="372.1" cy="400.2" r="1.30"/><circle cx="372.7" cy="399.4" r="1.30"/><circle cx="374.3" cy="398.4" r="1.30"/><circle cx="375.1" cy="397.3" r="1.30"/><circle cx="375.8" cy="397.0" r="1.30"/><circle cx="377.2" cy="396.6" r="1.30"/><circle cx="378.8" cy="394.8" r="1.30"/><circle cx="378.9" cy="394.1" r="1.30"/><circle cx="380.4" cy="394.3" r="1.30"/><circle cx="381.4" cy="392.5" r="1.30"/><circle cx="382.5" cy="391.8" r="1.30"/><circle cx="383.7" cy="390.7" r="1.30"/></g>
<g fill="#1450e6"><circle cx="383.4" cy="390.6" r="1.30"/><circle cx="384.1" cy="392.2" r="1.30"/><circle cx="383.8" cy="393.2" r="1.30"/><circle cx="383.7" cy="394.2" r="1.30"/><circle cx="384.3" cy="395.8" r="1.30"/><circle cx="383.8" cy="397.2" r="1.30"/><circle cx="383.9" cy="398.1" r="1.30"/><circle cx="384.5" cy="399.4" r="1.30"/></g>
<g fill="#1e8cf0"><circle cx="373.8" cy="411.7" r="1.00"/><circle cx="374.1" cy="413.2" r="1.00"/><circle cx="374.0" cy="415.4" r="1.00"/><circle cx="373.6" cy="416.4" r="1.00"/><circle cx="373.8" cy="417.6" r="1.00"/><circle cx="374.3" cy="419.0" r="1.00"/><circle cx="374.1" cy="421.0" r="1.00"/><circle cx="374.8" cy="422.0" r="1.00"/><circle cx="374.5" cy="423.5" r="1.00"/><circle cx="374.2" cy="424.3" r="1.00"/><circle cx="374.9" cy="425.8" r="1.00"/><circle cx="375.2" cy="426.5" r="1.00"/><circle cx="374.8" cy="428.0" r="1.00"/></g>
<g fill="#0a28e6"><circle cx="388.4" cy="403.4" r="1.4"/><circle cx="381.0" cy="430.3" r="1.4"/><circle cx="378.3" cy="418.9" r="1.4"/><circle cx="389.6" cy="388.1" r="1.4"/><circle cx="358.5" cy="413.0" r="1.4"/><circle cx="360.5" cy="414.5" r="1.4"/><circle cx="362.0" cy="415.5" r="1.4"/><circle cx="359.5" cy="380.5" r="1.4"/><circle cx="362.0" cy="386.0" r="1.4"/><circle cx="363.5" cy="392.0" r="1.4"/><circle cx="360.5" cy="396.0" r="1.4"/></g>
<g fill="#1e96f0"><circle cx="381.0" cy="345.4" r="1.5"/><circle cx="380.7" cy="345.0" r="1.5"/><circle cx="381.3" cy="344.8" r="1.5"/></g>
<g fill="#f05014"><circle cx="347.3" cy="410.4" r="1.40"/><circle cx="348.0" cy="408.8" r="1.40"/><circle cx="348.9" cy="406.9" r="1.40"/><circle cx="349.6" cy="405.9" r="1.40"/><circle cx="349.3" cy="405.2" r="1.40"/><circle cx="350.6" cy="403.5" r="1.40"/><circle cx="350.8" cy="402.7" r="1.40"/><circle cx="350.7" cy="400.6" r="1.40"/><circle cx="352.3" cy="399.0" r="1.40"/><circle cx="352.8" cy="398.0" r="1.40"/></g>
<polygon points="352.8,392.0 358.0,390.5 360.9,394.0 360.0,405.0 357.0,411.5 353.0,409.0" fill="#f0dc14" fill-opacity="0.25"/>
<g fill="#f0dc14"><circle cx="356.3" cy="397.9" r="1.25"/><circle cx="357.9" cy="400.0" r="1.25"/><circle cx="355.4" cy="400.7" r="1.25"/><circle cx="357.2" cy="391.4" r="1.25"/><circle cx="355.4" cy="395.8" r="1.25"/><circle cx="355.0" cy="398.0" r="1.25"/><circle cx="355.0" cy="398.2" r="1.25"/><circle cx="358.3" cy="395.4" r="1.25"/><circle cx="355.2" cy="405.8" r="1.25"/><circle cx="358.1" cy="396.9" r="1.25"/><circle cx="355.1" cy="405.5" r="1.25"/><circle cx="355.8" cy="407.4" r="1.25"/><circle cx="360.2" cy="393.7" r="1.25"/><circle cx="358.3" cy="395.4" r="1.25"/><circle cx="357.4" cy="409.3" r="1.25"/><circle cx="357.9" cy="408.9" r="1.25"/><circle cx="355.6" cy="396.5" r="1.25"/><circle cx="357.2" cy="398.1" r="1.25"/><circle cx="357.0" cy="395.8" r="1.25"/><circle cx="354.5" cy="403.3" r="1.25"/><circle cx="353.7" cy="395.3" r="1.25"/><circle cx="353.5" cy="405.0" r="1.25"/><circle cx="354.1" cy="396.2" r="1.25"/><circle cx="359.7" cy="401.5" r="1.25"/><circle cx="356.6" cy="397.4" r="1.25"/><circle cx="357.0" cy="406.8" r="1.25"/><circle cx="355.7" cy="393.4" r="1.25"/><circle cx="354.3" cy="405.2" r="1.25"/><circle cx="356.7" cy="410.0" r="1.25"/><circle cx="354.6" cy="405.5" r="1.25"/><circle cx="356.0" cy="396.4" r="1.25"/><circle cx="358.6" cy="397.2" r="1.25"/><circle cx="354.6" cy="399.9" r="1.25"/><circle cx="354.3" cy="392.1" r="1.25"/><circle cx="354.7" cy="390.8" r="1.25"/><circle cx="357.9" cy="390.3" r="1.25"/><circle cx="359.8" cy="393.0" r="1.25"/><circle cx="361.2" cy="397.3" r="1.25"/><circle cx="360.4" cy="394.2" r="1.25"/><circle cx="360.5" cy="402.9" r="1.25"/><circle cx="360.1" cy="396.9" r="1.25"/><circle cx="361.2" cy="399.3" r="1.25"/><circle cx="358.8" cy="406.9" r="1.25"/><circle cx="359.3" cy="407.1" r="1.25"/><circle cx="357.5" cy="410.5" r="1.25"/><circle cx="352.9" cy="409.5" r="1.25"/><circle cx="353.8" cy="409.9" r="1.25"/><circle cx="353.4" cy="402.0" r="1.25"/><circle cx="352.9" cy="404.6" r="1.25"/><circle cx="352.5" cy="396.2" r="1.25"/><circle cx="352.8" cy="407.1" r="1.25"/><circle cx="352.2" cy="403.9" r="1.25"/><circle cx="353.1" cy="398.0" r="1.25"/><circle cx="352.3" cy="407.9" r="1.25"/></g>
<g fill="#c8f032"><circle cx="356.0" cy="371.5" r="1.2"/><circle cx="357.5" cy="368.6" r="1.2"/><circle cx="356.1" cy="372.1" r="1.2"/><circle cx="357.6" cy="377.8" r="1.2"/><circle cx="354.8" cy="370.6" r="1.2"/><circle cx="358.4" cy="373.6" r="1.2"/><circle cx="356.7" cy="375.5" r="1.2"/><circle cx="356.2" cy="376.8" r="1.2"/><circle cx="356.5" cy="375.9" r="1.2"/><circle cx="352.1" cy="372.8" r="1.2"/><circle cx="359.2" cy="372.8" r="1.2"/><circle cx="357.5" cy="373.4" r="1.2"/><circle cx="354.3" cy="369.0" r="1.2"/><circle cx="353.5" cy="370.4" r="1.2"/><circle cx="354.0" cy="374.3" r="1.2"/><circle cx="357.7" cy="370.1" r="1.2"/></g>
<g fill="#f0e628"><circle cx="356.8" cy="341.0" r="1.4"/><circle cx="358.0" cy="343.5" r="1.4"/><circle cx="359.5" cy="346.4" r="1.4"/></g>
<g fill="#50e6b4"><circle cx="358.3" cy="353.7" r="1.2"/><circle cx="355.0" cy="353.2" r="1.2"/><circle cx="354.6" cy="351.2" r="1.2"/><circle cx="352.9" cy="353.1" r="1.2"/><circle cx="354.0" cy="354.9" r="1.2"/><circle cx="353.0" cy="351.8" r="1.2"/><circle cx="352.2" cy="355.6" r="1.2"/><circle cx="355.4" cy="355.0" r="1.2"/><circle cx="357.3" cy="354.4" r="1.2"/><circle cx="356.8" cy="352.2" r="1.2"/><circle cx="351.8" cy="353.6" r="1.2"/><circle cx="358.4" cy="352.3" r="1.2"/><circle cx="357.8" cy="356.0" r="1.2"/><circle cx="357.4" cy="351.7" r="1.2"/></g>
<g fill="#78e678"><circle cx="346.6" cy="327.3" r="1.30"/><circle cx="347.9" cy="328.3" r="1.30"/><circle cx="350.3" cy="328.9" r="1.30"/><circle cx="351.3" cy="329.0" r="1.30"/><circle cx="351.6" cy="329.9" r="1.30"/><circle cx="352.8" cy="330.3" r="1.30"/></g>
<g fill="#78e6a0"><circle cx="351.6" cy="333.4" r="1.20"/><circle cx="351.9" cy="333.8" r="1.20"/><circle cx="352.2" cy="336.5" r="1.20"/><circle cx="352.6" cy="337.0" r="1.20"/><circle cx="352.7" cy="338.9" r="1.20"/><circle cx="353.2" cy="339.9" r="1.20"/><circle cx="353.2" cy="341.6" r="1.20"/><circle cx="353.1" cy="343.6" r="1.20"/><circle cx="353.5" cy="343.7" r="1.20"/></g>
<g fill="#96e650"><circle cx="346.1" cy="360.1" r="1.35"/><circle cx="349.5" cy="364.8" r="1.35"/><circle cx="332.7" cy="385.6" r="1.35"/><circle cx="342.8" cy="389.0" r="1.35"/><circle cx="336.7" cy="397.7" r="1.35"/><circle cx="336.7" cy="396.7" r="1.35"/><circle cx="356.8" cy="434.3" r="1.35"/><circle cx="368.9" cy="437.7" r="1.35"/><circle cx="358.2" cy="443.7" r="1.35"/><circle cx="357.5" cy="444.8" r="1.35"/><circle cx="356.2" cy="454.2" r="1.35"/><circle cx="358.2" cy="458.9" r="1.35"/><circle cx="381.0" cy="449.9" r="1.35"/><circle cx="368.9" cy="438.0" r="1.35"/><circle cx="368.9" cy="468.9" r="1.35"/><circle cx="369.6" cy="471.6" r="1.35"/></g>
<g fill="#f0e628"><circle cx="351.5" cy="438.0" r="1.3"/></g>
<g fill="#f5960a"><circle cx="381.8" cy="310.7" r="1.4"/><circle cx="364.5" cy="310.7" r="1.4"/><circle cx="349.5" cy="335.0" r="1.4"/><circle cx="350.8" cy="341.0" r="1.4"/><circle cx="378.3" cy="341.0" r="1.4"/><circle cx="377.9" cy="340.9" r="1.4"/><circle cx="364.9" cy="310.8" r="1.4"/></g>
<g fill="#e61414"><circle cx="359.5" cy="412.8" r="1.45"/><circle cx="360.9" cy="420.9" r="1.45"/><circle cx="362.2" cy="426.2" r="1.45"/><circle cx="362.9" cy="431.6" r="1.45"/><circle cx="363.6" cy="437.0" r="1.45"/><circle cx="361.5" cy="440.3" r="1.45"/><circle cx="358.9" cy="430.9" r="1.45"/><circle cx="359.5" cy="431.3" r="1.45"/><circle cx="363.6" cy="438.0" r="1.45"/></g>
<g fill="#a01414"><circle cx="362.9" cy="432.0" r="1.5"/><circle cx="361.5" cy="440.7" r="1.5"/><circle cx="361.9" cy="463.3" r="1.5"/><circle cx="361.5" cy="471.9" r="1.5"/><circle cx="356.2" cy="485.0" r="1.5"/><circle cx="359.3" cy="487.0" r="1.5"/></g>
<g fill="#f03c14"><circle cx="359.3" cy="477.7" r="1.6"/></g>
<rect x="43" y="12" width="344.8" height="81.3" fill="none" stroke="#7a7a7a" stroke-width="1"/>
<line x1="66.20" y1="93.30" x2="66.20" y2="90.70" stroke="#7a7a7a" stroke-width="1"/>
<line x1="66.20" y1="12.00" x2="66.20" y2="14.60" stroke="#7a7a7a" stroke-width="1"/>
<text x="66.20" y="109.60" font-size="10.7" text-anchor="middle" fill="#262626">0.8</text>
<line x1="112.14" y1="93.30" x2="112.14" y2="90.70" stroke="#7a7a7a" stroke-width="1"/>
<line x1="112.14" y1="12.00" x2="112.14" y2="14.60" stroke="#7a7a7a" stroke-width="1"/>
<text x="112.14" y="109.60" font-size="10.7" text-anchor="middle" fill="#262626">0.9</text>
<line x1="158.08" y1="93.30" x2="158.08" y2="90.70" stroke="#7a7a7a" stroke-width="1"/>
<line x1="158.08" y1="12.00" x2="158.08" y2="14.60" stroke="#7a7a7a" stroke-width="1"/>
<text x="158.08" y="109.60" font-size="10.7" text-anchor="middle" fill="#262626">1</text>
<line x1="204.02" y1="93.30" x2="204.02" y2="90.70" stroke="#7a7a7a" stroke-width="1"/>
<line x1="204.02" y1="12.00" x2="204.02" y2="14.60" stroke="#7a7a7a" stroke-width="1"/>
<text x="204.02" y="109.60" font-size="10.7" text-anchor="middle" fill="#262626">1.1</text>
<line x1="249.96" y1="93.30" x2="249.96" y2="90.70" stroke="#7a7a7a" stroke-width="1"/>
<line x1="249.96" y1="12.00" x2="249.96" y2="14.60" stroke="#7a7a7a" stroke-width="1"/>
<text x="249.96" y="109.60" font-size="10.7" text-anchor="middle" fill="#262626">1.2</text>
<line x1="295.90" y1="93.30" x2="295.90" y2="90.70" stroke="#7a7a7a" stroke-width="1"/>
<line x1="295.90" y1="12.00" x2="295.90" y2="14.60" stroke="#7a7a7a" stroke-width="1"/>
<text x="295.90" y="109.60" font-size="10.7" text-anchor="middle" fill="#262626">1.3</text>
<line x1="341.84" y1="93.30" x2="341.84" y2="90.70" stroke="#7a7a7a" stroke-width="1"/>
<line x1="341.84" y1="12.00" x2="341.84" y2="14.60" stroke="#7a7a7a" stroke-width="1"/>
<text x="341.84" y="109.60" font-size="10.7" text-anchor="middle" fill="#262626">1.4</text>
<line x1="387.78" y1="93.30" x2="387.78" y2="90.70" stroke="#7a7a7a" stroke-width="1"/>
<line x1="387.78" y1="12.00" x2="387.78" y2="14.60" stroke="#7a7a7a" stroke-width="1"/>
<text x="387.78" y="109.60" font-size="10.7" text-anchor="middle" fill="#262626">1.5</text>
<line x1="43.00" y1="93.30" x2="45.60" y2="93.30" stroke="#7a7a7a" stroke-width="1"/>
<line x1="387.80" y1="93.30" x2="385.20" y2="93.30" stroke="#7a7a7a" stroke-width="1"/>
<text x="38.60" y="97.80" font-size="10.7" text-anchor="end" fill="#262626">0</text>
<line x1="43.00" y1="66.20" x2="45.60" y2="66.20" stroke="#7a7a7a" stroke-width="1"/>
<line x1="387.80" y1="66.20" x2="385.20" y2="66.20" stroke="#7a7a7a" stroke-width="1"/>
<text x="38.60" y="70.70" font-size="10.7" text-anchor="end" fill="#262626">5</text>
<line x1="43.00" y1="39.10" x2="45.60" y2="39.10" stroke="#7a7a7a" stroke-width="1"/>
<line x1="387.80" y1="39.10" x2="385.20" y2="39.10" stroke="#7a7a7a" stroke-width="1"/>
<text x="38.60" y="43.60" font-size="10.7" text-anchor="end" fill="#262626">10</text>
<line x1="43.00" y1="12.00" x2="45.60" y2="12.00" stroke="#7a7a7a" stroke-width="1"/>
<line x1="387.80" y1="12.00" x2="385.20" y2="12.00" stroke="#7a7a7a" stroke-width="1"/>
<text x="38.60" y="16.50" font-size="10.7" text-anchor="end" fill="#262626">15</text>
<text x="393.20" y="16.50" font-size="10.7" text-anchor="start" fill="#262626">1</text>
<text x="393.20" y="43.50" font-size="10.7" text-anchor="start" fill="#262626">0.5</text>
<text x="393.20" y="70.50" font-size="10.7" text-anchor="start" fill="#262626">0</text>
<text x="396.2" y="97.3" font-size="10.7" fill="#262626" style="stroke-width:0.1px">-</text>
<text x="404.00" y="97.50" font-size="10.7" text-anchor="start" fill="#262626">0.5</text>
<text x="20.60" y="52.50" font-size="12.6" text-anchor="middle" fill="#262626" transform="rotate(-90 20.6 52.5)" textLength="67.0" lengthAdjust="spacingAndGlyphs">Altitude (km)</text>
<text x="215.90" y="124.80" font-size="12.6" text-anchor="middle" fill="#262626" textLength="41.6" lengthAdjust="spacingAndGlyphs">Time (s)</text>
<text x="422.30" y="53.50" font-size="12.6" text-anchor="middle" fill="#262626" transform="rotate(-90 422.3 53.5)" textLength="36.4" lengthAdjust="spacingAndGlyphs">E-Field</text>
<text x="441.50" y="53.00" font-size="12.6" text-anchor="middle" fill="#262626" transform="rotate(-90 441.5 53)" textLength="69.0" lengthAdjust="spacingAndGlyphs">change (V/m)</text>
<text x="46.80" y="26.20" font-size="13" text-anchor="start" fill="#262626">(a)</text>
<rect x="43" y="135" width="246.5" height="81.5" fill="none" stroke="#7a7a7a" stroke-width="1"/>
<line x1="43.00" y1="216.50" x2="43.00" y2="213.90" stroke="#7a7a7a" stroke-width="1"/>
<line x1="43.00" y1="135.00" x2="43.00" y2="137.60" stroke="#7a7a7a" stroke-width="1"/>
<text x="35.20" y="231.90" font-size="10.7" fill="#262626" style="stroke-width:0.1px">-</text>
<text x="42.30" y="233.00" font-size="10.7" fill="#262626">15</text>
<line x1="92.30" y1="216.50" x2="92.30" y2="213.90" stroke="#7a7a7a" stroke-width="1"/>
<line x1="92.30" y1="135.00" x2="92.30" y2="137.60" stroke="#7a7a7a" stroke-width="1"/>
<text x="84.50" y="231.90" font-size="10.7" fill="#262626" style="stroke-width:0.1px">-</text>
<text x="91.60" y="233.00" font-size="10.7" fill="#262626">10</text>
<line x1="141.60" y1="216.50" x2="141.60" y2="213.90" stroke="#7a7a7a" stroke-width="1"/>
<line x1="141.60" y1="135.00" x2="141.60" y2="137.60" stroke="#7a7a7a" stroke-width="1"/>
<text x="136.78" y="231.90" font-size="10.7" fill="#262626" style="stroke-width:0.1px">-</text>
<text x="143.88" y="233.00" font-size="10.7" fill="#262626">5</text>
<line x1="190.90" y1="216.50" x2="190.90" y2="213.90" stroke="#7a7a7a" stroke-width="1"/>
<line x1="190.90" y1="135.00" x2="190.90" y2="137.60" stroke="#7a7a7a" stroke-width="1"/>
<text x="190.90" y="233.00" font-size="10.7" text-anchor="middle" fill="#262626">0</text>
<line x1="240.20" y1="216.50" x2="240.20" y2="213.90" stroke="#7a7a7a" stroke-width="1"/>
<line x1="240.20" y1="135.00" x2="240.20" y2="137.60" stroke="#7a7a7a" stroke-width="1"/>
<text x="240.20" y="233.00" font-size="10.7" text-anchor="middle" fill="#262626">5</text>
<line x1="289.50" y1="216.50" x2="289.50" y2="213.90" stroke="#7a7a7a" stroke-width="1"/>
<line x1="289.50" y1="135.00" x2="289.50" y2="137.60" stroke="#7a7a7a" stroke-width="1"/>
<text x="289.50" y="233.00" font-size="10.7" text-anchor="middle" fill="#262626">10</text>
<line x1="43.00" y1="216.50" x2="45.60" y2="216.50" stroke="#7a7a7a" stroke-width="1"/>
<line x1="289.50" y1="216.50" x2="286.90" y2="216.50" stroke="#7a7a7a" stroke-width="1"/>
<text x="38.60" y="221.00" font-size="10.7" text-anchor="end" fill="#262626">0</text>
<line x1="43.00" y1="189.33" x2="45.60" y2="189.33" stroke="#7a7a7a" stroke-width="1"/>
<line x1="289.50" y1="189.33" x2="286.90" y2="189.33" stroke="#7a7a7a" stroke-width="1"/>
<text x="38.60" y="193.83" font-size="10.7" text-anchor="end" fill="#262626">5</text>
<line x1="43.00" y1="162.17" x2="45.60" y2="162.17" stroke="#7a7a7a" stroke-width="1"/>
<line x1="289.50" y1="162.17" x2="286.90" y2="162.17" stroke="#7a7a7a" stroke-width="1"/>
<text x="38.60" y="166.67" font-size="10.7" text-anchor="end" fill="#262626">10</text>
<line x1="43.00" y1="135.00" x2="45.60" y2="135.00" stroke="#7a7a7a" stroke-width="1"/>
<line x1="289.50" y1="135.00" x2="286.90" y2="135.00" stroke="#7a7a7a" stroke-width="1"/>
<text x="38.60" y="139.50" font-size="10.7" text-anchor="end" fill="#262626">15</text>
<text x="21.00" y="177.00" font-size="12.6" text-anchor="middle" fill="#262626" transform="rotate(-90 21.0 177)" textLength="65.6" lengthAdjust="spacingAndGlyphs">Altitude (km)</text>
<text x="166.30" y="248.30" font-size="12.6" text-anchor="middle" fill="#262626" textLength="128.2" lengthAdjust="spacingAndGlyphs">East-West distance (km)</text>
<text x="46.80" y="148.80" font-size="13" text-anchor="start" fill="#262626">(b)</text>
<rect x="330.7" y="135" width="81.69999999999999" height="81.4" fill="none" stroke="#7a7a7a" stroke-width="1"/>
<line x1="330.70" y1="216.40" x2="330.70" y2="213.80" stroke="#7a7a7a" stroke-width="1"/>
<line x1="330.70" y1="135.00" x2="330.70" y2="137.60" stroke="#7a7a7a" stroke-width="1"/>
<text x="330.70" y="233.80" font-size="10.7" text-anchor="middle" fill="#262626">0</text>
<line x1="371.55" y1="216.40" x2="371.55" y2="213.80" stroke="#7a7a7a" stroke-width="1"/>
<line x1="371.55" y1="135.00" x2="371.55" y2="137.60" stroke="#7a7a7a" stroke-width="1"/>
<text x="371.55" y="233.80" font-size="10.7" text-anchor="middle" fill="#262626">500</text>
<line x1="412.40" y1="216.40" x2="412.40" y2="213.80" stroke="#7a7a7a" stroke-width="1"/>
<line x1="412.40" y1="135.00" x2="412.40" y2="137.60" stroke="#7a7a7a" stroke-width="1"/>
<text x="412.40" y="233.80" font-size="10.7" text-anchor="middle" fill="#262626">1000</text>
<line x1="330.70" y1="216.40" x2="333.30" y2="216.40" stroke="#7a7a7a" stroke-width="1"/>
<line x1="412.40" y1="216.40" x2="409.80" y2="216.40" stroke="#7a7a7a" stroke-width="1"/>
<text x="326.40" y="220.90" font-size="10.7" text-anchor="end" fill="#262626">0</text>
<line x1="330.70" y1="189.27" x2="333.30" y2="189.27" stroke="#7a7a7a" stroke-width="1"/>
<line x1="412.40" y1="189.27" x2="409.80" y2="189.27" stroke="#7a7a7a" stroke-width="1"/>
<text x="326.40" y="193.77" font-size="10.7" text-anchor="end" fill="#262626">5</text>
<line x1="330.70" y1="162.13" x2="333.30" y2="162.13" stroke="#7a7a7a" stroke-width="1"/>
<line x1="412.40" y1="162.13" x2="409.80" y2="162.13" stroke="#7a7a7a" stroke-width="1"/>
<text x="326.40" y="166.63" font-size="10.7" text-anchor="end" fill="#262626">10</text>
<line x1="330.70" y1="135.00" x2="333.30" y2="135.00" stroke="#7a7a7a" stroke-width="1"/>
<line x1="412.40" y1="135.00" x2="409.80" y2="135.00" stroke="#7a7a7a" stroke-width="1"/>
<text x="326.40" y="139.50" font-size="10.7" text-anchor="end" fill="#262626">15</text>
<text x="309.20" y="175.80" font-size="12.6" text-anchor="middle" fill="#262626" transform="rotate(-90 309.2 175.8)" textLength="67.0" lengthAdjust="spacingAndGlyphs">Altitude (km)</text>
<text x="334.10" y="148.60" font-size="13" text-anchor="start" fill="#262626">(c)</text>
<text x="350.20" y="151.40" font-size="10.8" text-anchor="start" fill="#262626">5993 pts</text>
<rect x="42.8" y="258.3" width="246.7" height="246.2" fill="none" stroke="#7a7a7a" stroke-width="1"/>
<line x1="42.80" y1="504.50" x2="42.80" y2="501.90" stroke="#7a7a7a" stroke-width="1"/>
<line x1="42.80" y1="258.30" x2="42.80" y2="260.90" stroke="#7a7a7a" stroke-width="1"/>
<text x="35.00" y="519.80" font-size="10.7" fill="#262626" style="stroke-width:0.1px">-</text>
<text x="42.10" y="520.90" font-size="10.7" fill="#262626">15</text>
<line x1="92.14" y1="504.50" x2="92.14" y2="501.90" stroke="#7a7a7a" stroke-width="1"/>
<line x1="92.14" y1="258.30" x2="92.14" y2="260.90" stroke="#7a7a7a" stroke-width="1"/>
<text x="84.34" y="519.80" font-size="10.7" fill="#262626" style="stroke-width:0.1px">-</text>
<text x="91.44" y="520.90" font-size="10.7" fill="#262626">10</text>
<line x1="141.48" y1="504.50" x2="141.48" y2="501.90" stroke="#7a7a7a" stroke-width="1"/>
<line x1="141.48" y1="258.30" x2="141.48" y2="260.90" stroke="#7a7a7a" stroke-width="1"/>
<text x="136.66" y="519.80" font-size="10.7" fill="#262626" style="stroke-width:0.1px">-</text>
<text x="143.76" y="520.90" font-size="10.7" fill="#262626">5</text>
<line x1="190.82" y1="504.50" x2="190.82" y2="501.90" stroke="#7a7a7a" stroke-width="1"/>
<line x1="190.82" y1="258.30" x2="190.82" y2="260.90" stroke="#7a7a7a" stroke-width="1"/>
<text x="190.82" y="520.90" font-size="10.7" text-anchor="middle" fill="#262626">0</text>
<line x1="240.16" y1="504.50" x2="240.16" y2="501.90" stroke="#7a7a7a" stroke-width="1"/>
<line x1="240.16" y1="258.30" x2="240.16" y2="260.90" stroke="#7a7a7a" stroke-width="1"/>
<text x="240.16" y="520.90" font-size="10.7" text-anchor="middle" fill="#262626">5</text>
<line x1="289.50" y1="504.50" x2="289.50" y2="501.90" stroke="#7a7a7a" stroke-width="1"/>
<line x1="289.50" y1="258.30" x2="289.50" y2="260.90" stroke="#7a7a7a" stroke-width="1"/>
<text x="289.50" y="520.90" font-size="10.7" text-anchor="middle" fill="#262626">10</text>
<line x1="42.80" y1="504.50" x2="45.40" y2="504.50" stroke="#7a7a7a" stroke-width="1"/>
<line x1="289.50" y1="504.50" x2="286.90" y2="504.50" stroke="#7a7a7a" stroke-width="1"/>
<text x="38.40" y="509.00" font-size="10.7" text-anchor="end" fill="#262626">10</text>
<text x="19.70" y="507.90" font-size="10.7" fill="#262626" style="stroke-width:0.1px">-</text>
<line x1="42.80" y1="479.88" x2="45.40" y2="479.88" stroke="#7a7a7a" stroke-width="1"/>
<line x1="289.50" y1="479.88" x2="286.90" y2="479.88" stroke="#7a7a7a" stroke-width="1"/>
<text x="38.40" y="484.38" font-size="10.7" text-anchor="end" fill="#262626">8</text>
<text x="25.65" y="483.28" font-size="10.7" fill="#262626" style="stroke-width:0.1px">-</text>
<line x1="42.80" y1="455.26" x2="45.40" y2="455.26" stroke="#7a7a7a" stroke-width="1"/>
<line x1="289.50" y1="455.26" x2="286.90" y2="455.26" stroke="#7a7a7a" stroke-width="1"/>
<text x="38.40" y="459.76" font-size="10.7" text-anchor="end" fill="#262626">6</text>
<text x="25.65" y="458.66" font-size="10.7" fill="#262626" style="stroke-width:0.1px">-</text>
<line x1="42.80" y1="430.64" x2="45.40" y2="430.64" stroke="#7a7a7a" stroke-width="1"/>
<line x1="289.50" y1="430.64" x2="286.90" y2="430.64" stroke="#7a7a7a" stroke-width="1"/>
<text x="38.40" y="435.14" font-size="10.7" text-anchor="end" fill="#262626">4</text>
<text x="25.65" y="434.04" font-size="10.7" fill="#262626" style="stroke-width:0.1px">-</text>
<line x1="42.80" y1="406.02" x2="45.40" y2="406.02" stroke="#7a7a7a" stroke-width="1"/>
<line x1="289.50" y1="406.02" x2="286.90" y2="406.02" stroke="#7a7a7a" stroke-width="1"/>
<text x="38.40" y="410.52" font-size="10.7" text-anchor="end" fill="#262626">2</text>
<text x="25.65" y="409.42" font-size="10.7" fill="#262626" style="stroke-width:0.1px">-</text>
<line x1="42.80" y1="381.40" x2="45.40" y2="381.40" stroke="#7a7a7a" stroke-width="1"/>
<line x1="289.50" y1="381.40" x2="286.90" y2="381.40" stroke="#7a7a7a" stroke-width="1"/>
<text x="38.40" y="385.90" font-size="10.7" text-anchor="end" fill="#262626">0</text>
<line x1="42.80" y1="356.78" x2="45.40" y2="356.78" stroke="#7a7a7a" stroke-width="1"/>
<line x1="289.50" y1="356.78" x2="286.90" y2="356.78" stroke="#7a7a7a" stroke-width="1"/>
<text x="38.40" y="361.28" font-size="10.7" text-anchor="end" fill="#262626">2</text>
<line x1="42.80" y1="332.16" x2="45.40" y2="332.16" stroke="#7a7a7a" stroke-width="1"/>
<line x1="289.50" y1="332.16" x2="286.90" y2="332.16" stroke="#7a7a7a" stroke-width="1"/>
<text x="38.40" y="336.66" font-size="10.7" text-anchor="end" fill="#262626">4</text>
<line x1="42.80" y1="307.54" x2="45.40" y2="307.54" stroke="#7a7a7a" stroke-width="1"/>
<line x1="289.50" y1="307.54" x2="286.90" y2="307.54" stroke="#7a7a7a" stroke-width="1"/>
<text x="38.40" y="312.04" font-size="10.7" text-anchor="end" fill="#262626">6</text>
<line x1="42.80" y1="282.92" x2="45.40" y2="282.92" stroke="#7a7a7a" stroke-width="1"/>
<line x1="289.50" y1="282.92" x2="286.90" y2="282.92" stroke="#7a7a7a" stroke-width="1"/>
<text x="38.40" y="287.42" font-size="10.7" text-anchor="end" fill="#262626">8</text>
<line x1="42.80" y1="258.30" x2="45.40" y2="258.30" stroke="#7a7a7a" stroke-width="1"/>
<line x1="289.50" y1="258.30" x2="286.90" y2="258.30" stroke="#7a7a7a" stroke-width="1"/>
<text x="38.40" y="262.80" font-size="10.7" text-anchor="end" fill="#262626">10</text>
<text x="18.00" y="379.20" font-size="12.6" text-anchor="middle" fill="#262626" transform="rotate(-90 18.0 379.2)" textLength="136.0" lengthAdjust="spacingAndGlyphs">North-South distance(km)</text>
<text x="166.20" y="535.40" font-size="12.6" text-anchor="middle" fill="#262626" textLength="128.6" lengthAdjust="spacingAndGlyphs">East-West distance (km)</text>
<text x="46.60" y="271.90" font-size="13" text-anchor="start" fill="#262626">(d)</text>
<rect x="330.9" y="258.5" width="81.60000000000002" height="245.89999999999998" fill="none" stroke="#7a7a7a" stroke-width="1"/>
<line x1="330.90" y1="504.40" x2="330.90" y2="501.80" stroke="#7a7a7a" stroke-width="1"/>
<line x1="330.90" y1="258.50" x2="330.90" y2="261.10" stroke="#7a7a7a" stroke-width="1"/>
<text x="330.90" y="520.90" font-size="10.7" text-anchor="middle" fill="#262626">0</text>
<line x1="358.10" y1="504.40" x2="358.10" y2="501.80" stroke="#7a7a7a" stroke-width="1"/>
<line x1="358.10" y1="258.50" x2="358.10" y2="261.10" stroke="#7a7a7a" stroke-width="1"/>
<text x="358.10" y="520.90" font-size="10.7" text-anchor="middle" fill="#262626">5</text>
<line x1="385.30" y1="504.40" x2="385.30" y2="501.80" stroke="#7a7a7a" stroke-width="1"/>
<line x1="385.30" y1="258.50" x2="385.30" y2="261.10" stroke="#7a7a7a" stroke-width="1"/>
<text x="385.30" y="520.90" font-size="10.7" text-anchor="middle" fill="#262626">10</text>
<line x1="412.50" y1="504.40" x2="412.50" y2="501.80" stroke="#7a7a7a" stroke-width="1"/>
<line x1="412.50" y1="258.50" x2="412.50" y2="261.10" stroke="#7a7a7a" stroke-width="1"/>
<text x="412.50" y="520.90" font-size="10.7" text-anchor="middle" fill="#262626">15</text>
<line x1="330.90" y1="504.50" x2="333.50" y2="504.50" stroke="#7a7a7a" stroke-width="1"/>
<line x1="412.50" y1="504.50" x2="409.90" y2="504.50" stroke="#7a7a7a" stroke-width="1"/>
<text x="326.60" y="509.00" font-size="10.7" text-anchor="end" fill="#262626">10</text>
<text x="307.90" y="507.90" font-size="10.7" fill="#262626" style="stroke-width:0.1px">-</text>
<line x1="330.90" y1="479.88" x2="333.50" y2="479.88" stroke="#7a7a7a" stroke-width="1"/>
<line x1="412.50" y1="479.88" x2="409.90" y2="479.88" stroke="#7a7a7a" stroke-width="1"/>
<text x="326.60" y="484.38" font-size="10.7" text-anchor="end" fill="#262626">8</text>
<text x="313.85" y="483.28" font-size="10.7" fill="#262626" style="stroke-width:0.1px">-</text>
<line x1="330.90" y1="455.26" x2="333.50" y2="455.26" stroke="#7a7a7a" stroke-width="1"/>
<line x1="412.50" y1="455.26" x2="409.90" y2="455.26" stroke="#7a7a7a" stroke-width="1"/>
<text x="326.60" y="459.76" font-size="10.7" text-anchor="end" fill="#262626">6</text>
<text x="313.85" y="458.66" font-size="10.7" fill="#262626" style="stroke-width:0.1px">-</text>
<line x1="330.90" y1="430.64" x2="333.50" y2="430.64" stroke="#7a7a7a" stroke-width="1"/>
<line x1="412.50" y1="430.64" x2="409.90" y2="430.64" stroke="#7a7a7a" stroke-width="1"/>
<text x="326.60" y="435.14" font-size="10.7" text-anchor="end" fill="#262626">4</text>
<text x="313.85" y="434.04" font-size="10.7" fill="#262626" style="stroke-width:0.1px">-</text>
<line x1="330.90" y1="406.02" x2="333.50" y2="406.02" stroke="#7a7a7a" stroke-width="1"/>
<line x1="412.50" y1="406.02" x2="409.90" y2="406.02" stroke="#7a7a7a" stroke-width="1"/>
<text x="326.60" y="410.52" font-size="10.7" text-anchor="end" fill="#262626">2</text>
<text x="313.85" y="409.42" font-size="10.7" fill="#262626" style="stroke-width:0.1px">-</text>
<line x1="330.90" y1="381.40" x2="333.50" y2="381.40" stroke="#7a7a7a" stroke-width="1"/>
<line x1="412.50" y1="381.40" x2="409.90" y2="381.40" stroke="#7a7a7a" stroke-width="1"/>
<text x="326.60" y="385.90" font-size="10.7" text-anchor="end" fill="#262626">0</text>
<line x1="330.90" y1="356.78" x2="333.50" y2="356.78" stroke="#7a7a7a" stroke-width="1"/>
<line x1="412.50" y1="356.78" x2="409.90" y2="356.78" stroke="#7a7a7a" stroke-width="1"/>
<text x="326.60" y="361.28" font-size="10.7" text-anchor="end" fill="#262626">2</text>
<line x1="330.90" y1="332.16" x2="333.50" y2="332.16" stroke="#7a7a7a" stroke-width="1"/>
<line x1="412.50" y1="332.16" x2="409.90" y2="332.16" stroke="#7a7a7a" stroke-width="1"/>
<text x="326.60" y="336.66" font-size="10.7" text-anchor="end" fill="#262626">4</text>
<line x1="330.90" y1="307.54" x2="333.50" y2="307.54" stroke="#7a7a7a" stroke-width="1"/>
<line x1="412.50" y1="307.54" x2="409.90" y2="307.54" stroke="#7a7a7a" stroke-width="1"/>
<text x="326.60" y="312.04" font-size="10.7" text-anchor="end" fill="#262626">6</text>
<line x1="330.90" y1="282.92" x2="333.50" y2="282.92" stroke="#7a7a7a" stroke-width="1"/>
<line x1="412.50" y1="282.92" x2="409.90" y2="282.92" stroke="#7a7a7a" stroke-width="1"/>
<text x="326.60" y="287.42" font-size="10.7" text-anchor="end" fill="#262626">8</text>
<line x1="330.90" y1="258.30" x2="333.50" y2="258.30" stroke="#7a7a7a" stroke-width="1"/>
<line x1="412.50" y1="258.30" x2="409.90" y2="258.30" stroke="#7a7a7a" stroke-width="1"/>
<text x="326.60" y="262.80" font-size="10.7" text-anchor="end" fill="#262626">10</text>
<text x="304.00" y="380.80" font-size="12.6" text-anchor="middle" fill="#262626" transform="rotate(-90 304.0 380.8)" textLength="135.0" lengthAdjust="spacingAndGlyphs">North-South distance(km)</text>
<text x="371.90" y="536.20" font-size="12.6" text-anchor="middle" fill="#262626" textLength="66.0" lengthAdjust="spacingAndGlyphs">Altitude (km)</text>
<text x="334.80" y="271.90" font-size="13" text-anchor="start" fill="#262626">(e)</text>
<polyline points="43.0,66.2 43.7,66.3 44.4,66.2 45.1,66.4 45.8,66.4 46.5,66.1 47.2,66.1 47.9,66.5 48.6,66.2 49.3,66.2 50.0,66.5 50.7,66.3 51.4,66.5 52.1,66.3 52.8,66.4 53.5,66.1 54.2,66.4 54.9,66.5 55.6,66.3 56.3,66.4 57.0,66.4 57.7,66.1 58.4,66.4 59.1,66.3 59.8,66.2 60.5,66.0 61.2,66.3 61.9,65.9 62.6,65.9 63.3,65.9 64.0,65.7 64.7,65.7 65.4,65.3 66.1,65.4 66.8,65.1 67.5,65.2 68.2,65.1 68.9,64.6 69.6,64.5 70.3,64.4 71.0,64.7 71.7,64.3 72.4,64.4 73.1,64.1 73.8,64.1 74.5,64.0 75.2,63.9 75.9,64.0 76.6,63.9 77.3,64.0 78.0,63.9 78.7,64.0 79.4,63.9 80.1,64.0 80.8,63.8 81.5,63.5 82.2,63.9 82.9,64.0 83.6,64.0 84.3,63.8 85.0,64.0 85.7,63.7 86.4,64.1 87.1,64.0 87.8,63.9 88.5,63.8 89.2,64.2 89.9,64.3 90.6,63.9 91.3,64.3 92.0,64.2 92.7,64.1 93.4,64.2 94.1,64.4 94.8,64.5 95.5,64.1 96.2,64.5 96.9,64.2 97.6,64.6 98.3,64.4 99.0,64.7 99.7,64.8 100.4,64.6 101.1,64.9 101.8,64.6 102.5,64.5 103.2,64.8 103.9,64.6 104.6,64.7 105.3,64.8 106.0,65.0 106.7,64.8 107.4,64.7 108.1,65.2 108.8,64.9 109.5,65.3 110.2,65.3 110.9,65.1 111.6,65.2 112.3,65.2 113.0,65.3 113.7,65.3 114.4,65.3 115.1,65.4 115.8,65.6 116.5,65.4 117.2,65.4 117.9,65.6 118.6,65.4 119.3,65.5 120.0,65.8 120.7,65.6 121.4,65.7 122.1,65.5 122.8,65.7 123.5,65.8 124.2,65.6 124.9,65.9 125.6,65.9 126.3,65.7 127.0,66.0 127.7,66.0 128.4,66.1 129.1,66.0 129.8,66.2 130.5,66.2 131.2,65.9 131.9,65.9 132.6,66.2 133.3,66.3 134.0,66.0 134.7,66.1 135.4,66.1 136.1,66.0 136.8,66.0 137.5,66.0 138.2,66.0 138.9,66.1 139.6,66.0 140.3,66.0 141.0,66.2 141.7,65.9 142.4,66.1 143.1,66.2 143.8,66.0 144.5,66.0 145.2,66.3 145.9,66.0 146.6,65.9 147.3,66.1 148.0,66.2 148.7,65.9 149.4,66.0 150.1,65.9 150.8,66.5 151.5,66.0 152.2,66.5 152.9,65.7 153.6,65.9 154.3,66.3 155.0,66.5 155.7,66.0 156.4,65.8 157.1,65.7 157.8,66.1 158.5,65.8 159.2,66.4 159.9,66.5 160.6,65.8 161.3,65.9 162.0,66.4 162.7,66.3 163.4,66.4 164.1,65.9 164.8,65.7 165.5,65.9 166.2,66.4 166.9,65.8 167.6,65.9 168.3,66.0 169.0,66.0 169.7,66.0 170.4,66.6 171.1,65.7 171.8,65.6 172.5,66.6 173.2,66.5 173.9,66.6 174.6,66.0 175.3,66.6 176.0,66.6 176.7,65.8 177.4,66.4 178.1,66.5 178.8,66.3 179.5,66.1 180.2,65.8 180.9,65.8 181.6,65.6 182.3,65.3 183.0,65.6 183.7,65.1 184.4,65.4 185.1,64.2 185.8,64.8 186.5,66.3 187.2,66.6 187.9,66.5 188.6,66.5 189.3,66.2 190.0,65.6 190.7,66.4 191.4,65.7 192.1,65.9 192.8,66.3 193.5,66.1 194.2,66.0 194.9,66.6 195.6,66.2 196.3,65.9 197.0,65.8 197.7,66.5 198.4,66.1 199.1,66.4 199.8,65.9 200.5,65.8 201.2,66.1 201.9,66.4 202.6,65.7 203.3,66.4 204.0,66.6 204.7,66.4 205.4,66.5 206.1,65.6 206.8,66.2 207.5,66.5 208.2,65.6 208.9,65.8 209.6,65.8 210.3,66.1 211.0,66.0 211.7,66.1 212.4,66.4 213.1,65.6 213.8,65.6 214.5,65.7 215.2,65.7 215.9,65.6 216.6,66.6 217.3,66.5 218.0,65.6 218.7,66.1 219.4,65.9 220.1,65.9 220.8,65.9 221.5,66.3 222.2,66.2 222.9,65.9 223.6,65.8 224.3,65.9 225.0,65.7 225.7,66.2 226.4,66.3 227.1,66.0 227.8,65.6 228.5,65.7 229.2,66.0 229.9,66.2 230.6,66.4 231.3,66.0 232.0,66.4 232.7,66.2 233.4,66.0 234.1,66.0 234.8,66.1 235.5,66.3 236.2,66.0 236.9,66.3 237.6,66.1 238.3,65.8 239.0,66.1 239.7,66.3 240.4,65.6 241.1,66.0 241.8,66.0 242.5,66.5 243.2,66.6 243.9,66.0 244.6,66.5 245.3,66.4 246.0,65.8 246.7,66.1 247.4,65.7 248.1,66.4 248.8,66.3 249.5,66.5 250.2,66.4 250.9,66.3 251.6,66.4 252.3,66.2 253.0,65.7 253.7,66.2 254.4,65.6 255.1,65.7 255.8,66.4 256.5,65.6 257.2,65.7 257.9,65.7 258.6,66.5 259.3,65.7 260.0,65.6 260.7,66.5 261.4,65.7 262.1,66.5 262.8,66.3 263.5,66.5 264.2,66.6 264.9,66.2 265.6,66.4 266.3,65.6 267.0,66.4 267.7,66.1 268.4,66.3 269.1,65.7 269.8,66.4 270.5,66.6 271.2,65.6 271.9,65.9 272.6,66.2 273.3,66.5 274.0,65.8 274.7,65.7 275.4,65.8 276.1,66.2 276.8,66.4 277.5,66.0 278.2,66.0 278.9,66.0 279.6,65.9 280.3,66.0 281.0,65.6 281.7,66.1 282.4,66.6 283.1,66.0 283.8,66.4 284.5,65.7 285.2,66.3 285.9,66.4 286.6,66.3 287.3,66.1 288.0,66.1 288.7,66.3 289.4,66.5 290.1,65.7 290.8,65.7 291.5,66.4 292.2,66.6 292.9,66.1 293.6,66.0 294.3,66.3 295.0,65.8 295.7,65.8 296.4,65.8 297.1,66.2 297.8,65.9 298.5,65.8 299.2,66.3 299.9,66.6 300.6,65.9 301.3,66.3 302.0,66.0 302.7,66.5 303.4,66.2 304.1,65.8 304.8,65.8 305.5,65.6 306.2,66.1 306.9,66.0 307.6,65.7 308.3,65.9 309.0,65.9 309.7,66.4 310.4,65.7 311.1,66.6 311.8,66.1 312.5,66.2 313.2,66.1 313.9,66.5 314.6,66.5 315.3,66.2 316.0,66.1 316.7,66.3 317.4,66.5 318.1,66.0 318.8,66.4 319.5,66.6 320.2,66.1 320.9,65.8 321.6,65.8 322.3,66.3 323.0,66.3 323.7,66.6 324.4,66.5 325.1,65.8 325.8,65.8 326.5,65.8 327.2,65.8 327.9,66.3 328.6,66.5 329.3,66.5 330.0,65.8 330.7,66.5 331.4,65.9 332.1,66.0 332.8,66.4 333.5,65.6 334.2,65.7 334.9,66.5 335.6,65.9 336.3,65.9 337.0,66.2 337.7,66.3 338.4,65.6 339.1,65.9 339.8,66.0 340.5,66.1 341.2,65.8 341.9,66.2 342.6,66.6 343.3,66.0 344.0,66.1 344.7,65.7 345.4,65.9 346.1,66.3 346.8,65.7 347.5,66.5 348.2,66.5 348.9,65.7 349.6,66.6 350.3,66.0 351.0,66.4 351.7,66.4 352.4,65.9 353.1,66.3 353.8,66.3 354.5,66.4 355.2,65.8 355.9,66.4 356.6,66.6 357.3,66.3 358.0,66.1 358.7,65.7 359.4,66.1 360.1,65.9 360.8,66.3 361.5,66.3 362.2,66.2 362.9,65.8 363.6,66.3 364.3,66.2 365.0,65.7 365.7,66.5 366.4,66.3 367.1,65.7 367.8,66.6 368.5,65.7 369.2,65.9 369.9,66.3 370.6,66.2 371.3,66.2 372.0,66.3 372.7,66.1 373.4,65.9 374.1,65.7 374.8,65.6 375.5,66.3 376.2,66.4 376.9,66.1 377.6,66.4 378.3,65.9 379.0,65.8 379.7,66.0 380.4,66.5 381.1,65.6 381.8,66.1 382.5,65.8 383.2,66.4 383.9,65.9 384.6,65.9 385.3,66.0 386.0,66.1 386.7,66.4 387.4,65.9" fill="none" stroke="#000000" stroke-width="1.0" stroke-linecap="round" stroke-linejoin="round"/>
<line x1="186.6" y1="12" x2="186.6" y2="93.3" stroke="#111" stroke-width="1.1"/>
<line x1="199.6" y1="50.8" x2="199.6" y2="72" stroke="#111" stroke-width="1.0"/>
<line x1="203.1" y1="63" x2="203.1" y2="70" stroke="#111" stroke-width="0.8"/>
<line x1="229.5" y1="60.7" x2="229.5" y2="71" stroke="#111" stroke-width="0.9"/>
<line x1="238.5" y1="60" x2="238.5" y2="71" stroke="#111" stroke-width="0.9"/>
<line x1="247.4" y1="60" x2="247.4" y2="67" stroke="#111" stroke-width="0.8"/>
<line x1="257" y1="63.5" x2="257" y2="70" stroke="#111" stroke-width="0.8"/>
<line x1="289.5" y1="63" x2="289.5" y2="70" stroke="#111" stroke-width="0.8"/>
<line x1="297.3" y1="63" x2="297.3" y2="70" stroke="#111" stroke-width="0.8"/>
<path d="M150.0,64.6V68.0M154.3,64.6V67.9M157.8,65.1V67.9M161.4,64.1V67.2M164.1,65.2V68.4M167.8,65.3V68.7M172.3,64.3V68.0M174.7,65.4V67.9M176.8,65.1V67.4M178.9,64.6V67.7M183.0,64.5V68.1M186.2,64.3V67.8M188.9,63.7V68.7M193.0,64.2V67.5M195.6,64.3V67.3M199.5,63.9V70.1M202.5,61.9V70.1M204.5,64.6V70.4M207.7,61.8V68.5M209.8,63.1V69.9M212.5,65.1V68.2M216.9,62.6V67.4M219.5,65.0V67.2M223.5,64.7V69.1M226.7,64.7V69.7M229.0,63.0V67.4M232.0,64.6V68.0M236.5,62.4V68.1M240.7,64.6V68.5M244.8,63.0V67.4M249.3,64.6V68.0M253.2,64.2V68.1M255.4,65.1V69.2M258.0,63.2V68.4M261.1,61.9V68.8M264.6,63.5V67.4M267.0,63.4V68.8M269.6,65.0V68.6M273.9,65.0V69.1M278.1,64.1V67.9M280.4,65.3V69.1M283.0,63.8V67.6M287.1,64.1V67.6M289.5,63.8V67.2M292.1,64.2V68.9M295.6,64.8V69.0M298.1,65.4V67.6M301.2,65.3V67.4M304.1,64.1V67.3M307.1,63.4V69.2M310.7,63.9V68.3M313.0,65.3V67.0M317.3,63.9V69.1M319.4,64.0V68.1M323.2,64.7V69.2M325.4,64.2V68.6M329.6,63.8V68.5M333.6,63.4V67.8M337.3,63.4V68.9M340.4,63.7V68.9M343.8,64.0V67.8M347.3,64.1V67.2M350.9,63.2V68.9M354.7,64.5V68.6M358.1,64.4V68.8M360.3,63.7V67.1M363.8,64.3V67.5M367.6,64.3V68.4M371.9,64.8V67.0M374.6,63.9V67.4M377.1,63.4V68.5M380.2,63.4V67.7M383.8,65.0V67.9" stroke="#1a1a1a" stroke-width="0.7" fill="none"/>
<polygon points="184.4,66.3 186.1,57 187.1,57 188.6,66.6" fill="#111"/>
<line x1="170.7" y1="32.1" x2="180.98" y2="42.60" stroke="#4472c4" stroke-width="0.9"/>
<polygon points="184.90,46.60 178.77,44.77 183.20,40.43" fill="#4472c4"/>
<line x1="201.4" y1="29.0" x2="201.47" y2="40.70" stroke="#4472c4" stroke-width="0.9"/>
<polygon points="201.50,46.30 198.37,40.72 204.57,40.68" fill="#4472c4"/>
<line x1="227.5" y1="32.0" x2="227.81" y2="50.70" stroke="#4472c4" stroke-width="0.9"/>
<polygon points="227.90,56.30 224.71,50.75 230.91,50.65" fill="#4472c4"/>
<line x1="249.9" y1="32.0" x2="248.34" y2="48.23" stroke="#4472c4" stroke-width="0.9"/>
<polygon points="247.80,53.80 245.25,47.93 251.42,48.52" fill="#4472c4"/>
<text x="164.6" y="27.7" font-size="12.4" fill="#303030" style="stroke:#303030;stroke-width:0.12px" textLength="18.6" lengthAdjust="spacingAndGlyphs">RS1</text>
<text x="191.4" y="27.7" font-size="12.4" fill="#303030" style="stroke:#303030;stroke-width:0.12px" textLength="18.6" lengthAdjust="spacingAndGlyphs">RS2</text>
<text x="218.6" y="27.7" font-size="12.4" fill="#303030" style="stroke:#303030;stroke-width:0.12px" textLength="18.6" lengthAdjust="spacingAndGlyphs">RS3</text>
<text x="245.5" y="27.7" font-size="12.4" fill="#303030" style="stroke:#303030;stroke-width:0.12px" textLength="18.6" lengthAdjust="spacingAndGlyphs">RS4</text>
<path d="M119.0,300.7H125.4M122.2,297.5V303.9M119.896,298.396L124.504,303.00399999999996M119.896,303.00399999999996L124.504,298.396" stroke="#111" stroke-width="1.0" fill="none"/>
<path d="M188.8,381.6H193.2M191.0,379.40000000000003V383.8M189.416,380.016L192.584,383.184M189.416,383.184L192.584,380.016" stroke="#222" stroke-width="0.9" fill="none"/>
</svg>
</body></html>
